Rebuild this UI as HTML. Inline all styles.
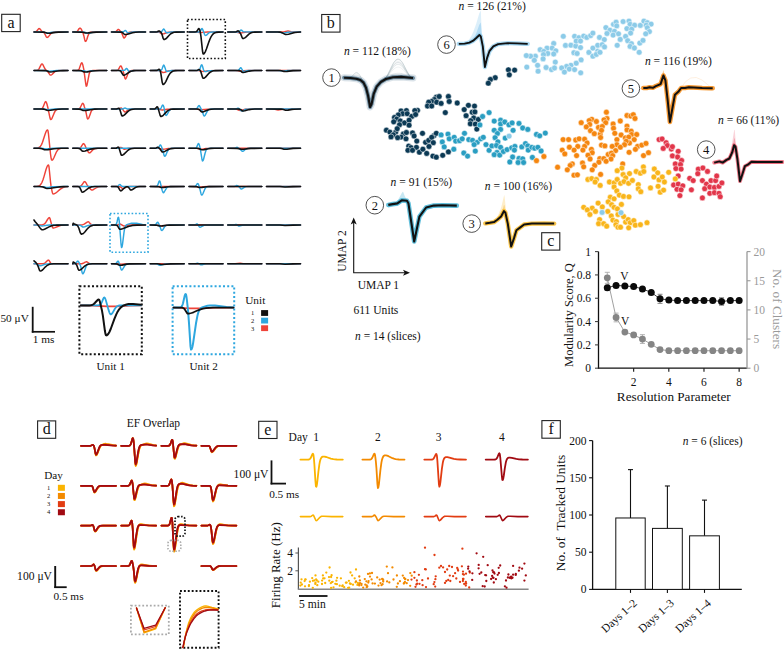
<!DOCTYPE html>
<html><head><meta charset="utf-8"><style>
html,body{margin:0;padding:0;background:#fff;}
svg{display:block;font-family:"Liberation Serif", serif;}
</style></head><body>
<svg width="784" height="652" viewBox="0 0 784 652">
<rect width="784" height="652" fill="#fff"/>
<rect x="1.7" y="14.3" width="18.5" height="17.3" fill="none" stroke="#222" stroke-width="1.1"/>
<text x="10.95" y="27.6" font-size="16" text-anchor="middle" fill="#111"  style="">a</text>
<path d="M34 32L35 31.9L36 31.6L37 30.8L38.5 28.9L39 28.5L39.5 28.6L40 29L41.5 30.9L42 31.4L43.5 32.3L44 32.7L45 34.3L46 36.4L46.5 37.2L47 37.5L47.5 37.4L48.5 36.6L50.5 34.1L51.5 33.1L52 32.7L53 32.3L54 32.1L55.5 32L68 32" fill="none" stroke="#ef4339" stroke-width="1.45" stroke-linejoin="round" stroke-linecap="round" opacity="1" />
<path d="M34 32L42.5 32.1L44 32.3L46 32.9L47 33L48.5 32.9L52 32.2L54 32.1L68 32" fill="none" stroke="#2ea7df" stroke-width="1.45" stroke-linejoin="round" stroke-linecap="round" opacity="1" />
<path d="M34 32L43.5 32.1L45 32.4L47 33.1L48 33.2L50.5 33.1L55.5 32.4L58.5 32.1L68 32" fill="none" stroke="#111111" stroke-width="1.6" stroke-linejoin="round" stroke-linecap="round" opacity="1" />
<path d="M72.8 32L75.8 31.9L76.8 31.6L77.2 31.3L77.8 30.7L79.2 28.5L79.8 28.1L80.2 28.1L80.8 28.5L81.2 29.2L82.8 32.3L83.8 35.7L84.8 40L85.2 41.3L85.8 41.4L86.2 40.7L86.8 39.5L87.8 36.3L88.8 33.9L89.2 33.1L89.8 32.6L90.2 32.3L91.2 32.1L92.2 32L106.8 32" fill="none" stroke="#ef4339" stroke-width="1.45" stroke-linejoin="round" stroke-linecap="round" opacity="1" />
<path d="M72.8 32L83.2 32.1L84.8 32.3L87.2 33.1L88.2 33.2L89.8 33L92.8 32.3L94.8 32.1L106.8 32" fill="none" stroke="#2ea7df" stroke-width="1.45" stroke-linejoin="round" stroke-linecap="round" opacity="1" />
<path d="M72.8 32L81.2 32.1L82.8 32.3L85.2 32.9L86.2 33L88.2 32.9L96.2 32.1L106.8 32" fill="none" stroke="#111111" stroke-width="1.6" stroke-linejoin="round" stroke-linecap="round" opacity="1" />
<path d="M111.5 32L114.5 32L115.5 31.8L116.5 31.1L118 29.5L118.5 29.4L119 29.7L119.5 30.2L121.5 32.8L122 33.8L123.5 37.6L124 38L124.5 37.8L125 37.3L126.5 34.7L127.5 33.3L128 32.8L129 32.3L130 32.1L131 32L145.5 32" fill="none" stroke="#ef4339" stroke-width="1.45" stroke-linejoin="round" stroke-linecap="round" opacity="1" />
<path d="M111.5 32L122.5 32L123.5 31.7L125 30.5L125.5 30.5L126 30.9L127 32.3L127.5 32.7L128 32.9L129 32.9L131.5 32.2L133 32L145.5 32" fill="none" stroke="#2ea7df" stroke-width="1.45" stroke-linejoin="round" stroke-linecap="round" opacity="1" />
<path d="M111.5 32L121 32.1L122 32.3L122.5 32.6L124 34L124.5 34.4L125 34.5L127.5 34.2L132.5 32.8L135.5 32.3L139 32L145.5 32" fill="none" stroke="#111111" stroke-width="1.6" stroke-linejoin="round" stroke-linecap="round" opacity="1" />
<path d="M150.2 32L157.2 32L158.8 32.1L159.8 32.5L161.2 33.6L161.8 33.9L162.2 34L163.8 33.8L167.2 32.5L169.2 32.1L172.2 32L184.2 32" fill="none" stroke="#ef4339" stroke-width="1.45" stroke-linejoin="round" stroke-linecap="round" opacity="1" />
<path d="M150.2 32L160.8 31.9L161.2 31.8L161.8 31.4L163.2 29.3L163.8 29L164.2 29.3L165.8 32L166.2 32.5L166.8 32.7L167.8 32.7L170.2 32.1L171.8 32L184.2 32" fill="none" stroke="#2ea7df" stroke-width="1.45" stroke-linejoin="round" stroke-linecap="round" opacity="1" />
<path d="M150.2 32L156.2 32L157.2 31.8L158.8 31L159.2 31L159.8 31.3L160.8 32.1L161.2 32.7L161.8 33.7L162.2 35L163.2 38.4L163.8 39.4L164.2 39.5L164.8 39.4L165.8 38.8L166.8 37.9L169.2 35.2L170.2 34.2L171.2 33.5L172.8 32.7L174.2 32.3L176.2 32.1L184.2 32" fill="none" stroke="#111111" stroke-width="1.6" stroke-linejoin="round" stroke-linecap="round" opacity="1" />
<path d="M189 32L195.5 32L200 32.6L207.5 32L223 32" fill="none" stroke="#ef4339" stroke-width="1.45" stroke-linejoin="round" stroke-linecap="round" opacity="1" />
<path d="M189 32L198.5 32L199.5 31.8L200 31.5L200.5 30.9L201.5 28.9L202 28.5L202.5 29.1L204.5 34.3L205 35.2L205.5 35.5L206 35.4L206.5 35.1L209 32.8L209.5 32.5L210.5 32.2L212.5 32L223 32" fill="none" stroke="#2ea7df" stroke-width="1.45" stroke-linejoin="round" stroke-linecap="round" opacity="1" />
<path d="M189 32L195 32L196 31.8L196.5 31.6L197 31.1L198.5 28.8L199 28.6L199.5 29.3L200 30.9L200.5 33.4L201 36.8L202.5 51L203 53.7L203.5 54L204 53.7L204.5 53.1L205.5 51.3L206.5 48.8L209 41.6L210 39L211 36.9L212.5 34.6L214 33.2L215 32.7L216 32.4L218.5 32.1L223 32" fill="none" stroke="#111111" stroke-width="1.6" stroke-linejoin="round" stroke-linecap="round" opacity="1" />
<path d="M227.8 32L235.2 32.1L236.8 32.3L239.2 32.9L240.2 33L241.8 32.8L245.2 32.2L247.2 32.1L261.8 32" fill="none" stroke="#ef4339" stroke-width="1.45" stroke-linejoin="round" stroke-linecap="round" opacity="1" />
<path d="M227.8 32L238.2 32L238.8 31.8L239.2 31.6L240.8 30.1L241.2 30L241.8 30.4L243.2 31.7L244.2 31.9L261.8 32" fill="none" stroke="#2ea7df" stroke-width="1.45" stroke-linejoin="round" stroke-linecap="round" opacity="1" />
<path d="M227.8 32L235.2 32L236.2 31.7L237.8 30.9L238.2 30.9L238.8 31.2L239.2 31.7L240.2 33.1L240.8 34.1L242.2 37.7L242.8 38.4L243.2 38.5L243.8 38.4L244.8 37.9L245.8 37.1L249.2 33.9L250.2 33.3L251.8 32.6L253.2 32.2L254.8 32.1L261.8 32" fill="none" stroke="#111111" stroke-width="1.6" stroke-linejoin="round" stroke-linecap="round" opacity="1" />
<path d="M266.5 32L283 32L284.5 31.8L287 31.1L288 31L289 31.1L291 31.7L292.5 31.9L300.5 32" fill="none" stroke="#ef4339" stroke-width="1.45" stroke-linejoin="round" stroke-linecap="round" opacity="1" />
<path d="M266.5 32L278 32L279.5 32.2L282 32.9L283 33L284.5 32.9L288 32.2L290 32.1L300.5 32" fill="none" stroke="#2ea7df" stroke-width="1.45" stroke-linejoin="round" stroke-linecap="round" opacity="1" />
<path d="M266.5 32L277.5 32L280 32.1L281.5 32.5L282.5 32.9L284.5 34.1L285.5 34.5L286 34.5L288.5 34.2L293 32.9L295 32.5L297.5 32.2L300.5 32" fill="none" stroke="#111111" stroke-width="1.6" stroke-linejoin="round" stroke-linecap="round" opacity="1" />
<path d="M34 70.5L36.5 70.4L37.5 70.2L38 69.9L38.5 69.5L39 68.9L41 64.9L41.5 64.2L42 64L42.5 64.2L43 64.9L44.5 68L45.5 69.6L47.5 71.4L49.5 74.2L50 74.8L50.5 75.1L51 75.1L52 74.5L54.5 71.9L55.5 71.2L56.5 70.8L57.5 70.6L59 70.5L68 70.5" fill="none" stroke="#ef4339" stroke-width="1.45" stroke-linejoin="round" stroke-linecap="round" opacity="1" />
<path d="M34 70.5L45 70.5L46.5 70.7L49 71.1L50 71.2L57 70.5L68 70.5" fill="none" stroke="#2ea7df" stroke-width="1.45" stroke-linejoin="round" stroke-linecap="round" opacity="1" />
<path d="M34 70.5L45 70.6L46.5 70.8L49 71.8L50 72L52.5 71.8L57.5 71L60 70.7L63 70.6L68 70.5" fill="none" stroke="#111111" stroke-width="1.6" stroke-linejoin="round" stroke-linecap="round" opacity="1" />
<path d="M72.8 70.5L76.8 70.5L77.8 70.3L78.2 70L78.8 69.5L79.2 68.7L81.2 63.3L81.8 62.8L82.2 63.3L82.8 64.8L83.8 69.4L84.2 72.4L85.8 84.1L86.2 86.2L86.8 85.9L87.2 84.2L88.8 75.9L89.2 73.7L89.8 72.3L90.2 71.4L90.8 70.9L91.8 70.6L92.8 70.5L106.8 70.5" fill="none" stroke="#ef4339" stroke-width="1.45" stroke-linejoin="round" stroke-linecap="round" opacity="1" />
<path d="M72.8 70.5L82.2 70.6L83.8 70.8L86.2 71.4L87.2 71.5L88.8 71.3L92.2 70.7L94.2 70.6L106.8 70.5" fill="none" stroke="#2ea7df" stroke-width="1.45" stroke-linejoin="round" stroke-linecap="round" opacity="1" />
<path d="M72.8 70.5L80.2 70.6L81.8 70.9L84.2 71.9L85.2 72L87.2 71.9L92.2 71L95.2 70.7L99.2 70.5L106.8 70.5" fill="none" stroke="#111111" stroke-width="1.6" stroke-linejoin="round" stroke-linecap="round" opacity="1" />
<path d="M111.5 70.5L116.5 70.5L117.5 70.3L118 70L118.5 69.4L120 66.5L120.5 66L121 66L121.5 66.7L122.5 69.2L123.5 72.4L124.5 76.8L125 78.4L125.5 78.9L126 78.4L126.5 77.5L128 73.5L128.5 72.4L129 71.6L129.5 71.1L130 70.8L131 70.6L132 70.5L145.5 70.5" fill="none" stroke="#ef4339" stroke-width="1.45" stroke-linejoin="round" stroke-linecap="round" opacity="1" />
<path d="M111.5 70.5L124 70.4L124.5 70.3L125 70L126 68.8L126.5 68.4L127 68.6L128.5 71L129 71.3L129.5 71.4L132.5 70.7L134 70.5L145.5 70.5" fill="none" stroke="#2ea7df" stroke-width="1.45" stroke-linejoin="round" stroke-linecap="round" opacity="1" />
<path d="M111.5 70.5L118.5 70.5L120 70.7L120.5 71L121 71.5L123 74.9L123.5 75.2L124.5 75.1L125.5 74.6L130 71.8L131 71.3L132.5 70.9L134 70.6L136 70.5L145.5 70.5" fill="none" stroke="#111111" stroke-width="1.6" stroke-linejoin="round" stroke-linecap="round" opacity="1" />
<path d="M150.2 70.5L159.2 70.6L160.2 70.9L160.8 71.1L162.2 72.3L162.8 72.5L163.2 72.5L164.8 72.2L168.2 70.9L170.2 70.6L173.2 70.5L184.2 70.5" fill="none" stroke="#ef4339" stroke-width="1.45" stroke-linejoin="round" stroke-linecap="round" opacity="1" />
<path d="M150.2 70.5L159.8 70.5L160.8 70.4L161.2 70.1L161.8 69.5L162.2 68.5L163.2 65.7L163.8 65.1L164.2 65.6L165.8 70.1L166.2 70.9L166.8 71.3L167.2 71.5L167.8 71.4L170.2 70.8L172.2 70.5L184.2 70.5" fill="none" stroke="#2ea7df" stroke-width="1.45" stroke-linejoin="round" stroke-linecap="round" opacity="1" />
<path d="M150.2 70.5L156.8 70.4L157.8 70.1L158.8 69.3L159.2 69.2L159.8 69.8L160.2 71L160.8 73.1L162.2 82.3L162.8 84.2L163.2 84.5L163.8 84.3L164.8 83.2L165.8 81.6L168.2 76.4L169.2 74.6L170.2 73.2L171.8 71.8L173.2 71L175.2 70.6L177.8 70.5L184.2 70.5" fill="none" stroke="#111111" stroke-width="1.6" stroke-linejoin="round" stroke-linecap="round" opacity="1" />
<path d="M189 70.5L198.5 70.6L200 70.8L202 71.4L203 71.5L204.5 71.4L208 70.7L210 70.6L223 70.5" fill="none" stroke="#ef4339" stroke-width="1.45" stroke-linejoin="round" stroke-linecap="round" opacity="1" />
<path d="M189 70.5L197.5 70.5L198.5 70.4L199 70.2L199.5 69.7L200 68.7L201 65.7L201.5 64.8L202 65L202.5 66.3L203.5 69.7L204 70.8L204.5 71.4L205 71.6L206 71.6L208.5 70.8L210 70.6L223 70.5" fill="none" stroke="#2ea7df" stroke-width="1.45" stroke-linejoin="round" stroke-linecap="round" opacity="1" />
<path d="M189 70.5L196.5 70.5L197.5 70.2L198.5 69.6L199 69.5L199.5 69.8L200 70.3L200.5 71.1L201 72.2L202.5 77.2L203 78.2L203.5 78.3L204.5 77.9L205.5 77.1L208.5 73.7L210 72.3L211 71.7L212 71.2L213.5 70.8L215.5 70.6L223 70.5" fill="none" stroke="#111111" stroke-width="1.6" stroke-linejoin="round" stroke-linecap="round" opacity="1" />
<path d="M227.8 70.5L235.2 70.5L240.2 71L247.2 70.5L261.8 70.5" fill="none" stroke="#ef4339" stroke-width="1.45" stroke-linejoin="round" stroke-linecap="round" opacity="1" />
<path d="M227.8 70.5L237.8 70.5L238.2 70.3L238.8 70.1L239.2 69.5L240.2 68.1L240.8 67.7L241.2 68L242.8 70.7L243.2 71.2L243.8 71.4L244.8 71.3L247.2 70.7L248.8 70.5L261.8 70.5" fill="none" stroke="#2ea7df" stroke-width="1.45" stroke-linejoin="round" stroke-linecap="round" opacity="1" />
<path d="M227.8 70.5L237.8 70.5L239.2 70.6L240.2 70.9L240.8 71.1L242.2 72.3L242.8 72.5L243.2 72.5L244.8 72.3L249.2 71.1L251.8 70.7L254.8 70.5L261.8 70.5" fill="none" stroke="#111111" stroke-width="1.6" stroke-linejoin="round" stroke-linecap="round" opacity="1" />
<path d="M266.5 70.5L300.5 70.5" fill="none" stroke="#ef4339" stroke-width="1.45" stroke-linejoin="round" stroke-linecap="round" opacity="1" />
<path d="M266.5 70.5L278 70.5L283 71.1L288 70.5L300.5 70.5" fill="none" stroke="#2ea7df" stroke-width="1.45" stroke-linejoin="round" stroke-linecap="round" opacity="1" />
<path d="M266.5 70.5L280 70.5L281.5 70.7L284 71.4L285 71.5L287 71.4L293 70.6L300.5 70.5" fill="none" stroke="#111111" stroke-width="1.6" stroke-linejoin="round" stroke-linecap="round" opacity="1" />
<path d="M34 109L40.5 109L41.5 108.8L42 108.5L42.5 108L43 107.2L45 102.2L45.5 101.6L46 101.7L46.5 102.7L47 104.3L48 108.3L50 118.1L50.5 119.5L51 119.5L51.5 119.1L52 118.3L54 113.4L55 111.4L55.5 110.7L56.5 109.7L57.5 109.3L59 109L68 109" fill="none" stroke="#ef4339" stroke-width="1.45" stroke-linejoin="round" stroke-linecap="round" opacity="1" />
<path d="M34 109L43.5 109L48 109.6L55 109L68 109" fill="none" stroke="#2ea7df" stroke-width="1.45" stroke-linejoin="round" stroke-linecap="round" opacity="1" />
<path d="M34 109L41.5 109L43.5 109.1L45 109.5L47 110.3L48 110.5L50.5 110.3L55.5 109.5L58.5 109.2L62 109L68 109" fill="none" stroke="#111111" stroke-width="1.6" stroke-linejoin="round" stroke-linecap="round" opacity="1" />
<path d="M72.8 109L77.8 109L78.8 108.9L79.2 108.7L79.8 108.3L80.2 107.7L81.8 104.5L82.2 103.7L82.8 103.3L83.2 103.7L83.8 104.7L84.2 106.2L85.8 111.4L87.2 118.1L87.8 119L88.2 118.7L88.8 117.9L90.8 112.4L91.2 111.3L91.8 110.4L92.2 109.8L92.8 109.5L93.8 109.1L94.8 109L106.8 109" fill="none" stroke="#ef4339" stroke-width="1.45" stroke-linejoin="round" stroke-linecap="round" opacity="1" />
<path d="M72.8 109L106.8 109" fill="none" stroke="#2ea7df" stroke-width="1.45" stroke-linejoin="round" stroke-linecap="round" opacity="1" />
<path d="M72.8 109L79.2 109.1L80.8 109.4L83.2 110.4L84.2 110.5L86.2 110.4L91.8 109.5L94.8 109.1L98.8 109L106.8 109" fill="none" stroke="#111111" stroke-width="1.6" stroke-linejoin="round" stroke-linecap="round" opacity="1" />
<path d="M111.5 109L118.5 109L119 108.9L120.5 108.1L121 108L121.5 108.2L122 108.6L123 109.8L124 111.2L124.5 111.8L125 112L125.5 111.9L126 111.6L128.5 109.6L130 109.1L132 109L145.5 109" fill="none" stroke="#ef4339" stroke-width="1.45" stroke-linejoin="round" stroke-linecap="round" opacity="1" />
<path d="M111.5 109L122.5 109L123.5 108.7L124.5 108.1L125 108L125.5 108.1L127 108.9L128 109L145.5 109" fill="none" stroke="#2ea7df" stroke-width="1.45" stroke-linejoin="round" stroke-linecap="round" opacity="1" />
<path d="M111.5 109L116.5 109L117 108.9L118.5 108.2L119 108.3L119.5 108.9L120 110.1L121.5 115L122 115.9L122.5 116L123.5 115.6L124.5 114.9L127.5 111.9L129 110.7L130 110L131.5 109.5L133 109.2L135 109L145.5 109" fill="none" stroke="#111111" stroke-width="1.6" stroke-linejoin="round" stroke-linecap="round" opacity="1" />
<path d="M150.2 109L157.2 109.1L158.8 109.3L161.2 109.9L162.2 110L163.8 109.8L167.2 109.2L169.2 109.1L184.2 109" fill="none" stroke="#ef4339" stroke-width="1.45" stroke-linejoin="round" stroke-linecap="round" opacity="1" />
<path d="M150.2 109L158.8 109L159.8 108.9L160.2 108.8L160.8 108.5L161.2 107.8L162.2 105.6L162.8 105L163.2 105.3L163.8 106.7L165.2 113.8L165.8 115.2L166.2 115.4L166.8 115L167.2 114.3L169.2 110.7L170.2 109.7L171.2 109.2L173.2 109L184.2 109" fill="none" stroke="#2ea7df" stroke-width="1.45" stroke-linejoin="round" stroke-linecap="round" opacity="1" />
<path d="M150.2 109L153.8 109L154.8 108.9L155.2 108.7L155.8 108.2L156.8 107L157.2 106.8L157.8 107.4L158.2 108.6L160.2 115.6L160.8 116.4L161.2 116.5L162.2 116.1L163.2 115.3L166.2 112.1L167.2 111.1L168.2 110.4L169.8 109.6L171.2 109.3L173.2 109.1L184.2 109" fill="none" stroke="#111111" stroke-width="1.6" stroke-linejoin="round" stroke-linecap="round" opacity="1" />
<path d="M189 109L196.5 109.1L201 109.8L208 109.1L223 109" fill="none" stroke="#ef4339" stroke-width="1.45" stroke-linejoin="round" stroke-linecap="round" opacity="1" />
<path d="M189 109L196 108.9L196.5 108.7L197 108.3L198.5 105.8L199 105.5L199.5 105.9L202 110.6L203.5 115.1L204 115.9L204.5 115.9L205 115.5L205.5 114.7L207.5 110.8L208 110.2L209 109.4L210 109.1L211 109L223 109" fill="none" stroke="#2ea7df" stroke-width="1.45" stroke-linejoin="round" stroke-linecap="round" opacity="1" />
<path d="M189 109L197 109L198.5 109.2L199.5 109.7L201 111.4L201.5 111.8L202 112L203 111.9L204 111.6L208.5 109.8L211 109.2L214.5 109L223 109" fill="none" stroke="#111111" stroke-width="1.6" stroke-linejoin="round" stroke-linecap="round" opacity="1" />
<path d="M227.8 109L235.2 109.1L236.8 109.4L239.2 110.4L240.2 110.5L241.8 110.3L245.2 109.3L247.2 109.1L261.8 109" fill="none" stroke="#ef4339" stroke-width="1.45" stroke-linejoin="round" stroke-linecap="round" opacity="1" />
<path d="M227.8 109L235.2 109L236.2 108.8L237.8 108.1L238.2 108.1L238.8 108.4L240.2 109.9L241.2 110.8L241.8 111L242.2 111L243.2 110.6L245.2 109.5L246.2 109.2L247.2 109.1L261.8 109" fill="none" stroke="#2ea7df" stroke-width="1.45" stroke-linejoin="round" stroke-linecap="round" opacity="1" />
<path d="M227.8 109L237.8 109L239.2 109.1L240.2 109.4L240.8 109.6L242.2 110.8L242.8 111L243.2 111L244.8 110.8L249.2 109.6L251.8 109.2L254.8 109L261.8 109" fill="none" stroke="#111111" stroke-width="1.6" stroke-linejoin="round" stroke-linecap="round" opacity="1" />
<path d="M266.5 109L273.5 109.1L275 109.3L277 109.9L278 110L279.5 109.9L283 109.2L285 109.1L300.5 109" fill="none" stroke="#ef4339" stroke-width="1.45" stroke-linejoin="round" stroke-linecap="round" opacity="1" />
<path d="M266.5 109L300.5 109" fill="none" stroke="#2ea7df" stroke-width="1.45" stroke-linejoin="round" stroke-linecap="round" opacity="1" />
<path d="M266.5 109L281 109.1L282.5 109.3L285 110.1L286 110.2L288 110.1L292 109.4L294 109.2L300.5 109" fill="none" stroke="#111111" stroke-width="1.6" stroke-linejoin="round" stroke-linecap="round" opacity="1" />
<path d="M34 148.3L36.5 148.2L38 148L39 147.5L39.5 147.2L40.5 146.2L41.5 144.6L42.5 142.3L45 134.5L46 131.7L46.5 130.7L47 130.1L47.5 129.9L48 130.8L48.5 134.2L50.5 154L51 157.6L51.5 159.8L52 160.2L52.5 160L53 159.4L54 157.5L56.5 151.8L57.5 150.3L58.5 149.3L59.5 148.7L61 148.4L68 148.3" fill="none" stroke="#ef4339" stroke-width="1.45" stroke-linejoin="round" stroke-linecap="round" opacity="1" />
<path d="M34 148.3L41.5 148.3L46 148.9L53 148.3L68 148.3" fill="none" stroke="#2ea7df" stroke-width="1.45" stroke-linejoin="round" stroke-linecap="round" opacity="1" />
<path d="M34 148.3L39 148.3L40.5 148.4L42 148.8L44 149.6L45 149.8L48 149.6L54 148.8L57 148.5L61 148.3L68 148.3" fill="none" stroke="#111111" stroke-width="1.6" stroke-linejoin="round" stroke-linecap="round" opacity="1" />
<path d="M72.8 148.3L78.2 148.3L79.8 148L80.2 147.8L80.8 147.3L81.2 146.7L82.8 144.2L83.2 143.7L83.8 143.6L84.2 144.1L84.8 145L85.8 147.2L88.2 152L88.8 152.7L89.2 152.9L89.8 152.8L90.8 152.1L93.2 149.5L94.2 148.9L95.2 148.5L97.8 148.3L106.8 148.3" fill="none" stroke="#ef4339" stroke-width="1.45" stroke-linejoin="round" stroke-linecap="round" opacity="1" />
<path d="M72.8 148.3L106.8 148.3" fill="none" stroke="#2ea7df" stroke-width="1.45" stroke-linejoin="round" stroke-linecap="round" opacity="1" />
<path d="M72.8 148.3L77.8 148.3L79.2 148.5L80.2 149L81.8 150.6L82.2 151.1L82.8 151.3L83.8 151.2L85.2 151L90.8 149.1L93.8 148.6L97.8 148.3L106.8 148.3" fill="none" stroke="#111111" stroke-width="1.6" stroke-linejoin="round" stroke-linecap="round" opacity="1" />
<path d="M111.5 148.3L117.5 148.2L118.5 148.1L120 147.5L121 147.4L122 147.9L123.5 149L124.5 149.2L127.5 148.5L129 148.3L145.5 148.3" fill="none" stroke="#ef4339" stroke-width="1.45" stroke-linejoin="round" stroke-linecap="round" opacity="1" />
<path d="M111.5 148.3L145.5 148.3" fill="none" stroke="#2ea7df" stroke-width="1.45" stroke-linejoin="round" stroke-linecap="round" opacity="1" />
<path d="M111.5 148.3L116 148.2L116.5 148.1L118 147.1L118.5 147.2L119 148L119.5 149.4L121 154.5L121.5 155.3L122.5 155.1L123.5 154.6L128 150.2L129.5 149.3L131 148.7L132.5 148.5L134.5 148.3L145.5 148.3" fill="none" stroke="#111111" stroke-width="1.6" stroke-linejoin="round" stroke-linecap="round" opacity="1" />
<path d="M150.2 148.3L158.2 148.4L159.8 148.6L162.2 149.2L163.2 149.3L164.8 149.1L168.2 148.5L170.2 148.4L184.2 148.3" fill="none" stroke="#ef4339" stroke-width="1.45" stroke-linejoin="round" stroke-linecap="round" opacity="1" />
<path d="M150.2 148.3L156.8 148.3L157.8 148.1L158.2 147.8L158.8 147.2L159.8 145.5L160.2 145L160.8 145.2L161.2 146L162.2 148.5L164.2 155.7L164.8 156.3L165.2 156L165.8 155.3L167.2 151.8L168.2 150L168.8 149.3L169.8 148.6L170.8 148.4L171.8 148.3L184.2 148.3" fill="none" stroke="#2ea7df" stroke-width="1.45" stroke-linejoin="round" stroke-linecap="round" opacity="1" />
<path d="M150.2 148.3L155.2 148.3L156.2 148L157.2 147.4L157.8 147.3L158.2 147.5L158.8 147.8L159.8 148.6L160.2 149.2L161.8 151.6L162.2 152L162.8 152L163.8 151.8L164.8 151.4L168.8 149.3L169.8 149L171.2 148.6L174.8 148.3L184.2 148.3" fill="none" stroke="#111111" stroke-width="1.6" stroke-linejoin="round" stroke-linecap="round" opacity="1" />
<path d="M189 148.3L196.5 148.4L198 148.6L200 149.2L201 149.3L202.5 149.2L206 148.5L208 148.4L223 148.3" fill="none" stroke="#ef4339" stroke-width="1.45" stroke-linejoin="round" stroke-linecap="round" opacity="1" />
<path d="M189 148.3L195 148.3L195.5 148.2L196 147.9L196.5 147.4L197 146.4L198 144L198.5 143.5L199 144.1L199.5 145.6L200 147.6L200.5 150.1L202 159.5L202.5 160.9L203 160.7L203.5 159.5L205 153.5L206 150.4L206.5 149.5L207 148.9L207.5 148.6L208.5 148.4L209.5 148.3L223 148.3" fill="none" stroke="#2ea7df" stroke-width="1.45" stroke-linejoin="round" stroke-linecap="round" opacity="1" />
<path d="M189 148.3L197 148.3L198.5 148.4L199.5 148.7L201 149.5L202 149.8L204 149.6L208.5 148.7L211 148.4L214.5 148.3L223 148.3" fill="none" stroke="#111111" stroke-width="1.6" stroke-linejoin="round" stroke-linecap="round" opacity="1" />
<path d="M227.8 148.3L261.8 148.3" fill="none" stroke="#ef4339" stroke-width="1.45" stroke-linejoin="round" stroke-linecap="round" opacity="1" />
<path d="M227.8 148.3L234.2 148.3L235.2 148.1L236.8 147.3L237.2 147.3L239.8 148.8L240.2 149.2L241.8 150.9L242.2 151.2L242.8 151.3L243.2 151.1L243.8 150.8L245.2 149.5L246.2 148.9L247.8 148.4L249.8 148.3L261.8 148.3" fill="none" stroke="#2ea7df" stroke-width="1.45" stroke-linejoin="round" stroke-linecap="round" opacity="1" />
<path d="M227.8 148.3L237.2 148.4L238.8 148.6L241.2 149.2L242.2 149.3L243.8 149.2L248.2 148.6L250.8 148.4L261.8 148.3" fill="none" stroke="#111111" stroke-width="1.6" stroke-linejoin="round" stroke-linecap="round" opacity="1" />
<path d="M266.5 148.3L300.5 148.3" fill="none" stroke="#ef4339" stroke-width="1.45" stroke-linejoin="round" stroke-linecap="round" opacity="1" />
<path d="M266.5 148.3L300.5 148.3" fill="none" stroke="#2ea7df" stroke-width="1.45" stroke-linejoin="round" stroke-linecap="round" opacity="1" />
<path d="M266.5 148.3L280 148.3L281.5 148.5L284 149.2L285 149.3L287 149.2L293 148.4L300.5 148.3" fill="none" stroke="#111111" stroke-width="1.6" stroke-linejoin="round" stroke-linecap="round" opacity="1" />
<path d="M34 186.5L37 186.4L38.5 186L39.5 185.6L40 185.2L41 184L42 182.3L43 179.8L44 176.6L46 169.5L47 166.7L47.5 165.7L48 165.1L48.5 164.9L49 166.7L50.5 181.8L51 185.7L52 191.1L52.5 193L53 194L54 193.9L55.5 193.2L57 192L60 189.4L61.5 188.3L62.5 187.8L63.5 187.4L65 186.9L68 186.6" fill="none" stroke="#ef4339" stroke-width="1.45" stroke-linejoin="round" stroke-linecap="round" opacity="1" />
<path d="M34 186.5L42.5 186.6L44 186.8L46 187.4L47 187.5L48.5 187.4L52 186.7L54 186.6L68 186.5" fill="none" stroke="#2ea7df" stroke-width="1.45" stroke-linejoin="round" stroke-linecap="round" opacity="1" />
<path d="M34 186.5L39.5 186.5L41.5 186.7L43 187.1L46 188.3L47 188.5L50.5 188.3L57 187.2L60 186.9L63.5 186.6L68 186.5" fill="none" stroke="#111111" stroke-width="1.6" stroke-linejoin="round" stroke-linecap="round" opacity="1" />
<path d="M72.8 186.5L78.8 186.5L80.2 186.2L81.2 185.6L81.8 185.1L83.8 182.1L84.2 181.7L84.8 181.6L85.2 181.9L85.8 182.5L87.2 185.1L88.8 187.1L90.8 189.4L91.2 189.8L91.8 190L92.2 190L93.2 189.7L96.8 187.5L97.8 187.1L98.8 186.8L101.2 186.5L106.8 186.5" fill="none" stroke="#ef4339" stroke-width="1.45" stroke-linejoin="round" stroke-linecap="round" opacity="1" />
<path d="M72.8 186.5L106.8 186.5" fill="none" stroke="#2ea7df" stroke-width="1.45" stroke-linejoin="round" stroke-linecap="round" opacity="1" />
<path d="M72.8 186.5L77.8 186.5L78.8 186.7L79.2 186.9L79.8 187.5L80.2 188.4L81.8 191.9L82.2 192.2L83.2 192L84.2 191.5L88.2 188.3L89.8 187.5L91.2 186.9L92.8 186.7L94.8 186.5L106.8 186.5" fill="none" stroke="#111111" stroke-width="1.6" stroke-linejoin="round" stroke-linecap="round" opacity="1" />
<path d="M111.5 186.5L118 186.5L119.5 186.6L120.5 187L122 188.1L122.5 188.4L123 188.5L124 188.3L126.5 186.9L128 186.6L130.5 186.5L145.5 186.5" fill="none" stroke="#ef4339" stroke-width="1.45" stroke-linejoin="round" stroke-linecap="round" opacity="1" />
<path d="M111.5 186.5L116.5 186.5L117.5 186.4L118 186.1L119.5 184.6L120 184.5L120.5 184.9L121.5 186L122 186.3L123 186.5L145.5 186.5" fill="none" stroke="#2ea7df" stroke-width="1.45" stroke-linejoin="round" stroke-linecap="round" opacity="1" />
<path d="M111.5 186.5L116.5 186.5L117.5 186.7L118 187L118.5 187.6L120 190.3L120.5 190.8L121 190.9L122 190.3L124 188.3L125 187.5L126.5 186.8L127.5 186.7L128 186.9L128.5 187.3L129 187.9L130 189.4L130.5 189.9L131 190L131.5 189.9L132.5 189.5L135 187.8L136 187.3L137.5 186.8L140 186.5L145.5 186.5" fill="none" stroke="#111111" stroke-width="1.6" stroke-linejoin="round" stroke-linecap="round" opacity="1" />
<path d="M150.2 186.5L184.2 186.5" fill="none" stroke="#ef4339" stroke-width="1.45" stroke-linejoin="round" stroke-linecap="round" opacity="1" />
<path d="M150.2 186.5L155.8 186.5L156.8 186.2L157.2 185.8L157.8 184.9L158.8 181.9L159.2 180.9L159.8 180.9L160.2 182.1L162.2 190.5L162.8 192L163.2 192.7L163.8 192.5L164.2 192L166.2 188.6L166.8 187.9L167.2 187.4L168.2 186.8L169.2 186.6L170.2 186.5L184.2 186.5" fill="none" stroke="#2ea7df" stroke-width="1.45" stroke-linejoin="round" stroke-linecap="round" opacity="1" />
<path d="M150.2 186.5L157.2 186.6L158.8 186.8L161.2 187.4L162.2 187.5L163.8 187.4L168.2 186.8L170.8 186.6L184.2 186.5" fill="none" stroke="#111111" stroke-width="1.6" stroke-linejoin="round" stroke-linecap="round" opacity="1" />
<path d="M189 186.5L195.5 186.5L200 187L207.5 186.5L223 186.5" fill="none" stroke="#ef4339" stroke-width="1.45" stroke-linejoin="round" stroke-linecap="round" opacity="1" />
<path d="M189 186.5L194 186.5L195 186.4L195.5 186.1L196 185.6L197 184.1L197.5 183.6L198 183.7L198.5 184.4L199.5 187.3L201 193.7L201.5 195L202 195L202.5 194.4L203 193.5L205 188.7L206 187.4L207 186.8L208 186.6L209 186.5L223 186.5" fill="none" stroke="#2ea7df" stroke-width="1.45" stroke-linejoin="round" stroke-linecap="round" opacity="1" />
<path d="M189 186.5L195.5 186.6L197 186.8L199 187.4L200 187.5L202 187.4L206.5 186.8L209 186.6L223 186.5" fill="none" stroke="#111111" stroke-width="1.6" stroke-linejoin="round" stroke-linecap="round" opacity="1" />
<path d="M227.8 186.5L261.8 186.5" fill="none" stroke="#ef4339" stroke-width="1.45" stroke-linejoin="round" stroke-linecap="round" opacity="1" />
<path d="M227.8 186.5L234.2 186.5L235.2 186.3L236.8 185.5L237.2 185.6L237.8 185.8L238.8 186.6L240.8 188.8L241.2 189L242.2 188.7L244.8 187.1L246.2 186.6L248.2 186.5L261.8 186.5" fill="none" stroke="#2ea7df" stroke-width="1.45" stroke-linejoin="round" stroke-linecap="round" opacity="1" />
<path d="M227.8 186.5L261.8 186.5" fill="none" stroke="#111111" stroke-width="1.6" stroke-linejoin="round" stroke-linecap="round" opacity="1" />
<path d="M266.5 186.5L300.5 186.5" fill="none" stroke="#ef4339" stroke-width="1.45" stroke-linejoin="round" stroke-linecap="round" opacity="1" />
<path d="M266.5 186.5L300.5 186.5" fill="none" stroke="#2ea7df" stroke-width="1.45" stroke-linejoin="round" stroke-linecap="round" opacity="1" />
<path d="M266.5 186.5L280 186.5L285 187L293 186.6L300.5 186.5" fill="none" stroke="#111111" stroke-width="1.6" stroke-linejoin="round" stroke-linecap="round" opacity="1" />
<path d="M34 225L41 225L42.5 224.8L43.5 224.5L44.5 223.9L45.5 222.8L47.5 219.5L48.5 218.1L49 217.7L49.5 217.6L50 218.5L52 226.1L52.5 227.4L53 227.9L54 227.9L55 227.6L59 226L61 225.4L63.5 225.1L68 225" fill="none" stroke="#ef4339" stroke-width="1.45" stroke-linejoin="round" stroke-linecap="round" opacity="1" />
<path d="M34 225L38 225.1L41 225.9L42 226L43.5 225.9L47 225.2L49.5 225L68 225" fill="none" stroke="#2ea7df" stroke-width="1.45" stroke-linejoin="round" stroke-linecap="round" opacity="1" />
<path d="M34 220L35 221.5L38 225.1L40.5 228.6L41.5 229.5L42 229.7L43 229.7L44.5 229.3L50 226.4L51.5 225.8L53 225.4L55 225.2L57 225.1L68 225" fill="none" stroke="#111111" stroke-width="1.6" stroke-linejoin="round" stroke-linecap="round" opacity="1" />
<path d="M72.8 225L80.2 225L82.8 224.7L84.2 224.1L87.2 222.1L88.2 221.8L88.8 221.9L89.2 222.4L90.8 224.2L91.2 224.5L92.2 224.9L93.8 225L106.8 225" fill="none" stroke="#ef4339" stroke-width="1.45" stroke-linejoin="round" stroke-linecap="round" opacity="1" />
<path d="M72.8 225L79.2 225.1L80.2 225.4L80.8 225.6L82.2 226.8L82.8 227L83.2 227L84.8 226.7L88.2 225.4L90.2 225.1L93.2 225L106.8 225" fill="none" stroke="#2ea7df" stroke-width="1.45" stroke-linejoin="round" stroke-linecap="round" opacity="1" />
<path d="M72.8 225L73.2 223.2L74.2 223.9L76.2 224.8L77.2 225.4L77.8 226L78.2 226.8L78.8 228L80.2 232.4L80.8 233.6L81.2 234.1L81.8 234.1L82.8 233.8L83.8 233L84.8 232L87.2 229L88.8 227.4L90.2 226.3L91.8 225.7L93.2 225.3L95.8 225.1L106.8 225" fill="none" stroke="#111111" stroke-width="1.6" stroke-linejoin="round" stroke-linecap="round" opacity="1" />
<path d="M111.5 225L117.5 225L118.5 224.7L119.5 224.1L120 224L120.5 224.1L123.5 225.9L124 226L125 225.9L127.5 225.2L129 225L145.5 225" fill="none" stroke="#ef4339" stroke-width="1.45" stroke-linejoin="round" stroke-linecap="round" opacity="1" />
<path d="M111.5 225L115 225L115.5 224.9L116 224.6L116.5 223.7L117 222L118 217.6L118.5 217.2L119 219.4L119.5 223.7L121 243.8L121.5 247.5L122 247L122.5 244.3L124 232.3L124.5 229.2L125 227.2L125.5 225.9L126 225.2L126.5 224.8L127.5 224.4L131.5 223.3L133.5 223.1L136.5 223.3L142.5 224.4L145.5 224.7" fill="none" stroke="#2ea7df" stroke-width="1.45" stroke-linejoin="round" stroke-linecap="round" opacity="1" />
<path d="M111.5 225L115.5 225L116.5 225.2L117 225.4L117.5 225.9L118 226.6L119 228.5L119.5 229.1L120 229.2L121 229.1L122.5 228.8L129 226.3L130.5 225.9L132.5 225.4L137 225.1L145.5 225" fill="none" stroke="#111111" stroke-width="1.6" stroke-linejoin="round" stroke-linecap="round" opacity="1" />
<path d="M150.2 225L157.2 225.1L158.8 225.3L161.2 225.9L162.2 226L163.8 225.8L167.2 225.2L169.2 225.1L184.2 225" fill="none" stroke="#ef4339" stroke-width="1.45" stroke-linejoin="round" stroke-linecap="round" opacity="1" />
<path d="M150.2 225L154.2 225L155.2 224.8L155.8 224.5L157.2 222.4L157.8 222.3L158.2 222.8L158.8 223.8L161.2 230.1L161.8 230.5L162.2 230.3L162.8 229.8L164.2 227.4L165.2 226.1L165.8 225.7L166.8 225.2L167.8 225.1L169.2 225L184.2 225" fill="none" stroke="#2ea7df" stroke-width="1.45" stroke-linejoin="round" stroke-linecap="round" opacity="1" />
<path d="M150.2 225L155.8 225.1L156.8 225.3L159.2 225.9L160.2 226L162.2 225.9L166.8 225.2L169.2 225.1L184.2 225" fill="none" stroke="#111111" stroke-width="1.6" stroke-linejoin="round" stroke-linecap="round" opacity="1" />
<path d="M189 225L223 225" fill="none" stroke="#ef4339" stroke-width="1.45" stroke-linejoin="round" stroke-linecap="round" opacity="1" />
<path d="M189 225L194.5 224.9L195.5 224.6L196.5 224L197 223.9L197.5 224.2L199 226.4L199.5 227L200 227.2L201 226.9L203.5 225.5L205 225.1L207.5 225L223 225" fill="none" stroke="#2ea7df" stroke-width="1.45" stroke-linejoin="round" stroke-linecap="round" opacity="1" />
<path d="M189 225L223 225" fill="none" stroke="#111111" stroke-width="1.6" stroke-linejoin="round" stroke-linecap="round" opacity="1" />
<path d="M227.8 225L261.8 225" fill="none" stroke="#ef4339" stroke-width="1.45" stroke-linejoin="round" stroke-linecap="round" opacity="1" />
<path d="M227.8 225L233.8 225L235.8 224.4L236.2 224.5L236.8 224.7L238.2 225.8L238.8 226L239.2 226L240.2 225.8L242.2 225.3L244.2 225L261.8 225" fill="none" stroke="#2ea7df" stroke-width="1.45" stroke-linejoin="round" stroke-linecap="round" opacity="1" />
<path d="M227.8 225L261.8 225" fill="none" stroke="#111111" stroke-width="1.6" stroke-linejoin="round" stroke-linecap="round" opacity="1" />
<path d="M266.5 225L300.5 225" fill="none" stroke="#ef4339" stroke-width="1.45" stroke-linejoin="round" stroke-linecap="round" opacity="1" />
<path d="M266.5 225L300.5 225" fill="none" stroke="#2ea7df" stroke-width="1.45" stroke-linejoin="round" stroke-linecap="round" opacity="1" />
<path d="M266.5 225L280 225L285 225.5L293 225.1L300.5 225" fill="none" stroke="#111111" stroke-width="1.6" stroke-linejoin="round" stroke-linecap="round" opacity="1" />
<path d="M34 263.8L41.5 263.8L43.5 263.6L44.5 263.3L45 263L47.5 260.5L48 260.2L48.5 260.1L49 260.4L50.5 262.9L51 263.4L51.5 263.6L52 263.7L68 263.8" fill="none" stroke="#ef4339" stroke-width="1.45" stroke-linejoin="round" stroke-linecap="round" opacity="1" />
<path d="M34 263.8L36 263.9L37 264.1L38 264.6L39.5 265.7L40 265.8L41.5 265.6L45 264.3L47.5 263.9L50.5 263.8L68 263.8" fill="none" stroke="#2ea7df" stroke-width="1.45" stroke-linejoin="round" stroke-linecap="round" opacity="1" />
<path d="M34 260.8L36 262.7L37 263.9L38 266.1L39.5 270.2L40 270.9L40.5 271L41.5 270.7L42.5 270L45.5 266.8L47 265.5L48 264.9L49.5 264.3L51 264L53.5 263.8L68 263.8" fill="none" stroke="#111111" stroke-width="1.6" stroke-linejoin="round" stroke-linecap="round" opacity="1" />
<path d="M72.8 263.8L79.8 263.8L81.8 263.7L83.2 263.3L85.2 262.2L86.2 261.8L86.8 261.8L87.2 262L89.2 263.4L90.8 263.8L106.8 263.8" fill="none" stroke="#ef4339" stroke-width="1.45" stroke-linejoin="round" stroke-linecap="round" opacity="1" />
<path d="M72.8 263.8L75.2 263.7L75.8 263.5L76.2 263L77.2 261.4L77.8 261L78.2 261.3L78.8 262.1L80.2 265.1L80.8 266.6L82.2 272.9L82.8 273.8L83.2 273.6L83.8 272.7L85.8 267.2L86.2 266.1L86.8 265.2L87.2 264.6L88.2 264L89.2 263.9L90.2 263.8L106.8 263.8" fill="none" stroke="#2ea7df" stroke-width="1.45" stroke-linejoin="round" stroke-linecap="round" opacity="1" />
<path d="M72.8 263.8L73.2 262L75.8 263.7L76.2 264.4L76.8 265.3L78.2 269.3L78.8 270.1L79.2 270.2L80.2 269.9L81.2 269.3L84.2 266.5L85.8 265.4L86.8 264.8L88.2 264.2L89.8 264L92.2 263.8L106.8 263.8" fill="none" stroke="#111111" stroke-width="1.6" stroke-linejoin="round" stroke-linecap="round" opacity="1" />
<path d="M111.5 263.8L118.5 263.8L121 264.3L124.5 263.9L126.5 263.8L145.5 263.8" fill="none" stroke="#ef4339" stroke-width="1.45" stroke-linejoin="round" stroke-linecap="round" opacity="1" />
<path d="M111.5 263.8L114.5 263.8L115.5 263.7L116 263.4L116.5 262.9L117.5 261.3L118 261.1L118.5 261.5L119 262.7L121 269.2L121.5 270L122 269.9L122.5 269.4L125 265.3L126 264.4L127 264L129 263.8L145.5 263.8" fill="none" stroke="#2ea7df" stroke-width="1.45" stroke-linejoin="round" stroke-linecap="round" opacity="1" />
<path d="M111.5 263.8L116.5 263.9L117.5 264.2L119 265L120 265.3L122 265.1L127 264.1L129.5 263.9L145.5 263.8" fill="none" stroke="#111111" stroke-width="1.6" stroke-linejoin="round" stroke-linecap="round" opacity="1" />
<path d="M150.2 263.8L184.2 263.8" fill="none" stroke="#ef4339" stroke-width="1.45" stroke-linejoin="round" stroke-linecap="round" opacity="1" />
<path d="M150.2 263.8L156.2 263.9L157.8 264.3L159.2 265.1L159.8 265.3L160.2 265.3L161.2 265.1L164.2 264.2L166.2 263.9L184.2 263.8" fill="none" stroke="#2ea7df" stroke-width="1.45" stroke-linejoin="round" stroke-linecap="round" opacity="1" />
<path d="M150.2 263.8L157.2 263.8L158.8 264L161.2 264.5L162.2 264.5L170.8 263.9L184.2 263.8" fill="none" stroke="#111111" stroke-width="1.6" stroke-linejoin="round" stroke-linecap="round" opacity="1" />
<path d="M189 263.8L223 263.8" fill="none" stroke="#ef4339" stroke-width="1.45" stroke-linejoin="round" stroke-linecap="round" opacity="1" />
<path d="M189 263.8L195.5 263.8L197.5 263.3L198 263.3L198.5 263.5L200 264.5L201 264.8L202 264.7L204.5 264L206 263.8L223 263.8" fill="none" stroke="#2ea7df" stroke-width="1.45" stroke-linejoin="round" stroke-linecap="round" opacity="1" />
<path d="M189 263.8L223 263.8" fill="none" stroke="#111111" stroke-width="1.6" stroke-linejoin="round" stroke-linecap="round" opacity="1" />
<path d="M227.8 263.8L235.2 263.8L240.2 263.3L243.2 263.7L245.2 263.8L261.8 263.8" fill="none" stroke="#ef4339" stroke-width="1.45" stroke-linejoin="round" stroke-linecap="round" opacity="1" />
<path d="M227.8 263.8L261.8 263.8" fill="none" stroke="#2ea7df" stroke-width="1.45" stroke-linejoin="round" stroke-linecap="round" opacity="1" />
<path d="M227.8 263.8L261.8 263.8" fill="none" stroke="#111111" stroke-width="1.6" stroke-linejoin="round" stroke-linecap="round" opacity="1" />
<path d="M266.5 263.8L300.5 263.8" fill="none" stroke="#ef4339" stroke-width="1.45" stroke-linejoin="round" stroke-linecap="round" opacity="1" />
<path d="M266.5 263.8L300.5 263.8" fill="none" stroke="#2ea7df" stroke-width="1.45" stroke-linejoin="round" stroke-linecap="round" opacity="1" />
<path d="M266.5 263.8L280 263.8L285 264.2L293 263.9L300.5 263.8" fill="none" stroke="#111111" stroke-width="1.6" stroke-linejoin="round" stroke-linecap="round" opacity="1" />
<rect x="187.5" y="19.5" width="37.8" height="39" rx="0" fill="none" stroke="#111" stroke-width="1.6" stroke-dasharray="1.6 2"/>
<rect x="110" y="213.5" width="38" height="38.7" rx="0" fill="none" stroke="#2ea7df" stroke-width="1.6" stroke-dasharray="1.6 2"/>
<rect x="79.4" y="286.2" width="62.4" height="68" rx="0" fill="none" stroke="#111" stroke-width="2" stroke-dasharray="2 2.2"/>
<rect x="172.6" y="286.2" width="61.6" height="68" rx="0" fill="none" stroke="#2ea7df" stroke-width="2" stroke-dasharray="2 2.2"/>
<path d="M80.8 305.4L93.3 305.6L106.9 306.3L111.9 306.4L116.9 306.3L130.5 305.6L141 305.4" fill="none" stroke="#ef4339" stroke-width="1.8" stroke-linejoin="round" stroke-linecap="round" opacity="1" />
<path d="M80.8 305.4L97.4 305.4L99.4 305.2L100.4 304.7L100.9 304.1L101.9 302.2L103.4 298.4L103.9 297.6L104.4 297.5L104.9 297.9L105.4 299L105.9 300.5L108.4 309.4L109.4 312.5L109.9 313.6L110.4 314.3L110.9 314.4L111.4 314.2L112.4 313.1L114.9 308.8L115.9 307.4L116.9 306.4L118.4 305.7L119.4 305.5L121.4 305.4L141 305.4" fill="none" stroke="#2ea7df" stroke-width="1.8" stroke-linejoin="round" stroke-linecap="round" opacity="1" />
<path d="M80.8 305.4L89.3 305.4L90.8 305.2L91.8 305L92.8 304.6L93.8 304L94.8 303L97.4 300.2L97.9 299.8L98.4 299.6L98.9 299.6L99.4 300.2L99.9 301.7L101.9 310.2L102.9 315.9L104.9 330.8L105.4 333.6L105.9 335.1L106.4 335.4L106.9 335.2L107.9 334.4L108.4 333.7L109.4 332L110.9 328.5L114.4 318.9L116.4 314.1L117.4 312.1L118.4 310.4L119.4 309L120.9 307.4L122.4 306.2L124.4 305.2L126.5 304.5L128.5 304.1L130.5 303.9L133 304L141 304.8" fill="none" stroke="#111111" stroke-width="2" stroke-linejoin="round" stroke-linecap="round" opacity="1" />
<path d="M173.5 307.7L190.5 308.3L195 308.4L200 308.3L215.5 307.7L233.5 307.6" fill="none" stroke="#ef4339" stroke-width="1.8" stroke-linejoin="round" stroke-linecap="round" opacity="1" />
<path d="M173.5 307.6L180 307.5L181 307.1L181.5 306.7L182 305.9L182.5 304.8L183 303.2L184.5 296.6L185 294.9L185.5 294L186 294.5L186.5 297L187 301L188 310.4L189 323.1L190.5 346.4L191 349.5L191.5 349.3L192 348.2L192.5 346.4L193 343.8L196 323.3L197.5 315.4L198 313.5L199 310.7L199.5 309.8L200.5 308.5L201.5 307.7L203.5 306.9L207.5 305.8L210 305.4L215 305.6L226.5 307L233.5 307.4" fill="none" stroke="#2ea7df" stroke-width="2" stroke-linejoin="round" stroke-linecap="round" opacity="1" />
<path d="M173.5 307.6L181 307.6L182 307.7L183 307.9L184 308.5L184.5 309L187 313L187.5 313.5L188 313.6L189.5 313.5L191.5 313L193.5 312.3L198 310.3L200.5 309.3L203 308.6L206 308.1L209 307.8L213 307.6L233.5 307.6" fill="none" stroke="#111111" stroke-width="1.8" stroke-linejoin="round" stroke-linecap="round" opacity="1" />
<text x="110.6" y="369.5" font-size="11.2" text-anchor="middle" fill="#111"  style="">Unit 1</text>
<text x="203.6" y="369.5" font-size="11.2" text-anchor="middle" fill="#111"  style="">Unit 2</text>
<text x="245.2" y="303.8" font-size="11.3" text-anchor="start" fill="#111"  style="">Unit</text>
<rect x="261.1" y="310.1" width="7" height="5.8" fill="#111111"/>
<text x="252.7" y="315.3" font-size="6.5" text-anchor="middle" fill="#111"  style="">1</text>
<rect x="261.1" y="317.7" width="7" height="5.8" fill="#2ea7df"/>
<text x="252.7" y="322.9" font-size="6.5" text-anchor="middle" fill="#111"  style="">2</text>
<rect x="261.1" y="325.3" width="7" height="5.8" fill="#ef4339"/>
<text x="252.7" y="330.5" font-size="6.5" text-anchor="middle" fill="#111"  style="">3</text>
<line x1="32.7" y1="306.8" x2="32.7" y2="332.7" stroke="#111" stroke-width="1.8" />
<line x1="31.8" y1="331.8" x2="55" y2="331.8" stroke="#111" stroke-width="1.7" />
<text x="28.8" y="321.9" font-size="11.3" text-anchor="end" fill="#111"  style="">50 μV</text>
<text x="43.5" y="343.2" font-size="11.3" text-anchor="middle" fill="#111"  style="">1 ms</text>
<rect x="321.7" y="14.5" width="18.3" height="17.6" fill="none" stroke="#222" stroke-width="1.1"/>
<text x="330.85" y="28.1" font-size="16" text-anchor="middle" fill="#111"  style="">b</text>
<circle cx="563.3" cy="36.3" r="2.9" fill="#8ccbe8" stroke="#fff" stroke-width="0.5"/>
<circle cx="574.6" cy="36.3" r="2.9" fill="#8ccbe8" stroke="#fff" stroke-width="0.5"/>
<circle cx="578.9" cy="37.7" r="2.9" fill="#8ccbe8" stroke="#fff" stroke-width="0.5"/>
<circle cx="583.7" cy="36.1" r="2.9" fill="#8ccbe8" stroke="#fff" stroke-width="0.5"/>
<circle cx="586.8" cy="37.4" r="2.9" fill="#8ccbe8" stroke="#fff" stroke-width="0.5"/>
<circle cx="590.7" cy="35.6" r="2.9" fill="#8ccbe8" stroke="#fff" stroke-width="0.5"/>
<circle cx="592.9" cy="33.1" r="2.9" fill="#8ccbe8" stroke="#fff" stroke-width="0.5"/>
<circle cx="553.7" cy="43.5" r="2.9" fill="#8ccbe8" stroke="#fff" stroke-width="0.5"/>
<circle cx="547" cy="48.1" r="2.9" fill="#8ccbe8" stroke="#fff" stroke-width="0.5"/>
<circle cx="552.1" cy="48.1" r="2.9" fill="#8ccbe8" stroke="#fff" stroke-width="0.5"/>
<circle cx="540.2" cy="49.7" r="2.9" fill="#8ccbe8" stroke="#fff" stroke-width="0.5"/>
<circle cx="543.8" cy="51.4" r="2.9" fill="#8ccbe8" stroke="#fff" stroke-width="0.5"/>
<circle cx="547.8" cy="53.5" r="2.9" fill="#8ccbe8" stroke="#fff" stroke-width="0.5"/>
<circle cx="555.8" cy="50.8" r="2.9" fill="#8ccbe8" stroke="#fff" stroke-width="0.5"/>
<circle cx="543.5" cy="54.6" r="2.9" fill="#8ccbe8" stroke="#fff" stroke-width="0.5"/>
<circle cx="553.7" cy="54" r="2.9" fill="#8ccbe8" stroke="#fff" stroke-width="0.5"/>
<circle cx="535.4" cy="56.2" r="2.9" fill="#8ccbe8" stroke="#fff" stroke-width="0.5"/>
<circle cx="530.6" cy="56.2" r="2.9" fill="#8ccbe8" stroke="#fff" stroke-width="0.5"/>
<circle cx="526.3" cy="55.6" r="2.9" fill="#8ccbe8" stroke="#fff" stroke-width="0.5"/>
<circle cx="534.3" cy="60.3" r="2.9" fill="#8ccbe8" stroke="#fff" stroke-width="0.5"/>
<circle cx="543.1" cy="58.9" r="2.9" fill="#8ccbe8" stroke="#fff" stroke-width="0.5"/>
<circle cx="555.3" cy="62.1" r="2.9" fill="#8ccbe8" stroke="#fff" stroke-width="0.5"/>
<circle cx="537.6" cy="65.3" r="2.9" fill="#8ccbe8" stroke="#fff" stroke-width="0.5"/>
<circle cx="526.8" cy="67.1" r="2.9" fill="#8ccbe8" stroke="#fff" stroke-width="0.5"/>
<circle cx="546.1" cy="67.5" r="2.9" fill="#8ccbe8" stroke="#fff" stroke-width="0.5"/>
<circle cx="551.5" cy="69.6" r="2.9" fill="#8ccbe8" stroke="#fff" stroke-width="0.5"/>
<circle cx="554.5" cy="68" r="2.9" fill="#8ccbe8" stroke="#fff" stroke-width="0.5"/>
<circle cx="538.1" cy="71.2" r="2.9" fill="#8ccbe8" stroke="#fff" stroke-width="0.5"/>
<circle cx="565.5" cy="45.4" r="2.9" fill="#8ccbe8" stroke="#fff" stroke-width="0.5"/>
<circle cx="570.9" cy="45.2" r="2.9" fill="#8ccbe8" stroke="#fff" stroke-width="0.5"/>
<circle cx="575.7" cy="46" r="2.9" fill="#8ccbe8" stroke="#fff" stroke-width="0.5"/>
<circle cx="580.5" cy="47.6" r="2.9" fill="#8ccbe8" stroke="#fff" stroke-width="0.5"/>
<circle cx="576.2" cy="41.1" r="2.9" fill="#8ccbe8" stroke="#fff" stroke-width="0.5"/>
<circle cx="580.5" cy="41.1" r="2.9" fill="#8ccbe8" stroke="#fff" stroke-width="0.5"/>
<circle cx="573.9" cy="52.7" r="2.9" fill="#8ccbe8" stroke="#fff" stroke-width="0.5"/>
<circle cx="577.1" cy="53.5" r="2.9" fill="#8ccbe8" stroke="#fff" stroke-width="0.5"/>
<circle cx="581.1" cy="59.9" r="2.9" fill="#8ccbe8" stroke="#fff" stroke-width="0.5"/>
<circle cx="576.2" cy="63.2" r="2.9" fill="#8ccbe8" stroke="#fff" stroke-width="0.5"/>
<circle cx="570.9" cy="65.3" r="2.9" fill="#8ccbe8" stroke="#fff" stroke-width="0.5"/>
<circle cx="566.6" cy="66.4" r="2.9" fill="#8ccbe8" stroke="#fff" stroke-width="0.5"/>
<circle cx="569.2" cy="69.1" r="2.9" fill="#8ccbe8" stroke="#fff" stroke-width="0.5"/>
<circle cx="561.7" cy="68" r="2.9" fill="#8ccbe8" stroke="#fff" stroke-width="0.5"/>
<circle cx="564.4" cy="72.1" r="2.9" fill="#8ccbe8" stroke="#fff" stroke-width="0.5"/>
<circle cx="574.6" cy="69.6" r="2.9" fill="#8ccbe8" stroke="#fff" stroke-width="0.5"/>
<circle cx="580.7" cy="72.8" r="2.9" fill="#8ccbe8" stroke="#fff" stroke-width="0.5"/>
<circle cx="588.9" cy="52.4" r="2.9" fill="#8ccbe8" stroke="#fff" stroke-width="0.5"/>
<circle cx="592.9" cy="48.1" r="2.9" fill="#8ccbe8" stroke="#fff" stroke-width="0.5"/>
<circle cx="592.9" cy="56.2" r="2.9" fill="#8ccbe8" stroke="#fff" stroke-width="0.5"/>
<circle cx="599.5" cy="37.4" r="2.9" fill="#8ccbe8" stroke="#fff" stroke-width="0.5"/>
<circle cx="604.3" cy="39.6" r="2.9" fill="#8ccbe8" stroke="#fff" stroke-width="0.5"/>
<circle cx="597.7" cy="45.3" r="2.9" fill="#8ccbe8" stroke="#fff" stroke-width="0.5"/>
<circle cx="602.2" cy="44.7" r="2.9" fill="#8ccbe8" stroke="#fff" stroke-width="0.5"/>
<circle cx="604.5" cy="46.9" r="2.9" fill="#8ccbe8" stroke="#fff" stroke-width="0.5"/>
<circle cx="597.7" cy="51.2" r="2.9" fill="#8ccbe8" stroke="#fff" stroke-width="0.5"/>
<circle cx="596.3" cy="54.4" r="2.9" fill="#8ccbe8" stroke="#fff" stroke-width="0.5"/>
<circle cx="600" cy="52.3" r="2.9" fill="#8ccbe8" stroke="#fff" stroke-width="0.5"/>
<circle cx="605.9" cy="27.6" r="2.9" fill="#8ccbe8" stroke="#fff" stroke-width="0.5"/>
<circle cx="609.9" cy="30.2" r="2.9" fill="#8ccbe8" stroke="#fff" stroke-width="0.5"/>
<circle cx="607" cy="33.5" r="2.9" fill="#8ccbe8" stroke="#fff" stroke-width="0.5"/>
<circle cx="613.5" cy="24.3" r="2.9" fill="#8ccbe8" stroke="#fff" stroke-width="0.5"/>
<circle cx="616.1" cy="22.2" r="2.9" fill="#8ccbe8" stroke="#fff" stroke-width="0.5"/>
<circle cx="616.7" cy="25.9" r="2.9" fill="#8ccbe8" stroke="#fff" stroke-width="0.5"/>
<circle cx="614.5" cy="31.3" r="2.9" fill="#8ccbe8" stroke="#fff" stroke-width="0.5"/>
<circle cx="613.1" cy="35.1" r="2.9" fill="#8ccbe8" stroke="#fff" stroke-width="0.5"/>
<circle cx="618.5" cy="33.8" r="2.9" fill="#8ccbe8" stroke="#fff" stroke-width="0.5"/>
<circle cx="620.2" cy="39.4" r="2.9" fill="#8ccbe8" stroke="#fff" stroke-width="0.5"/>
<circle cx="617.2" cy="45.3" r="2.9" fill="#8ccbe8" stroke="#fff" stroke-width="0.5"/>
<circle cx="623.1" cy="21.6" r="2.9" fill="#8ccbe8" stroke="#fff" stroke-width="0.5"/>
<circle cx="629" cy="21.1" r="2.9" fill="#8ccbe8" stroke="#fff" stroke-width="0.5"/>
<circle cx="630.1" cy="24.3" r="2.9" fill="#8ccbe8" stroke="#fff" stroke-width="0.5"/>
<circle cx="634.6" cy="25.2" r="2.9" fill="#8ccbe8" stroke="#fff" stroke-width="0.5"/>
<circle cx="626.9" cy="28.6" r="2.9" fill="#8ccbe8" stroke="#fff" stroke-width="0.5"/>
<circle cx="631.7" cy="29.2" r="2.9" fill="#8ccbe8" stroke="#fff" stroke-width="0.5"/>
<circle cx="630.6" cy="33.1" r="2.9" fill="#8ccbe8" stroke="#fff" stroke-width="0.5"/>
<circle cx="625.6" cy="36.4" r="2.9" fill="#8ccbe8" stroke="#fff" stroke-width="0.5"/>
<circle cx="627.7" cy="40.7" r="2.9" fill="#8ccbe8" stroke="#fff" stroke-width="0.5"/>
<circle cx="631.4" cy="43.7" r="2.9" fill="#8ccbe8" stroke="#fff" stroke-width="0.5"/>
<circle cx="630.1" cy="46.4" r="2.9" fill="#8ccbe8" stroke="#fff" stroke-width="0.5"/>
<circle cx="634.4" cy="48" r="2.9" fill="#8ccbe8" stroke="#fff" stroke-width="0.5"/>
<circle cx="639.2" cy="52.3" r="2.9" fill="#8ccbe8" stroke="#fff" stroke-width="0.5"/>
<circle cx="639.8" cy="43.1" r="2.9" fill="#8ccbe8" stroke="#fff" stroke-width="0.5"/>
<circle cx="643" cy="40.4" r="2.9" fill="#8ccbe8" stroke="#fff" stroke-width="0.5"/>
<circle cx="640.3" cy="25.4" r="2.9" fill="#8ccbe8" stroke="#fff" stroke-width="0.5"/>
<circle cx="643.9" cy="21.1" r="2.9" fill="#8ccbe8" stroke="#fff" stroke-width="0.5"/>
<circle cx="647.3" cy="22.7" r="2.9" fill="#8ccbe8" stroke="#fff" stroke-width="0.5"/>
<circle cx="651.1" cy="24.1" r="2.9" fill="#8ccbe8" stroke="#fff" stroke-width="0.5"/>
<circle cx="646.2" cy="25.2" r="2.9" fill="#8ccbe8" stroke="#fff" stroke-width="0.5"/>
<circle cx="647.3" cy="27.8" r="2.9" fill="#8ccbe8" stroke="#fff" stroke-width="0.5"/>
<circle cx="649.4" cy="31.6" r="2.9" fill="#8ccbe8" stroke="#fff" stroke-width="0.5"/>
<circle cx="645.7" cy="33.8" r="2.9" fill="#8ccbe8" stroke="#fff" stroke-width="0.5"/>
<circle cx="508.4" cy="69.8" r="2.9" fill="#0b3954" stroke="#fff" stroke-width="0.5"/>
<circle cx="514.6" cy="70.1" r="2.9" fill="#0b3954" stroke="#fff" stroke-width="0.5"/>
<circle cx="509.3" cy="74.8" r="2.9" fill="#0b3954" stroke="#fff" stroke-width="0.5"/>
<circle cx="495.2" cy="77.7" r="2.9" fill="#0b3954" stroke="#fff" stroke-width="0.5"/>
<circle cx="490.4" cy="79.5" r="2.9" fill="#0b3954" stroke="#fff" stroke-width="0.5"/>
<circle cx="488.3" cy="83.2" r="2.9" fill="#0b3954" stroke="#fff" stroke-width="0.5"/>
<circle cx="436.3" cy="97.2" r="2.9" fill="#0b3954" stroke="#fff" stroke-width="0.5"/>
<circle cx="434.4" cy="99.5" r="2.9" fill="#0b3954" stroke="#fff" stroke-width="0.5"/>
<circle cx="431.7" cy="101.4" r="2.9" fill="#0b3954" stroke="#fff" stroke-width="0.5"/>
<circle cx="428.7" cy="102.2" r="2.9" fill="#0b3954" stroke="#fff" stroke-width="0.5"/>
<circle cx="427.5" cy="106" r="2.9" fill="#0b3954" stroke="#fff" stroke-width="0.5"/>
<circle cx="431.7" cy="106" r="2.9" fill="#0b3954" stroke="#fff" stroke-width="0.5"/>
<circle cx="436.7" cy="102.2" r="2.9" fill="#0b3954" stroke="#fff" stroke-width="0.5"/>
<circle cx="417.5" cy="110.3" r="2.9" fill="#0b3954" stroke="#fff" stroke-width="0.5"/>
<circle cx="414.8" cy="110.6" r="2.9" fill="#0b3954" stroke="#fff" stroke-width="0.5"/>
<circle cx="406.4" cy="110.6" r="2.9" fill="#0b3954" stroke="#fff" stroke-width="0.5"/>
<circle cx="401" cy="111" r="2.9" fill="#0b3954" stroke="#fff" stroke-width="0.5"/>
<circle cx="402.6" cy="113.7" r="2.9" fill="#0b3954" stroke="#fff" stroke-width="0.5"/>
<circle cx="398.3" cy="114.9" r="2.9" fill="#0b3954" stroke="#fff" stroke-width="0.5"/>
<circle cx="407.2" cy="113.7" r="2.9" fill="#0b3954" stroke="#fff" stroke-width="0.5"/>
<circle cx="411.8" cy="116.4" r="2.9" fill="#0b3954" stroke="#fff" stroke-width="0.5"/>
<circle cx="415.6" cy="114.5" r="2.9" fill="#0b3954" stroke="#fff" stroke-width="0.5"/>
<circle cx="394.5" cy="117.5" r="2.9" fill="#0b3954" stroke="#fff" stroke-width="0.5"/>
<circle cx="396.8" cy="119.1" r="2.9" fill="#0b3954" stroke="#fff" stroke-width="0.5"/>
<circle cx="393.7" cy="121.8" r="2.9" fill="#0b3954" stroke="#fff" stroke-width="0.5"/>
<circle cx="400.3" cy="121" r="2.9" fill="#0b3954" stroke="#fff" stroke-width="0.5"/>
<circle cx="404.5" cy="122.9" r="2.9" fill="#0b3954" stroke="#fff" stroke-width="0.5"/>
<circle cx="409.1" cy="120.2" r="2.9" fill="#0b3954" stroke="#fff" stroke-width="0.5"/>
<circle cx="409.1" cy="125.2" r="2.9" fill="#0b3954" stroke="#fff" stroke-width="0.5"/>
<circle cx="399.5" cy="124.8" r="2.9" fill="#0b3954" stroke="#fff" stroke-width="0.5"/>
<circle cx="386.4" cy="130.2" r="2.9" fill="#0b3954" stroke="#fff" stroke-width="0.5"/>
<circle cx="389.9" cy="132.1" r="2.9" fill="#0b3954" stroke="#fff" stroke-width="0.5"/>
<circle cx="395.7" cy="132.1" r="2.9" fill="#0b3954" stroke="#fff" stroke-width="0.5"/>
<circle cx="397.2" cy="128.7" r="2.9" fill="#0b3954" stroke="#fff" stroke-width="0.5"/>
<circle cx="393.3" cy="134.8" r="2.9" fill="#0b3954" stroke="#fff" stroke-width="0.5"/>
<circle cx="403.3" cy="134" r="2.9" fill="#0b3954" stroke="#fff" stroke-width="0.5"/>
<circle cx="406.4" cy="132.5" r="2.9" fill="#0b3954" stroke="#fff" stroke-width="0.5"/>
<circle cx="412.5" cy="132.9" r="2.9" fill="#0b3954" stroke="#fff" stroke-width="0.5"/>
<circle cx="414.1" cy="136" r="2.9" fill="#0b3954" stroke="#fff" stroke-width="0.5"/>
<circle cx="422.5" cy="133.3" r="2.9" fill="#0b3954" stroke="#fff" stroke-width="0.5"/>
<circle cx="434" cy="135.6" r="2.9" fill="#0b3954" stroke="#fff" stroke-width="0.5"/>
<circle cx="436.3" cy="133.3" r="2.9" fill="#0b3954" stroke="#fff" stroke-width="0.5"/>
<circle cx="401" cy="137.1" r="2.9" fill="#0b3954" stroke="#fff" stroke-width="0.5"/>
<circle cx="391" cy="136.9" r="2.9" fill="#0b3954" stroke="#fff" stroke-width="0.5"/>
<circle cx="397.6" cy="137.7" r="2.9" fill="#0b3954" stroke="#fff" stroke-width="0.5"/>
<circle cx="406" cy="138.8" r="2.9" fill="#0b3954" stroke="#fff" stroke-width="0.5"/>
<circle cx="416.8" cy="141.1" r="2.9" fill="#0b3954" stroke="#fff" stroke-width="0.5"/>
<circle cx="408.7" cy="146.1" r="2.9" fill="#0b3954" stroke="#fff" stroke-width="0.5"/>
<circle cx="411" cy="147.6" r="2.9" fill="#0b3954" stroke="#fff" stroke-width="0.5"/>
<circle cx="416.4" cy="147.3" r="2.9" fill="#0b3954" stroke="#fff" stroke-width="0.5"/>
<circle cx="407.9" cy="150.3" r="2.9" fill="#0b3954" stroke="#fff" stroke-width="0.5"/>
<circle cx="412.5" cy="150.3" r="2.9" fill="#0b3954" stroke="#fff" stroke-width="0.5"/>
<circle cx="419.4" cy="152.2" r="2.9" fill="#0b3954" stroke="#fff" stroke-width="0.5"/>
<circle cx="422.9" cy="149.2" r="2.9" fill="#0b3954" stroke="#fff" stroke-width="0.5"/>
<circle cx="425.6" cy="142.3" r="2.9" fill="#0b3954" stroke="#fff" stroke-width="0.5"/>
<circle cx="428.7" cy="140.3" r="2.9" fill="#0b3954" stroke="#fff" stroke-width="0.5"/>
<circle cx="431.7" cy="137.3" r="2.9" fill="#0b3954" stroke="#fff" stroke-width="0.5"/>
<circle cx="433.3" cy="142.7" r="2.9" fill="#0b3954" stroke="#fff" stroke-width="0.5"/>
<circle cx="429" cy="146.5" r="2.9" fill="#0b3954" stroke="#fff" stroke-width="0.5"/>
<circle cx="426.7" cy="153.4" r="2.9" fill="#0b3954" stroke="#fff" stroke-width="0.5"/>
<circle cx="432.9" cy="156.1" r="2.9" fill="#0b3954" stroke="#fff" stroke-width="0.5"/>
<circle cx="436.3" cy="157.2" r="2.9" fill="#0b3954" stroke="#fff" stroke-width="0.5"/>
<circle cx="439.2" cy="96.5" r="2.9" fill="#0b3954" stroke="#fff" stroke-width="0.5"/>
<circle cx="441.1" cy="103.4" r="2.9" fill="#0b3954" stroke="#fff" stroke-width="0.5"/>
<circle cx="448.4" cy="96.5" r="2.9" fill="#0b3954" stroke="#fff" stroke-width="0.5"/>
<circle cx="449.2" cy="101.5" r="2.9" fill="#0b3954" stroke="#fff" stroke-width="0.5"/>
<circle cx="457.2" cy="103" r="2.9" fill="#0b3954" stroke="#fff" stroke-width="0.5"/>
<circle cx="445.3" cy="112.6" r="2.9" fill="#0b3954" stroke="#fff" stroke-width="0.5"/>
<circle cx="468.4" cy="105.3" r="2.9" fill="#0b3954" stroke="#fff" stroke-width="0.5"/>
<circle cx="474.5" cy="106.1" r="2.9" fill="#0b3954" stroke="#fff" stroke-width="0.5"/>
<circle cx="464.2" cy="109.6" r="2.9" fill="#0b3954" stroke="#fff" stroke-width="0.5"/>
<circle cx="472.2" cy="112.2" r="2.9" fill="#0b3954" stroke="#fff" stroke-width="0.5"/>
<circle cx="474.9" cy="111.9" r="2.9" fill="#0b3954" stroke="#fff" stroke-width="0.5"/>
<circle cx="466.1" cy="115.7" r="2.9" fill="#0b3954" stroke="#fff" stroke-width="0.5"/>
<circle cx="473.7" cy="118" r="2.9" fill="#0b3954" stroke="#fff" stroke-width="0.5"/>
<circle cx="470.7" cy="120.7" r="2.9" fill="#0b3954" stroke="#fff" stroke-width="0.5"/>
<circle cx="478.3" cy="119.5" r="2.9" fill="#0b3954" stroke="#fff" stroke-width="0.5"/>
<circle cx="470.3" cy="123.8" r="2.9" fill="#0b3954" stroke="#fff" stroke-width="0.5"/>
<circle cx="475.3" cy="124.1" r="2.9" fill="#0b3954" stroke="#fff" stroke-width="0.5"/>
<circle cx="476.8" cy="129.1" r="2.9" fill="#0b3954" stroke="#fff" stroke-width="0.5"/>
<circle cx="482.6" cy="116.5" r="2.9" fill="#2a9ec2" stroke="#fff" stroke-width="0.5"/>
<circle cx="489.1" cy="112.6" r="2.9" fill="#2a9ec2" stroke="#fff" stroke-width="0.5"/>
<circle cx="479.9" cy="124.9" r="2.9" fill="#2a9ec2" stroke="#fff" stroke-width="0.5"/>
<circle cx="464.5" cy="133.3" r="2.9" fill="#2a9ec2" stroke="#fff" stroke-width="0.5"/>
<circle cx="448" cy="134.1" r="2.9" fill="#2a9ec2" stroke="#fff" stroke-width="0.5"/>
<circle cx="441.1" cy="134.9" r="2.9" fill="#2a9ec2" stroke="#fff" stroke-width="0.5"/>
<circle cx="448.4" cy="151.9" r="2.9" fill="#0b3954" stroke="#fff" stroke-width="0.5"/>
<circle cx="442.7" cy="155.3" r="2.9" fill="#0b3954" stroke="#fff" stroke-width="0.5"/>
<circle cx="449.2" cy="138.8" r="2.9" fill="#2a9ec2" stroke="#fff" stroke-width="0.5"/>
<circle cx="454.2" cy="137.3" r="2.9" fill="#2a9ec2" stroke="#fff" stroke-width="0.5"/>
<circle cx="455.7" cy="141.1" r="2.9" fill="#2a9ec2" stroke="#fff" stroke-width="0.5"/>
<circle cx="459.5" cy="140.7" r="2.9" fill="#2a9ec2" stroke="#fff" stroke-width="0.5"/>
<circle cx="462.2" cy="138.8" r="2.9" fill="#2a9ec2" stroke="#fff" stroke-width="0.5"/>
<circle cx="442.3" cy="141.9" r="2.9" fill="#2a9ec2" stroke="#fff" stroke-width="0.5"/>
<circle cx="444.2" cy="146.9" r="2.9" fill="#2a9ec2" stroke="#fff" stroke-width="0.5"/>
<circle cx="453.8" cy="149.2" r="2.9" fill="#2a9ec2" stroke="#fff" stroke-width="0.5"/>
<circle cx="468.8" cy="139.6" r="2.9" fill="#2a9ec2" stroke="#fff" stroke-width="0.5"/>
<circle cx="472.6" cy="140.3" r="2.9" fill="#2a9ec2" stroke="#fff" stroke-width="0.5"/>
<circle cx="477.2" cy="142.3" r="2.9" fill="#2a9ec2" stroke="#fff" stroke-width="0.5"/>
<circle cx="474.1" cy="144.6" r="2.9" fill="#2a9ec2" stroke="#fff" stroke-width="0.5"/>
<circle cx="480.7" cy="138.8" r="2.9" fill="#2a9ec2" stroke="#fff" stroke-width="0.5"/>
<circle cx="483.3" cy="137.3" r="2.9" fill="#2a9ec2" stroke="#fff" stroke-width="0.5"/>
<circle cx="486" cy="144.6" r="2.9" fill="#2a9ec2" stroke="#fff" stroke-width="0.5"/>
<circle cx="489.1" cy="150.3" r="2.9" fill="#2a9ec2" stroke="#fff" stroke-width="0.5"/>
<circle cx="475.3" cy="151.1" r="2.9" fill="#2a9ec2" stroke="#fff" stroke-width="0.5"/>
<circle cx="463.8" cy="153" r="2.9" fill="#2a9ec2" stroke="#fff" stroke-width="0.5"/>
<circle cx="467.6" cy="156.1" r="2.9" fill="#2a9ec2" stroke="#fff" stroke-width="0.5"/>
<circle cx="494.2" cy="121.1" r="2.9" fill="#2a9ec2" stroke="#fff" stroke-width="0.5"/>
<circle cx="500.6" cy="120.2" r="2.9" fill="#2a9ec2" stroke="#fff" stroke-width="0.5"/>
<circle cx="500.6" cy="123.9" r="2.9" fill="#2a9ec2" stroke="#fff" stroke-width="0.5"/>
<circle cx="504.8" cy="122" r="2.9" fill="#2a9ec2" stroke="#fff" stroke-width="0.5"/>
<circle cx="508.9" cy="124.8" r="2.9" fill="#2a9ec2" stroke="#fff" stroke-width="0.5"/>
<circle cx="512.1" cy="122.9" r="2.9" fill="#2a9ec2" stroke="#fff" stroke-width="0.5"/>
<circle cx="519" cy="123.4" r="2.9" fill="#2a9ec2" stroke="#fff" stroke-width="0.5"/>
<circle cx="522.7" cy="128" r="2.9" fill="#2a9ec2" stroke="#fff" stroke-width="0.5"/>
<circle cx="527.8" cy="129.4" r="2.9" fill="#2a9ec2" stroke="#fff" stroke-width="0.5"/>
<circle cx="513.1" cy="130.3" r="2.9" fill="#2a9ec2" stroke="#fff" stroke-width="0.5"/>
<circle cx="494.2" cy="130.3" r="2.9" fill="#2a9ec2" stroke="#fff" stroke-width="0.5"/>
<circle cx="500.6" cy="129.4" r="2.9" fill="#2a9ec2" stroke="#fff" stroke-width="0.5"/>
<circle cx="497.4" cy="133.5" r="2.9" fill="#2a9ec2" stroke="#fff" stroke-width="0.5"/>
<circle cx="495.1" cy="137.7" r="2.9" fill="#2a9ec2" stroke="#fff" stroke-width="0.5"/>
<circle cx="505.2" cy="138.1" r="2.9" fill="#2a9ec2" stroke="#fff" stroke-width="0.5"/>
<circle cx="536.5" cy="134.4" r="2.9" fill="#2a9ec2" stroke="#fff" stroke-width="0.5"/>
<circle cx="539.7" cy="135.8" r="2.9" fill="#2a9ec2" stroke="#fff" stroke-width="0.5"/>
<circle cx="545.3" cy="133.1" r="2.9" fill="#2a9ec2" stroke="#fff" stroke-width="0.5"/>
<circle cx="491.9" cy="145.9" r="2.9" fill="#2a9ec2" stroke="#fff" stroke-width="0.5"/>
<circle cx="497.9" cy="141.8" r="2.9" fill="#2a9ec2" stroke="#fff" stroke-width="0.5"/>
<circle cx="496.5" cy="145.5" r="2.9" fill="#2a9ec2" stroke="#fff" stroke-width="0.5"/>
<circle cx="500.6" cy="147.3" r="2.9" fill="#2a9ec2" stroke="#fff" stroke-width="0.5"/>
<circle cx="497" cy="152.4" r="2.9" fill="#2a9ec2" stroke="#fff" stroke-width="0.5"/>
<circle cx="494.2" cy="154.7" r="2.9" fill="#2a9ec2" stroke="#fff" stroke-width="0.5"/>
<circle cx="499.7" cy="155.1" r="2.9" fill="#2a9ec2" stroke="#fff" stroke-width="0.5"/>
<circle cx="503.4" cy="151.5" r="2.9" fill="#2a9ec2" stroke="#fff" stroke-width="0.5"/>
<circle cx="507.1" cy="149.6" r="2.9" fill="#2a9ec2" stroke="#fff" stroke-width="0.5"/>
<circle cx="511.7" cy="147.8" r="2.9" fill="#2a9ec2" stroke="#fff" stroke-width="0.5"/>
<circle cx="514.9" cy="146.4" r="2.9" fill="#2a9ec2" stroke="#fff" stroke-width="0.5"/>
<circle cx="514.4" cy="150.1" r="2.9" fill="#2a9ec2" stroke="#fff" stroke-width="0.5"/>
<circle cx="521.8" cy="146.9" r="2.9" fill="#2a9ec2" stroke="#fff" stroke-width="0.5"/>
<circle cx="525.5" cy="143.6" r="2.9" fill="#2a9ec2" stroke="#fff" stroke-width="0.5"/>
<circle cx="527.8" cy="145.9" r="2.9" fill="#2a9ec2" stroke="#fff" stroke-width="0.5"/>
<circle cx="528.2" cy="150.1" r="2.9" fill="#2a9ec2" stroke="#fff" stroke-width="0.5"/>
<circle cx="531.9" cy="147.3" r="2.9" fill="#2a9ec2" stroke="#fff" stroke-width="0.5"/>
<circle cx="534.7" cy="148.2" r="2.9" fill="#2a9ec2" stroke="#fff" stroke-width="0.5"/>
<circle cx="537.9" cy="147.3" r="2.9" fill="#2a9ec2" stroke="#fff" stroke-width="0.5"/>
<circle cx="541.1" cy="151" r="2.9" fill="#2a9ec2" stroke="#fff" stroke-width="0.5"/>
<circle cx="512.6" cy="157" r="2.9" fill="#2a9ec2" stroke="#fff" stroke-width="0.5"/>
<circle cx="519" cy="158.4" r="2.9" fill="#2a9ec2" stroke="#fff" stroke-width="0.5"/>
<circle cx="522.7" cy="158.8" r="2.9" fill="#2a9ec2" stroke="#fff" stroke-width="0.5"/>
<circle cx="532.4" cy="157.4" r="2.9" fill="#2a9ec2" stroke="#fff" stroke-width="0.5"/>
<circle cx="509.8" cy="162" r="2.9" fill="#2a9ec2" stroke="#fff" stroke-width="0.5"/>
<circle cx="518.1" cy="162.5" r="2.9" fill="#2a9ec2" stroke="#fff" stroke-width="0.5"/>
<circle cx="523.6" cy="162.5" r="2.9" fill="#2a9ec2" stroke="#fff" stroke-width="0.5"/>
<circle cx="509.1" cy="136.1" r="2.9" fill="#8ccbe8" stroke="#fff" stroke-width="0.5"/>
<circle cx="543.9" cy="156.5" r="2.9" fill="#f5860f" stroke="#fff" stroke-width="0.5"/>
<circle cx="536.5" cy="160.7" r="2.9" fill="#f5860f" stroke="#fff" stroke-width="0.5"/>
<circle cx="606.4" cy="112.2" r="2.9" fill="#f5860f" stroke="#fff" stroke-width="0.5"/>
<circle cx="607" cy="118.5" r="2.9" fill="#f5860f" stroke="#fff" stroke-width="0.5"/>
<circle cx="604" cy="119.8" r="2.9" fill="#f5860f" stroke="#fff" stroke-width="0.5"/>
<circle cx="605.7" cy="122.7" r="2.9" fill="#f5860f" stroke="#fff" stroke-width="0.5"/>
<circle cx="591.8" cy="119.3" r="2.9" fill="#f5860f" stroke="#fff" stroke-width="0.5"/>
<circle cx="596.4" cy="121.5" r="2.9" fill="#f5860f" stroke="#fff" stroke-width="0.5"/>
<circle cx="589.2" cy="120.6" r="2.9" fill="#f5860f" stroke="#fff" stroke-width="0.5"/>
<circle cx="581.2" cy="122.7" r="2.9" fill="#f5860f" stroke="#fff" stroke-width="0.5"/>
<circle cx="589.7" cy="124.4" r="2.9" fill="#f5860f" stroke="#fff" stroke-width="0.5"/>
<circle cx="586.3" cy="126.9" r="2.9" fill="#f5860f" stroke="#fff" stroke-width="0.5"/>
<circle cx="598.5" cy="127.4" r="2.9" fill="#f5860f" stroke="#fff" stroke-width="0.5"/>
<circle cx="602.3" cy="126.5" r="2.9" fill="#f5860f" stroke="#fff" stroke-width="0.5"/>
<circle cx="590.5" cy="130.7" r="2.9" fill="#f5860f" stroke="#fff" stroke-width="0.5"/>
<circle cx="594.3" cy="133.7" r="2.9" fill="#f5860f" stroke="#fff" stroke-width="0.5"/>
<circle cx="600.2" cy="134.1" r="2.9" fill="#f5860f" stroke="#fff" stroke-width="0.5"/>
<circle cx="601.5" cy="130.3" r="2.9" fill="#f5860f" stroke="#fff" stroke-width="0.5"/>
<circle cx="600.6" cy="137.5" r="2.9" fill="#f5860f" stroke="#fff" stroke-width="0.5"/>
<circle cx="563.1" cy="139.6" r="2.9" fill="#f5860f" stroke="#fff" stroke-width="0.5"/>
<circle cx="568.6" cy="139.6" r="2.9" fill="#f5860f" stroke="#fff" stroke-width="0.5"/>
<circle cx="575.7" cy="140" r="2.9" fill="#f5860f" stroke="#fff" stroke-width="0.5"/>
<circle cx="579.1" cy="138.8" r="2.9" fill="#f5860f" stroke="#fff" stroke-width="0.5"/>
<circle cx="584.6" cy="139.2" r="2.9" fill="#f5860f" stroke="#fff" stroke-width="0.5"/>
<circle cx="587.1" cy="143" r="2.9" fill="#f5860f" stroke="#fff" stroke-width="0.5"/>
<circle cx="569.4" cy="147.2" r="2.9" fill="#f5860f" stroke="#fff" stroke-width="0.5"/>
<circle cx="577.8" cy="146.4" r="2.9" fill="#f5860f" stroke="#fff" stroke-width="0.5"/>
<circle cx="584.6" cy="146.4" r="2.9" fill="#f5860f" stroke="#fff" stroke-width="0.5"/>
<circle cx="574.1" cy="150.1" r="2.9" fill="#f5860f" stroke="#fff" stroke-width="0.5"/>
<circle cx="582.9" cy="150.1" r="2.9" fill="#f5860f" stroke="#fff" stroke-width="0.5"/>
<circle cx="562.2" cy="150.1" r="2.9" fill="#f5860f" stroke="#fff" stroke-width="0.5"/>
<circle cx="564.8" cy="153.9" r="2.9" fill="#f5860f" stroke="#fff" stroke-width="0.5"/>
<circle cx="576.6" cy="155.6" r="2.9" fill="#f5860f" stroke="#fff" stroke-width="0.5"/>
<circle cx="591.4" cy="149.3" r="2.9" fill="#f5860f" stroke="#fff" stroke-width="0.5"/>
<circle cx="592.2" cy="152.7" r="2.9" fill="#f5860f" stroke="#fff" stroke-width="0.5"/>
<circle cx="588" cy="155.2" r="2.9" fill="#f5860f" stroke="#fff" stroke-width="0.5"/>
<circle cx="590.1" cy="159" r="2.9" fill="#f5860f" stroke="#fff" stroke-width="0.5"/>
<circle cx="601.5" cy="145.1" r="2.9" fill="#f5860f" stroke="#fff" stroke-width="0.5"/>
<circle cx="604.9" cy="145.9" r="2.9" fill="#f5860f" stroke="#fff" stroke-width="0.5"/>
<circle cx="599.8" cy="158.6" r="2.9" fill="#f5860f" stroke="#fff" stroke-width="0.5"/>
<circle cx="608.2" cy="154.4" r="2.9" fill="#f5860f" stroke="#fff" stroke-width="0.5"/>
<circle cx="627" cy="115.5" r="2.9" fill="#f5860f" stroke="#fff" stroke-width="0.5"/>
<circle cx="630.8" cy="116" r="2.9" fill="#f5860f" stroke="#fff" stroke-width="0.5"/>
<circle cx="633.3" cy="114.7" r="2.9" fill="#f5860f" stroke="#fff" stroke-width="0.5"/>
<circle cx="635" cy="118.5" r="2.9" fill="#f5860f" stroke="#fff" stroke-width="0.5"/>
<circle cx="620.3" cy="121" r="2.9" fill="#f5860f" stroke="#fff" stroke-width="0.5"/>
<circle cx="613.1" cy="124" r="2.9" fill="#f5860f" stroke="#fff" stroke-width="0.5"/>
<circle cx="613.5" cy="128.2" r="2.9" fill="#f5860f" stroke="#fff" stroke-width="0.5"/>
<circle cx="614.8" cy="133.3" r="2.9" fill="#f5860f" stroke="#fff" stroke-width="0.5"/>
<circle cx="627" cy="126.1" r="2.9" fill="#f5860f" stroke="#fff" stroke-width="0.5"/>
<circle cx="627" cy="129.9" r="2.9" fill="#f5860f" stroke="#fff" stroke-width="0.5"/>
<circle cx="631.2" cy="131.2" r="2.9" fill="#f5860f" stroke="#fff" stroke-width="0.5"/>
<circle cx="631.6" cy="134.5" r="2.9" fill="#f5860f" stroke="#fff" stroke-width="0.5"/>
<circle cx="636.7" cy="134.5" r="2.9" fill="#f5860f" stroke="#fff" stroke-width="0.5"/>
<circle cx="621.1" cy="135" r="2.9" fill="#f5860f" stroke="#fff" stroke-width="0.5"/>
<circle cx="625.3" cy="137.9" r="2.9" fill="#f5860f" stroke="#fff" stroke-width="0.5"/>
<circle cx="628.7" cy="137.1" r="2.9" fill="#f5860f" stroke="#fff" stroke-width="0.5"/>
<circle cx="634.2" cy="139.6" r="2.9" fill="#f5860f" stroke="#fff" stroke-width="0.5"/>
<circle cx="616.9" cy="139.6" r="2.9" fill="#f5860f" stroke="#fff" stroke-width="0.5"/>
<circle cx="629.5" cy="143" r="2.9" fill="#f5860f" stroke="#fff" stroke-width="0.5"/>
<circle cx="626.2" cy="141.3" r="2.9" fill="#f5860f" stroke="#fff" stroke-width="0.5"/>
<circle cx="624.5" cy="144.7" r="2.9" fill="#f5860f" stroke="#fff" stroke-width="0.5"/>
<circle cx="616.9" cy="144.7" r="2.9" fill="#f5860f" stroke="#fff" stroke-width="0.5"/>
<circle cx="612.2" cy="146.4" r="2.9" fill="#f5860f" stroke="#fff" stroke-width="0.5"/>
<circle cx="620.3" cy="147.2" r="2.9" fill="#f5860f" stroke="#fff" stroke-width="0.5"/>
<circle cx="615.6" cy="150.6" r="2.9" fill="#f5860f" stroke="#fff" stroke-width="0.5"/>
<circle cx="611.4" cy="153.1" r="2.9" fill="#f5860f" stroke="#fff" stroke-width="0.5"/>
<circle cx="612.7" cy="155.6" r="2.9" fill="#f5860f" stroke="#fff" stroke-width="0.5"/>
<circle cx="637.6" cy="146.4" r="2.9" fill="#f5860f" stroke="#fff" stroke-width="0.5"/>
<circle cx="635.4" cy="149.3" r="2.9" fill="#f5860f" stroke="#fff" stroke-width="0.5"/>
<circle cx="641.8" cy="145.1" r="2.9" fill="#f5860f" stroke="#fff" stroke-width="0.5"/>
<circle cx="646" cy="143.4" r="2.9" fill="#f5860f" stroke="#fff" stroke-width="0.5"/>
<circle cx="629.1" cy="152.3" r="2.9" fill="#f5860f" stroke="#fff" stroke-width="0.5"/>
<circle cx="643.5" cy="155.6" r="2.9" fill="#f5860f" stroke="#fff" stroke-width="0.5"/>
<circle cx="648.5" cy="152.7" r="2.9" fill="#f5860f" stroke="#fff" stroke-width="0.5"/>
<circle cx="611" cy="159" r="2.9" fill="#f5860f" stroke="#fff" stroke-width="0.5"/>
<circle cx="603.8" cy="158.6" r="2.9" fill="#f5860f" stroke="#fff" stroke-width="0.5"/>
<circle cx="659.1" cy="139.6" r="2.9" fill="#e2364a" stroke="#fff" stroke-width="0.5"/>
<circle cx="598.9" cy="162.2" r="2.9" fill="#f5860f" stroke="#fff" stroke-width="0.5"/>
<circle cx="606.1" cy="161.3" r="2.9" fill="#f5860f" stroke="#fff" stroke-width="0.5"/>
<circle cx="582.5" cy="163" r="2.9" fill="#f5860f" stroke="#fff" stroke-width="0.5"/>
<circle cx="583.7" cy="166.8" r="2.9" fill="#f5860f" stroke="#fff" stroke-width="0.5"/>
<circle cx="594.7" cy="165.5" r="2.9" fill="#f5860f" stroke="#fff" stroke-width="0.5"/>
<circle cx="592.2" cy="169.8" r="2.9" fill="#f5860f" stroke="#fff" stroke-width="0.5"/>
<circle cx="600.6" cy="174.4" r="2.9" fill="#f5860f" stroke="#fff" stroke-width="0.5"/>
<circle cx="557.6" cy="167.2" r="2.9" fill="#f5860f" stroke="#fff" stroke-width="0.5"/>
<circle cx="572.3" cy="163.9" r="2.9" fill="#f5860f" stroke="#fff" stroke-width="0.5"/>
<circle cx="570.2" cy="165.5" r="2.9" fill="#f5860f" stroke="#fff" stroke-width="0.5"/>
<circle cx="567.3" cy="169.8" r="2.9" fill="#f5860f" stroke="#fff" stroke-width="0.5"/>
<circle cx="574" cy="175.2" r="2.9" fill="#f5860f" stroke="#fff" stroke-width="0.5"/>
<circle cx="577.4" cy="174.8" r="2.9" fill="#f5860f" stroke="#fff" stroke-width="0.5"/>
<circle cx="587.9" cy="179.5" r="2.9" fill="#f9b51b" stroke="#fff" stroke-width="0.5"/>
<circle cx="591.7" cy="178.6" r="2.9" fill="#f9b51b" stroke="#fff" stroke-width="0.5"/>
<circle cx="596.4" cy="179.5" r="2.9" fill="#f9b51b" stroke="#fff" stroke-width="0.5"/>
<circle cx="595.1" cy="182" r="2.9" fill="#f9b51b" stroke="#fff" stroke-width="0.5"/>
<circle cx="600.2" cy="185.4" r="2.9" fill="#f9b51b" stroke="#fff" stroke-width="0.5"/>
<circle cx="609.4" cy="182" r="2.9" fill="#f9b51b" stroke="#fff" stroke-width="0.5"/>
<circle cx="614.1" cy="182.8" r="2.9" fill="#f9b51b" stroke="#fff" stroke-width="0.5"/>
<circle cx="614.1" cy="187" r="2.9" fill="#f9b51b" stroke="#fff" stroke-width="0.5"/>
<circle cx="610.3" cy="197.2" r="2.9" fill="#f9b51b" stroke="#fff" stroke-width="0.5"/>
<circle cx="608.2" cy="201.8" r="2.9" fill="#f9b51b" stroke="#fff" stroke-width="0.5"/>
<circle cx="598.1" cy="203.1" r="2.9" fill="#f9b51b" stroke="#fff" stroke-width="0.5"/>
<circle cx="583.7" cy="207.3" r="2.9" fill="#f9b51b" stroke="#fff" stroke-width="0.5"/>
<circle cx="592.2" cy="208.1" r="2.9" fill="#f9b51b" stroke="#fff" stroke-width="0.5"/>
<circle cx="602.3" cy="206.9" r="2.9" fill="#f9b51b" stroke="#fff" stroke-width="0.5"/>
<circle cx="611.6" cy="204.7" r="2.9" fill="#f9b51b" stroke="#fff" stroke-width="0.5"/>
<circle cx="614.1" cy="198.8" r="2.9" fill="#f9b51b" stroke="#fff" stroke-width="0.5"/>
<circle cx="614.1" cy="207.3" r="2.9" fill="#f9b51b" stroke="#fff" stroke-width="0.5"/>
<circle cx="622.7" cy="163.9" r="2.9" fill="#f5860f" stroke="#fff" stroke-width="0.5"/>
<circle cx="621.9" cy="168.1" r="2.9" fill="#f9b51b" stroke="#fff" stroke-width="0.5"/>
<circle cx="617.2" cy="170.7" r="2.9" fill="#f9b51b" stroke="#fff" stroke-width="0.5"/>
<circle cx="623.1" cy="174.5" r="2.9" fill="#f9b51b" stroke="#fff" stroke-width="0.5"/>
<circle cx="629.5" cy="173.6" r="2.9" fill="#f9b51b" stroke="#fff" stroke-width="0.5"/>
<circle cx="625.7" cy="177.8" r="2.9" fill="#f9b51b" stroke="#fff" stroke-width="0.5"/>
<circle cx="617.2" cy="179.5" r="2.9" fill="#f9b51b" stroke="#fff" stroke-width="0.5"/>
<circle cx="620.6" cy="183.3" r="2.9" fill="#f9b51b" stroke="#fff" stroke-width="0.5"/>
<circle cx="624" cy="181.6" r="2.9" fill="#f9b51b" stroke="#fff" stroke-width="0.5"/>
<circle cx="628.6" cy="183.3" r="2.9" fill="#f9b51b" stroke="#fff" stroke-width="0.5"/>
<circle cx="632.4" cy="180.4" r="2.9" fill="#f9b51b" stroke="#fff" stroke-width="0.5"/>
<circle cx="636.2" cy="171.5" r="2.9" fill="#f9b51b" stroke="#fff" stroke-width="0.5"/>
<circle cx="640.4" cy="173.2" r="2.9" fill="#f9b51b" stroke="#fff" stroke-width="0.5"/>
<circle cx="643.4" cy="166.9" r="2.9" fill="#f9b51b" stroke="#fff" stroke-width="0.5"/>
<circle cx="643.8" cy="171.5" r="2.9" fill="#f9b51b" stroke="#fff" stroke-width="0.5"/>
<circle cx="638.3" cy="184.6" r="2.9" fill="#f9b51b" stroke="#fff" stroke-width="0.5"/>
<circle cx="638.3" cy="188.8" r="2.9" fill="#f9b51b" stroke="#fff" stroke-width="0.5"/>
<circle cx="640.8" cy="191.7" r="2.9" fill="#f9b51b" stroke="#fff" stroke-width="0.5"/>
<circle cx="616.8" cy="190.9" r="2.9" fill="#f9b51b" stroke="#fff" stroke-width="0.5"/>
<circle cx="619.3" cy="195.1" r="2.9" fill="#f9b51b" stroke="#fff" stroke-width="0.5"/>
<circle cx="623.5" cy="196.4" r="2.9" fill="#f9b51b" stroke="#fff" stroke-width="0.5"/>
<circle cx="629" cy="196.8" r="2.9" fill="#f9b51b" stroke="#fff" stroke-width="0.5"/>
<circle cx="621.4" cy="204.4" r="2.9" fill="#f9b51b" stroke="#fff" stroke-width="0.5"/>
<circle cx="650.5" cy="187.9" r="2.9" fill="#f9b51b" stroke="#fff" stroke-width="0.5"/>
<circle cx="654.3" cy="169" r="2.9" fill="#f9b51b" stroke="#fff" stroke-width="0.5"/>
<circle cx="657.7" cy="172.8" r="2.9" fill="#f9b51b" stroke="#fff" stroke-width="0.5"/>
<circle cx="653.9" cy="177" r="2.9" fill="#f9b51b" stroke="#fff" stroke-width="0.5"/>
<circle cx="659" cy="179.9" r="2.9" fill="#f9b51b" stroke="#fff" stroke-width="0.5"/>
<circle cx="662.3" cy="177" r="2.9" fill="#f9b51b" stroke="#fff" stroke-width="0.5"/>
<circle cx="664.4" cy="182" r="2.9" fill="#f9b51b" stroke="#fff" stroke-width="0.5"/>
<circle cx="658.1" cy="186.3" r="2.9" fill="#f9b51b" stroke="#fff" stroke-width="0.5"/>
<circle cx="660.2" cy="192.2" r="2.9" fill="#f9b51b" stroke="#fff" stroke-width="0.5"/>
<circle cx="663.6" cy="190.1" r="2.9" fill="#f9b51b" stroke="#fff" stroke-width="0.5"/>
<circle cx="668.7" cy="172.3" r="2.9" fill="#f9b51b" stroke="#fff" stroke-width="0.5"/>
<circle cx="617.4" cy="208.9" r="2.9" fill="#f9b51b" stroke="#fff" stroke-width="0.5"/>
<circle cx="607.8" cy="211.4" r="2.9" fill="#f9b51b" stroke="#fff" stroke-width="0.5"/>
<circle cx="587.3" cy="209.9" r="2.9" fill="#f9b51b" stroke="#fff" stroke-width="0.5"/>
<circle cx="595.5" cy="211.4" r="2.9" fill="#f9b51b" stroke="#fff" stroke-width="0.5"/>
<circle cx="589.9" cy="214.5" r="2.9" fill="#f9b51b" stroke="#fff" stroke-width="0.5"/>
<circle cx="611.3" cy="216" r="2.9" fill="#f9b51b" stroke="#fff" stroke-width="0.5"/>
<circle cx="618" cy="214.5" r="2.9" fill="#f9b51b" stroke="#fff" stroke-width="0.5"/>
<circle cx="623.6" cy="216.5" r="2.9" fill="#f9b51b" stroke="#fff" stroke-width="0.5"/>
<circle cx="599.6" cy="219.6" r="2.9" fill="#f9b51b" stroke="#fff" stroke-width="0.5"/>
<circle cx="598.6" cy="223.7" r="2.9" fill="#f9b51b" stroke="#fff" stroke-width="0.5"/>
<circle cx="603.7" cy="223.7" r="2.9" fill="#f9b51b" stroke="#fff" stroke-width="0.5"/>
<circle cx="606.7" cy="226.2" r="2.9" fill="#f9b51b" stroke="#fff" stroke-width="0.5"/>
<circle cx="612.9" cy="220.1" r="2.9" fill="#f9b51b" stroke="#fff" stroke-width="0.5"/>
<circle cx="616.4" cy="221.6" r="2.9" fill="#f9b51b" stroke="#fff" stroke-width="0.5"/>
<circle cx="615.9" cy="224.7" r="2.9" fill="#f9b51b" stroke="#fff" stroke-width="0.5"/>
<circle cx="618" cy="227.2" r="2.9" fill="#f9b51b" stroke="#fff" stroke-width="0.5"/>
<circle cx="620.5" cy="227.2" r="2.9" fill="#f9b51b" stroke="#fff" stroke-width="0.5"/>
<circle cx="625.6" cy="222.1" r="2.9" fill="#f9b51b" stroke="#fff" stroke-width="0.5"/>
<circle cx="628.2" cy="219.6" r="2.9" fill="#f9b51b" stroke="#fff" stroke-width="0.5"/>
<circle cx="630.2" cy="222.7" r="2.9" fill="#f9b51b" stroke="#fff" stroke-width="0.5"/>
<circle cx="633.8" cy="220.6" r="2.9" fill="#f9b51b" stroke="#fff" stroke-width="0.5"/>
<circle cx="635.3" cy="225.2" r="2.9" fill="#f9b51b" stroke="#fff" stroke-width="0.5"/>
<circle cx="628.7" cy="227.8" r="2.9" fill="#f9b51b" stroke="#fff" stroke-width="0.5"/>
<circle cx="640.4" cy="224.7" r="2.9" fill="#f9b51b" stroke="#fff" stroke-width="0.5"/>
<circle cx="647" cy="222.7" r="2.9" fill="#f9b51b" stroke="#fff" stroke-width="0.5"/>
<circle cx="602.1" cy="212.4" r="2.9" fill="#8ccbe8" stroke="#fff" stroke-width="0.5"/>
<circle cx="621" cy="212.7" r="2.9" fill="#8ccbe8" stroke="#fff" stroke-width="0.5"/>
<circle cx="662.1" cy="139" r="2.9" fill="#e2364a" stroke="#fff" stroke-width="0.5"/>
<circle cx="666.1" cy="142.7" r="2.9" fill="#e2364a" stroke="#fff" stroke-width="0.5"/>
<circle cx="667.3" cy="145.5" r="2.9" fill="#e2364a" stroke="#fff" stroke-width="0.5"/>
<circle cx="663.2" cy="148.4" r="2.9" fill="#e2364a" stroke="#fff" stroke-width="0.5"/>
<circle cx="671.3" cy="149" r="2.9" fill="#e2364a" stroke="#fff" stroke-width="0.5"/>
<circle cx="672.4" cy="146.7" r="2.9" fill="#e2364a" stroke="#fff" stroke-width="0.5"/>
<circle cx="678.2" cy="151.3" r="2.9" fill="#e2364a" stroke="#fff" stroke-width="0.5"/>
<circle cx="672.4" cy="155.9" r="2.9" fill="#e2364a" stroke="#fff" stroke-width="0.5"/>
<circle cx="677.6" cy="157" r="2.9" fill="#e2364a" stroke="#fff" stroke-width="0.5"/>
<circle cx="681.6" cy="160.5" r="2.9" fill="#e2364a" stroke="#fff" stroke-width="0.5"/>
<circle cx="675.3" cy="163.9" r="2.9" fill="#e2364a" stroke="#fff" stroke-width="0.5"/>
<circle cx="680.5" cy="164.5" r="2.9" fill="#e2364a" stroke="#fff" stroke-width="0.5"/>
<circle cx="675.9" cy="168.6" r="2.9" fill="#e2364a" stroke="#fff" stroke-width="0.5"/>
<circle cx="681.1" cy="169.1" r="2.9" fill="#e2364a" stroke="#fff" stroke-width="0.5"/>
<circle cx="678.2" cy="176" r="2.9" fill="#e2364a" stroke="#fff" stroke-width="0.5"/>
<circle cx="673.6" cy="185" r="2.9" fill="#e2364a" stroke="#fff" stroke-width="0.5"/>
<circle cx="678.2" cy="184.1" r="2.9" fill="#e2364a" stroke="#fff" stroke-width="0.5"/>
<circle cx="682.8" cy="185.8" r="2.9" fill="#e2364a" stroke="#fff" stroke-width="0.5"/>
<circle cx="677" cy="189.3" r="2.9" fill="#e2364a" stroke="#fff" stroke-width="0.5"/>
<circle cx="681.1" cy="189.8" r="2.9" fill="#e2364a" stroke="#fff" stroke-width="0.5"/>
<circle cx="679.9" cy="195.6" r="2.9" fill="#e2364a" stroke="#fff" stroke-width="0.5"/>
<circle cx="689.7" cy="178.3" r="2.9" fill="#e2364a" stroke="#fff" stroke-width="0.5"/>
<circle cx="693.2" cy="180.6" r="2.9" fill="#e2364a" stroke="#fff" stroke-width="0.5"/>
<circle cx="691.4" cy="189.8" r="2.9" fill="#e2364a" stroke="#fff" stroke-width="0.5"/>
<circle cx="698.3" cy="169.1" r="2.9" fill="#e2364a" stroke="#fff" stroke-width="0.5"/>
<circle cx="702.9" cy="168" r="2.9" fill="#e2364a" stroke="#fff" stroke-width="0.5"/>
<circle cx="707.5" cy="171.4" r="2.9" fill="#e2364a" stroke="#fff" stroke-width="0.5"/>
<circle cx="697.8" cy="173.7" r="2.9" fill="#e2364a" stroke="#fff" stroke-width="0.5"/>
<circle cx="702.4" cy="180.6" r="2.9" fill="#e2364a" stroke="#fff" stroke-width="0.5"/>
<circle cx="706.4" cy="184.1" r="2.9" fill="#e2364a" stroke="#fff" stroke-width="0.5"/>
<circle cx="711" cy="180.6" r="2.9" fill="#e2364a" stroke="#fff" stroke-width="0.5"/>
<circle cx="715.6" cy="180.6" r="2.9" fill="#e2364a" stroke="#fff" stroke-width="0.5"/>
<circle cx="716.7" cy="176" r="2.9" fill="#e2364a" stroke="#fff" stroke-width="0.5"/>
<circle cx="704.7" cy="188.7" r="2.9" fill="#e2364a" stroke="#fff" stroke-width="0.5"/>
<circle cx="709.8" cy="187" r="2.9" fill="#e2364a" stroke="#fff" stroke-width="0.5"/>
<circle cx="714.4" cy="187.5" r="2.9" fill="#e2364a" stroke="#fff" stroke-width="0.5"/>
<circle cx="719" cy="186.4" r="2.9" fill="#e2364a" stroke="#fff" stroke-width="0.5"/>
<circle cx="721.9" cy="182.9" r="2.9" fill="#e2364a" stroke="#fff" stroke-width="0.5"/>
<circle cx="709.8" cy="193.3" r="2.9" fill="#e2364a" stroke="#fff" stroke-width="0.5"/>
<circle cx="714.4" cy="192.7" r="2.9" fill="#e2364a" stroke="#fff" stroke-width="0.5"/>
<circle cx="719" cy="193.3" r="2.9" fill="#e2364a" stroke="#fff" stroke-width="0.5"/>
<circle cx="720.2" cy="196.7" r="2.9" fill="#e2364a" stroke="#fff" stroke-width="0.5"/>
<circle cx="702.4" cy="197.9" r="2.9" fill="#e2364a" stroke="#fff" stroke-width="0.5"/>
<circle cx="675.3" cy="178.9" r="2.9" fill="#f9b51b" stroke="#fff" stroke-width="0.5"/>
<path d="M344.1 77.7L350.1 78L356.1 78.7L360.1 79.9L361.1 80.6L363.1 82.3L364.1 83.8L366.1 88.1L368.1 95.8L370.1 107L371.1 105L372.1 101.6L373.1 96.7L374.1 92.8L376.1 88L377.1 86.2L380.1 82.8L381.1 81.8L383.1 80.6L384.1 79.9L385.1 78.9L388.1 75.2L393.1 67.6L395.1 65.7L396.1 65L397.1 64.6L398.1 64.4L399.1 64.6L400.1 65L401.1 65.6L403.1 67.7L407.1 73.2L409.1 75.7L410.1 76.6L411.1 77.3L412.1 77.8" fill="none" stroke="#8a9aa6" stroke-width="0.45" stroke-linejoin="round" stroke-linecap="round" opacity="0.3" />
<path d="M344.1 77.7L350.1 78L356.1 78.7L360.1 79.9L361.1 80.6L363.1 82.3L364.1 83.8L366.1 88.1L368.1 95.8L370.1 107L371.1 105L372.1 101.6L373.1 96.7L374.1 92.8L376.1 88L377.1 86.2L380.1 82.8L381.1 81.8L383.1 80.6L384.1 79.9L385.1 78.8L387.1 76.2L388.1 74.7L393.1 66.1L394.1 64.9L395.1 63.8L396.1 63L397.1 62.6L398.1 62.4L399.1 62.6L400.1 63L401.1 63.8L403.1 66.3L407.1 72.5L409.1 75.3L410.1 76.4L411.1 77.3L412.1 77.8" fill="none" stroke="#8a9aa6" stroke-width="0.45" stroke-linejoin="round" stroke-linecap="round" opacity="0.3" />
<path d="M344.1 77.7L350.1 78L356.1 78.7L360.1 79.9L361.1 80.6L363.1 82.3L364.1 83.8L366.1 88.1L368.1 95.8L370.1 107L371.1 105L372.1 101.6L373.1 96.7L374.1 92.8L376.1 88L377.1 86.2L380.1 82.8L381.1 81.8L383.1 80.6L384.1 79.9L385.1 78.7L387.1 76L388.1 74.4L393.1 65.4L394.1 64.1L395.1 63L396.1 62.2L397.1 61.7L398.1 61.5L399.1 61.7L400.1 62.2L401.1 63L402.1 64.2L403.1 65.6L407.1 72.2L409.1 75.2L410.1 76.3L411.1 77.2L412.1 77.8" fill="none" stroke="#8a9aa6" stroke-width="0.45" stroke-linejoin="round" stroke-linecap="round" opacity="0.3" />
<path d="M344.1 77.7L350.1 78L356.1 78.7L360.1 79.9L361.1 80.6L363.1 82.3L364.1 83.8L366.1 88.1L368.1 95.8L370.1 107L371.1 105L372.1 101.6L373.1 96.7L374.1 92.8L376.1 88L377.1 86.2L380.1 82.8L381.1 81.8L383.1 80.6L384.1 79.8L385.1 78.6L387.1 75.6L388.1 73.8L393.1 63.5L394.1 62L395.1 60.7L396.1 59.8L397.1 59.2L398.1 59L399.1 59.2L400.1 59.8L401.1 60.7L402.1 62.1L403.1 63.7L407.1 71.4L409.1 74.8L410.1 76.1L411.1 77.1L412.1 77.8" fill="none" stroke="#8a9aa6" stroke-width="0.45" stroke-linejoin="round" stroke-linecap="round" opacity="0.3" />
<path d="M344.1 77.7L350.1 78L356.1 78.7L360.1 79.9L361.1 80.6L363.1 82.3L364.1 83.8L366.1 88.1L368.1 95.8L370.1 107L371.1 105L372.1 101.6L373.1 96.7L374.1 92.8L376.1 88L377.1 86.2L380.1 82.8L381.1 81.8L383.1 80.6L384.1 79.9L385.1 78.8L387.1 76.2L388.1 74.7L393.1 66.1L394.1 64.9L395.1 63.9L396.1 63.1L397.1 62.6L398.1 62.4L399.1 62.6L400.1 63.1L401.1 63.8L403.1 66.3L407.1 72.6L409.1 75.3L410.1 76.4L411.1 77.3L412.1 77.8" fill="none" stroke="#8a9aa6" stroke-width="0.45" stroke-linejoin="round" stroke-linecap="round" opacity="0.3" />
<path d="M344.1 77.7L350.1 78L356.1 78.7L360.1 79.9L361.1 80.6L363.1 82.3L364.1 83.8L366.1 88.1L368.1 95.8L370.1 107L371.1 105L372.1 101.6L373.1 96.7L374.1 92.8L376.1 88L377.1 86.2L380.1 82.8L381.1 81.8L383.1 80.6L384.1 79.8L385.1 78.6L387.1 75.6L388.1 73.9L393.1 63.8L394.1 62.3L395.1 61L396.1 60.1L397.1 59.5L398.1 59.3L399.1 59.5L400.1 60.1L401.1 61L402.1 62.4L403.1 64L407.1 71.5L409.1 74.8L410.1 76.1L411.1 77.1L412.1 77.8" fill="none" stroke="#8a9aa6" stroke-width="0.45" stroke-linejoin="round" stroke-linecap="round" opacity="0.3" />
<path d="M344.1 77.7L350.1 78L356.1 78.7L360.1 79.9L361.1 80.6L363.1 82.3L364.1 83.8L366.1 88.1L368.1 95.8L370.1 107L371.1 105L372.1 101.6L373.1 96.7L374.1 92.8L376.1 88L377.1 86.2L380.1 82.8L381.1 81.8L386.1 78.7L393.1 75.3L396.1 74.7L398.1 74.5L401.1 74.7L403.1 75.2L409.1 77.2L412.1 77.9" fill="none" stroke="#8a9aa6" stroke-width="0.45" stroke-linejoin="round" stroke-linecap="round" opacity="0.3" />
<path d="M344.1 77.7L350.1 78L356.1 78.7L360.1 79.9L361.1 80.6L363.1 82.3L364.1 83.8L366.1 88.1L368.1 95.8L370.1 107L371.1 105L372.1 101.6L373.1 96.7L374.1 92.8L376.1 88L377.1 86.2L380.1 82.8L381.1 81.8L383.1 80.6L384.1 79.9L385.1 79L388.1 75.9L393.1 69.7L395.1 68.1L396.1 67.6L397.1 67.2L398.1 67.1L399.1 67.2L400.1 67.5L401.1 68L403.1 69.7L407.1 74.1L409.1 76.1L410.1 76.8L411.1 77.4L412.1 77.8" fill="none" stroke="#8a9aa6" stroke-width="0.45" stroke-linejoin="round" stroke-linecap="round" opacity="0.3" />
<path d="M344.1 77.7L350.1 78L356.1 78.7L360.1 79.9L361.1 80.6L363.1 82.3L364.1 83.8L366.1 88.1L368.1 95.8L370.1 107L371.1 105L372.1 101.6L373.1 96.7L374.1 92.8L376.1 88L377.1 86.2L380.1 82.8L381.1 81.8L383.1 80.6L384.1 79.8L385.1 78.6L387.1 75.6L388.1 73.8L393.1 63.5L394.1 62L395.1 60.7L396.1 59.8L397.1 59.2L398.1 59L399.1 59.2L400.1 59.8L401.1 60.7L402.1 62.1L403.1 63.7L407.1 71.4L409.1 74.8L410.1 76.1L411.1 77.1L412.1 77.8" fill="none" stroke="#8a9aa6" stroke-width="0.45" stroke-linejoin="round" stroke-linecap="round" opacity="0.3" />
<path d="M344.1 77.7L350.1 78L356.1 78.7L360.1 79.9L361.1 80.6L363.1 82.3L364.1 83.8L366.1 88.1L368.1 95.8L370.1 107L371.1 105L372.1 101.6L373.1 96.7L374.1 92.8L376.1 88L377.1 86.2L380.1 82.8L381.1 81.8L383.1 80.6L384.1 79.9L385.1 78.9L388.1 75.1L393.1 67.3L395.1 65.3L396.1 64.6L397.1 64.1L398.1 64L399.1 64.1L400.1 64.5L401.1 65.2L403.1 67.4L407.1 73.1L409.1 75.6L410.1 76.6L411.1 77.3L412.1 77.8" fill="none" stroke="#8a9aa6" stroke-width="0.45" stroke-linejoin="round" stroke-linecap="round" opacity="0.3" />
<path d="M344.1 77.7L350.1 78L356.1 78.7L360.1 79.9L361.1 80.6L363.1 82.3L364.1 83.8L366.1 88.1L368.1 95.8L370.1 107L371.1 105L372.1 101.6L373.1 96.7L374.1 92.8L376.1 88L377.1 86.2L380.1 82.8L381.1 81.8L383.1 80.6L384.1 79.8L385.1 78.6L387.1 75.7L388.1 74L393.1 64.1L394.1 62.6L395.1 61.4L396.1 60.5L397.1 59.9L398.1 59.7L399.1 59.9L400.1 60.4L401.1 61.3L402.1 62.7L403.1 64.2L407.1 71.6L409.1 74.9L410.1 76.2L411.1 77.1L412.1 77.8" fill="none" stroke="#8a9aa6" stroke-width="0.45" stroke-linejoin="round" stroke-linecap="round" opacity="0.3" />
<path d="M344.1 77.7L350.1 78L356.1 78.7L360.1 79.9L361.1 80.6L363.1 82.3L364.1 83.8L366.1 88.1L368.1 95.8L370.1 107L371.1 105L372.1 101.6L373.1 96.7L374.1 92.8L376.1 88L377.1 86.2L380.1 82.8L381.1 81.8L384.1 80L386.1 78.6L388.1 77.4L393.1 74.2L395.1 73.6L397.1 73.2L399.1 73.1L401.1 73.4L403.1 74.2L409.1 77L411.1 77.7L412.1 77.9" fill="none" stroke="#8a9aa6" stroke-width="0.45" stroke-linejoin="round" stroke-linecap="round" opacity="0.3" />
<path d="M344.1 77.7L349.1 77.9L350.1 77.7L351.1 77.2L354.1 74.3L355.1 73.5L356.1 73L357.1 73.1L358.1 73.7L359.1 74.7L360.1 76L363.1 81.5L366.1 88.1L368.1 95.8L370.1 107L371.1 105L372.1 101.6L373.1 96.7L374.1 92.8L376.1 88L377.1 86.2L380.1 82.8L381.1 81.8L386.1 78.9L393.1 77.2L401.1 76.9L412.1 77.9" fill="none" stroke="#8a9aa6" stroke-width="0.45" stroke-linejoin="round" stroke-linecap="round" opacity="0.3" />
<path d="M344.1 77.7L349.1 77.9L350.1 77.8L351.1 77.4L355.1 74.7L356.1 74.3L357.1 74.5L358.1 75L359.1 75.8L360.1 76.9L363.1 81.7L366.1 88.1L368.1 95.8L370.1 107L371.1 105L372.1 101.6L373.1 96.7L374.1 92.8L376.1 88L377.1 86.2L380.1 82.8L381.1 81.8L386.1 78.9L393.1 77.2L401.1 76.9L412.1 77.9" fill="none" stroke="#8a9aa6" stroke-width="0.45" stroke-linejoin="round" stroke-linecap="round" opacity="0.3" />
<path d="M344.1 77.7L349.1 77.9L350.1 77.7L351.1 77.1L352.1 76.2L354.1 74L355.1 73.1L356.1 72.6L357.1 72.7L358.1 73.3L359.1 74.3L360.1 75.7L363.1 81.4L366.1 88.1L368.1 95.8L370.1 107L371.1 105L372.1 101.6L373.1 96.7L374.1 92.8L376.1 88L377.1 86.2L380.1 82.8L381.1 81.8L386.1 78.9L393.1 77.2L401.1 76.9L412.1 77.9" fill="none" stroke="#8a9aa6" stroke-width="0.45" stroke-linejoin="round" stroke-linecap="round" opacity="0.3" />
<path d="M344.1 77.7L349.1 77.9L350.1 77.7L351.1 77.1L352.1 76.1L354.1 73.9L355.1 73L356.1 72.4L357.1 72.5L358.1 73.1L359.1 74.2L360.1 75.6L363.1 81.4L366.1 88.1L368.1 95.8L370.1 107L371.1 105L372.1 101.6L373.1 96.7L374.1 92.8L376.1 88L377.1 86.2L380.1 82.8L381.1 81.8L386.1 78.9L393.1 77.2L401.1 76.9L412.1 77.9" fill="none" stroke="#8a9aa6" stroke-width="0.45" stroke-linejoin="round" stroke-linecap="round" opacity="0.3" />
<path d="M344.1 77.7L350.2 78L356.3 78.7L360.4 80L363.5 82.6L366 87.7L368.1 95.8L370.1 107L371.6 104L373.7 93.8L376.7 86.6L380.8 82L385.9 79L393.1 77.2L401.2 76.9L413 78" fill="none" stroke="#4d7590" stroke-width="7.0" stroke-opacity="0.2" stroke-linejoin="round" stroke-linecap="round"/>
<path d="M344.1 77.7L350.2 78L356.3 78.7L360.4 80L363.5 82.6L366 87.7L368.1 95.8L370.1 107L371.6 104L373.7 93.8L376.7 86.6L380.8 82L385.9 79L393.1 77.2L401.2 76.9L413 78" fill="none" stroke="#1c4a66" stroke-width="4.0" stroke-opacity="0.6" stroke-linejoin="round" stroke-linecap="round"/>
<path d="M344.1 77.7L350.2 78L356.3 78.7L360.4 80L363.5 82.6L366 87.7L368.1 95.8L370.1 107L371.6 104L373.7 93.8L376.7 86.6L380.8 82L385.9 79L393.1 77.2L401.2 76.9L413 78" fill="none" stroke="#111" stroke-width="2.1" stroke-linejoin="round" stroke-linecap="butt"/>
<circle cx="331.5" cy="77.6" r="8.8" fill="#fff" stroke="#333" stroke-width="0.85"/>
<text x="331.5" y="81.9" font-size="12.5" text-anchor="middle" fill="#111"  style="">1</text>
<text x="377.4" y="55" font-size="11.6" text-anchor="middle" fill="#111"  style=""><tspan font-style="italic">n</tspan> = 112 (18%)</text>
<path d="M458.8 43.9L463.3 43.6L464.8 43.2L466.8 41.9L469.3 39.2L471.3 35.9L473.3 31.8L476.3 23.4L479.3 13.2L480.8 10.4L481.3 22.3L482.3 39.7L484.8 66L485.3 65.3L487.3 57.3L489.3 51.5L493.3 46.4L498.3 44.1L507.3 43.1L517.3 43.4L527.3 43.9L527.3 45.9L517.3 45.4L507.3 45.1L498.3 46.1L493.3 48.4L489.3 53.5L487.3 59.3L485.3 67.3L484.8 68L482.8 48.4L480.8 38.4L479.8 37.4L479.3 37.1L473.3 42.6L469.3 44.6L464.8 45.6L458.8 45.9Z" fill="#c4e4f6" opacity="0.6" stroke="none"/>
<path d="M458.8 43.9L464.8 43.6L469.3 42.6L470.3 42.1L471.8 40.9L473.3 39.2L474.8 36.4L476.8 31.8L479.3 24.7L480.8 22.4L481.8 36.4L484.8 66L485.3 65.3L487.3 57.3L489.3 51.5L493.3 46.4L498.3 44.1L507.3 43.1L517.3 43.4L527.3 43.9L527.3 45.4L517.3 44.9L507.3 44.6L498.3 45.6L493.3 47.9L489.3 53L487.3 58.8L485.3 66.8L484.8 67.5L482.8 47.9L480.8 37.9L479.8 36.9L479.3 36.6L473.3 42.1L469.3 44.1L464.8 45.1L458.8 45.4Z" fill="#8fcbee" opacity="0.55" stroke="none"/>
<path d="M458.8 43.9L464.6 43.6L469.4 42.6L473.2 40.7L476.5 37.8L479.4 35L480.8 36.4L482.8 46.4L484.9 67L487.1 57.9L489.4 51.2L493.3 46.4L498.1 44.1L507.6 43.1L517.2 43.4L527.7 43.9" fill="none" stroke="#7cc3ea" stroke-width="4.4" stroke-opacity="0.6" stroke-linejoin="round" stroke-linecap="round"/>
<path d="M458.8 43.9L464.6 43.6L469.4 42.6L473.2 40.7L476.5 37.8L479.4 35L480.8 36.4L482.8 46.4L484.9 67L487.1 57.9L489.4 51.2L493.3 46.4L498.1 44.1L507.6 43.1L517.2 43.4L527.7 43.9" fill="none" stroke="#111" stroke-width="1.9" stroke-linejoin="round" stroke-linecap="butt"/>
<circle cx="446.5" cy="44.6" r="8.8" fill="#fff" stroke="#333" stroke-width="0.85"/>
<text x="446.5" y="48.9" font-size="12.5" text-anchor="middle" fill="#111"  style="">6</text>
<text x="492.2" y="10" font-size="11.6" text-anchor="middle" fill="#111"  style=""><tspan font-style="italic">n</tspan> = 126 (21%)</text>
<path d="M388.3 204.9L391.3 204.3L392.8 203.9L394.3 203.2L396.3 201.8L397.3 200.9L397.8 200.2L399.8 196.8L401.8 193L402.8 191.7L403.3 192.3L404.8 196.2L405.8 198.1L406.8 199.6L408.3 202.9L413.8 238.9L414.3 241L419.3 217.1L419.8 216.1L425.8 207.9L426.3 207.5L433.8 205.6L442.3 205.3L456.8 205.6L456.8 208.1L442.3 207.8L433.8 208.1L426.3 210L425.8 210.4L419.8 218.6L419.3 219.6L414.3 243.5L413.8 241.4L408.8 208.3L408.3 205.5L407.3 203.8L406.8 203.3L401.8 202.8L397.3 205.9L388.3 207.4Z" fill="#8fd0e6" opacity="0.5" stroke="none"/>
<path d="M388.3 204.9L392.7 204.1L397.4 203.4L401.7 200.3L407 200.8L408.4 203.2L414.2 241.5L419.4 216.6L426.1 207.5L433.8 205.6L442.4 205.3L456.8 205.6" fill="none" stroke="#2ea9cf" stroke-width="4.6" stroke-opacity="0.75" stroke-linejoin="round" stroke-linecap="round"/>
<path d="M388.3 204.9L392.7 204.1L397.4 203.4L401.7 200.3L407 200.8L408.4 203.2L414.2 241.5L419.4 216.6L426.1 207.5L433.8 205.6L442.4 205.3L456.8 205.6" fill="none" stroke="#111" stroke-width="2.1" stroke-linejoin="round" stroke-linecap="butt"/>
<circle cx="374.8" cy="205.2" r="8.8" fill="#fff" stroke="#333" stroke-width="0.85"/>
<text x="374.8" y="209.5" font-size="12.5" text-anchor="middle" fill="#111"  style="">2</text>
<text x="421.4" y="186" font-size="11.6" text-anchor="middle" fill="#111"  style=""><tspan font-style="italic">n</tspan> = 91 (15%)</text>
<path d="M485.3 223.4L493.3 222.1L494.3 221.5L495.8 219.6L497.8 216L500.8 208.5L501.8 204.9L503.8 196.4L504.3 195L504.8 198.2L506.8 218.1L507.8 223.6L510.8 243.8L511.3 246.2L514.3 237.2L516.3 230.6L516.8 230L523.8 224.7L524.3 224.5L531.8 223.6L544.3 223.4L553.8 223.6L553.8 225.6L544.3 225.4L531.8 225.6L524.3 226.5L523.8 226.7L516.8 232L516.3 232.6L514.3 239.2L511.3 248.2L510.8 245.8L507.8 225.6L505.3 214.5L504.3 213.4L503.8 213.5L501.3 218L500.8 218.7L497.3 221.8L494.3 223.9L493.8 224.1L485.3 225.4Z" fill="#fde3a6" opacity="0.6" stroke="none"/>
<path d="M485.3 223.4L493.8 222.1L497.3 219.7L498.8 217.9L500.8 214.6L501.8 212L503.8 205.6L504.3 204.8L504.8 206.5L506.3 216.2L507.8 223.6L510.8 243.8L511.3 246.2L514.3 237.2L516.3 230.6L516.8 230L523.8 224.7L524.3 224.5L531.8 223.6L544.3 223.4L553.8 223.6L553.8 225.1L544.3 224.9L531.8 225.1L524.3 226L523.8 226.2L516.8 231.5L516.3 232.1L514.3 238.7L511.3 247.7L510.8 245.3L507.8 225.1L505.3 214L504.3 212.9L503.8 213L501.3 217.5L500.8 218.2L497.3 221.3L494.3 223.4L493.8 223.6L485.3 224.9Z" fill="#f9c24a" opacity="0.5" stroke="none"/>
<path d="M485.3 223.4L489.7 222.8L494 222.1L497.3 219.8L501.1 216.4L504 211.1L505.4 212.6L507.8 223.6L511.2 246.5L514.1 237.9L516.4 230.3L520.3 227.4L524.1 224.5L531.8 223.6L544.2 223.4L554.2 223.6" fill="none" stroke="#f8b620" stroke-width="4.4" stroke-opacity="0.8" stroke-linejoin="round" stroke-linecap="round"/>
<path d="M485.3 223.4L489.7 222.8L494 222.1L497.3 219.8L501.1 216.4L504 211.1L505.4 212.6L507.8 223.6L511.2 246.5L514.1 237.9L516.4 230.3L520.3 227.4L524.1 224.5L531.8 223.6L544.2 223.4L554.2 223.6" fill="none" stroke="#111" stroke-width="2.0" stroke-linejoin="round" stroke-linecap="butt"/>
<circle cx="471.7" cy="223.6" r="8.8" fill="#fff" stroke="#333" stroke-width="0.85"/>
<text x="471.7" y="227.9" font-size="12.5" text-anchor="middle" fill="#111"  style="">3</text>
<text x="518.4" y="190" font-size="11.6" text-anchor="middle" fill="#111"  style=""><tspan font-style="italic">n</tspan> = 100 (16%)</text>
<path d="M643.3 88L646.8 88L649.8 87.3L652.8 87.8L656.8 85.5L658.3 84.3L660.3 82.1L660.8 80.9L663.3 70.1L663.8 71.8L665.3 79.6L667.8 101.4L669.8 121L670.3 119.8L674.8 95.2L675.3 94.4L678.3 91.8L680.8 88.4L681.3 88L684.8 88L688.8 87.2L702.3 88L712.3 88.3L712.3 90.3L702.3 90L688.8 89.2L684.8 90L681.3 90L680.8 90.4L678.3 93.8L675.3 96.4L674.8 97.2L670.3 121.8L669.8 123L667.8 103.4L665.3 82.1L663.8 78.5L663.3 77.8L660.8 85.5L660.3 86.2L655.8 88.1L652.8 89.8L649.8 89.3L646.8 90L643.3 90Z" fill="#f7a040" opacity="0.6" stroke="none"/>
<path d="M681 88Q690 72 702 80Q708 85 712 88" fill="none" stroke="#fde6cc" stroke-width="0.6"/>
<path d="M643.3 88L646.7 88L649.6 87.3L652.9 87.8L655.8 86.1L658.2 85.1L660.6 84.1L663.4 75.5L665.4 80.3L667.8 101.4L669.9 122L672.1 110L674.9 94.7L678.3 91.8L681.1 88L685 88L688.8 87.2L693.6 87.5L702.2 88L712.7 88.3" fill="none" stroke="#f58a14" stroke-width="4.6" stroke-opacity="0.85" stroke-linejoin="round" stroke-linecap="round"/>
<path d="M643.3 88L646.7 88L649.6 87.3L652.9 87.8L655.8 86.1L658.2 85.1L660.6 84.1L663.4 75.5L665.4 80.3L667.8 101.4L669.9 122L672.1 110L674.9 94.7L678.3 91.8L681.1 88L685 88L688.8 87.2L693.6 87.5L702.2 88L712.7 88.3" fill="none" stroke="#111" stroke-width="2.0" stroke-linejoin="round" stroke-linecap="butt"/>
<circle cx="630.9" cy="88.5" r="8.8" fill="#fff" stroke="#333" stroke-width="0.85"/>
<text x="630.9" y="92.8" font-size="12.5" text-anchor="middle" fill="#111"  style="">5</text>
<text x="678.4" y="65" font-size="11.6" text-anchor="middle" fill="#111"  style=""><tspan font-style="italic">n</tspan> = 116 (19%)</text>
<path d="M714.2 162.6L719.2 161.4L722.7 162.6L724.7 161.2L725.7 160.3L727.2 158.4L728.2 156.9L729.2 155L729.7 153.4L731.7 144.9L732.2 142.6L734.2 129.7L734.7 130L736.7 152.9L739.7 178.6L740.2 180.6L744.7 166.7L745.2 166L747.7 164.7L751.2 162L751.7 161.8L757.2 162L782.7 162L782.7 164L757.2 164L751.7 163.8L751.2 164L747.7 166.7L745.2 168L744.7 168.7L740.2 182.6L739.7 180.6L737.2 159.7L735.7 150L735.2 148.4L734.2 147.4L732.2 154.4L729.7 159.8L729.2 160.6L726.7 161.8L722.7 164.6L719.2 163.4L714.2 164.6Z" fill="#f7b8c2" opacity="0.6" stroke="none"/>
<path d="M714.2 162.6L719.2 161.4L722.7 162.6L726.2 160.1L728.2 159L729.2 158.2L730.2 155.7L732.2 148.9L734.2 138.3L734.7 138.5L735.2 141.8L739.7 178.6L740.2 180.6L744.7 166.7L745.2 166L747.7 164.7L751.2 162L751.7 161.8L757.2 162L782.7 162L782.7 163.5L757.2 163.5L751.7 163.3L751.2 163.5L747.7 166.2L745.2 167.5L744.7 168.2L740.2 182.1L739.7 180.1L737.2 159.2L735.7 149.5L735.2 147.9L734.2 146.9L732.2 153.9L729.7 159.3L729.2 160.1L726.7 161.3L722.7 164.1L719.2 162.9L714.2 164.1Z" fill="#ef7386" opacity="0.5" stroke="none"/>
<path d="M714.2 162.6L719.4 161.4L722.7 162.6L726.5 159.9L729.4 158.5L732.2 152.4L734.1 145.3L735.5 146.7L737.4 159L740 181.2L742.1 175L744.9 166.1L747.8 164.7L751.5 161.8L757.2 162L766.7 162L782.7 162" fill="none" stroke="#e8485e" stroke-width="3.8" stroke-opacity="0.7" stroke-linejoin="round" stroke-linecap="round"/>
<path d="M714.2 162.6L719.4 161.4L722.7 162.6L726.5 159.9L729.4 158.5L732.2 152.4L734.1 145.3L735.5 146.7L737.4 159L740 181.2L742.1 175L744.9 166.1L747.8 164.7L751.5 161.8L757.2 162L766.7 162L782.7 162" fill="none" stroke="#111" stroke-width="2.0" stroke-linejoin="round" stroke-linecap="butt"/>
<circle cx="706.2" cy="149.6" r="8.8" fill="#fff" stroke="#333" stroke-width="0.85"/>
<text x="706.2" y="153.9" font-size="12.5" text-anchor="middle" fill="#111"  style="">4</text>
<text x="748.6" y="124" font-size="11.6" text-anchor="middle" fill="#111"  style=""><tspan font-style="italic">n</tspan> = 66 (11%)</text>
<path d="M353.7,272.8 L353.7,221" stroke="#111" stroke-width="1.1" fill="none"/>
<path d="M350.7,224.5 L353.7,217.5 L356.7,224.5 L353.7,222.8 Z" fill="#111"/>
<path d="M353.2,272.8 L406,272.8" stroke="#111" stroke-width="1.1" fill="none"/>
<path d="M403,269.8 L410,272.8 L403,275.8 L404.7,272.8 Z" fill="#111"/>
<text x="378.4" y="289.3" font-size="11.5" text-anchor="middle" fill="#111"  style="">UMAP 1</text>
<text x="0" y="0" font-size="11.5" text-anchor="middle" fill="#111" transform="translate(345.6,251) rotate(-90)">UMAP 2</text>
<text x="353.4" y="314.4" font-size="11.6" text-anchor="start" fill="#111"  style="">611 Units</text>
<text x="355" y="340.3" font-size="11.5" text-anchor="start" fill="#111"  style=""><tspan font-style="italic">n</tspan> = 14 (slices)</text>
<rect x="541.7" y="232.7" width="18.1" height="17.4" fill="none" stroke="#222" stroke-width="1.1"/>
<text x="550.75" y="246.1" font-size="16" text-anchor="middle" fill="#111"  style="">c</text>
<line x1="598.5" y1="251.6" x2="598.5" y2="368.7" stroke="#111" stroke-width="1.3" />
<line x1="597.9" y1="368.2" x2="747" y2="368.2" stroke="#111" stroke-width="1.3" />
<line x1="747" y1="251.6" x2="747" y2="368.7" stroke="#999" stroke-width="1.3" />
<line x1="595" y1="368.2" x2="598.5" y2="368.2" stroke="#444" stroke-width="1.1" />
<text x="591" y="372.2" font-size="11.5" text-anchor="end" fill="#111"  style="">0</text>
<line x1="595" y1="344.88" x2="598.5" y2="344.88" stroke="#444" stroke-width="1.1" />
<text x="591" y="348.88" font-size="11.5" text-anchor="end" fill="#111"  style="">0.2</text>
<line x1="595" y1="321.56" x2="598.5" y2="321.56" stroke="#444" stroke-width="1.1" />
<text x="591" y="325.56" font-size="11.5" text-anchor="end" fill="#111"  style="">0.4</text>
<line x1="595" y1="298.24" x2="598.5" y2="298.24" stroke="#444" stroke-width="1.1" />
<text x="591" y="302.24" font-size="11.5" text-anchor="end" fill="#111"  style="">0.6</text>
<line x1="595" y1="274.92" x2="598.5" y2="274.92" stroke="#444" stroke-width="1.1" />
<text x="591" y="278.92" font-size="11.5" text-anchor="end" fill="#111"  style="">0.8</text>
<line x1="595" y1="251.6" x2="598.5" y2="251.6" stroke="#444" stroke-width="1.1" />
<text x="591" y="255.6" font-size="11.5" text-anchor="end" fill="#111"  style="">1</text>
<line x1="747" y1="368.2" x2="750.5" y2="368.2" stroke="#999" stroke-width="1.1" />
<text x="753.5" y="372.2" font-size="11.5" text-anchor="start" fill="#999"  style="">0</text>
<line x1="747" y1="339.05" x2="750.5" y2="339.05" stroke="#999" stroke-width="1.1" />
<text x="753.5" y="343.05" font-size="11.5" text-anchor="start" fill="#999"  style="">5</text>
<line x1="747" y1="309.9" x2="750.5" y2="309.9" stroke="#999" stroke-width="1.1" />
<text x="753.5" y="313.9" font-size="11.5" text-anchor="start" fill="#999"  style="">10</text>
<line x1="747" y1="280.75" x2="750.5" y2="280.75" stroke="#999" stroke-width="1.1" />
<text x="753.5" y="284.75" font-size="11.5" text-anchor="start" fill="#999"  style="">15</text>
<line x1="747" y1="251.6" x2="750.5" y2="251.6" stroke="#999" stroke-width="1.1" />
<text x="753.5" y="255.6" font-size="11.5" text-anchor="start" fill="#999"  style="">20</text>
<line x1="633.66" y1="368.2" x2="633.66" y2="371.7" stroke="#111" stroke-width="1.1" />
<text x="633.66" y="385.7" font-size="11.5" text-anchor="middle" fill="#111"  style="">2</text>
<line x1="668.82" y1="368.2" x2="668.82" y2="371.7" stroke="#111" stroke-width="1.1" />
<text x="668.82" y="385.7" font-size="11.5" text-anchor="middle" fill="#111"  style="">4</text>
<line x1="703.98" y1="368.2" x2="703.98" y2="371.7" stroke="#111" stroke-width="1.1" />
<text x="703.98" y="385.7" font-size="11.5" text-anchor="middle" fill="#111"  style="">6</text>
<line x1="739.14" y1="368.2" x2="739.14" y2="371.7" stroke="#111" stroke-width="1.1" />
<text x="739.14" y="385.7" font-size="11.5" text-anchor="middle" fill="#111"  style="">8</text>
<text x="673.8" y="400.8" font-size="13.2" text-anchor="middle" fill="#111"  style="">Resolution Parameter</text>
<text x="0" y="0" font-size="12.6" text-anchor="middle" fill="#111" transform="translate(572.5,315) rotate(-90)">Modularity Score, Q</text>
<text x="0" y="0" font-size="13.2" text-anchor="middle" fill="#999" transform="translate(772.7,309) rotate(90)">No. of Clusters</text>
<path d="M607.29,277.83 L616.08,317.48 L624.87,332.05 L633.66,334.97 L642.45,339.05 L651.24,344.3 L660.03,349.54 L668.82,350.71 L677.61,350.71 L686.4,350.71 L695.19,350.71 L703.98,350.71 L712.77,350.71 L721.56,350.71 L730.35,350.71 L739.14,350.71" fill="none" stroke="#888" stroke-width="0.8"/>
<line x1="607.29" y1="272.3" x2="607.29" y2="283.37" stroke="#aaa" stroke-width="0.9" />
<line x1="604.79" y1="272.3" x2="609.79" y2="272.3" stroke="#aaa" stroke-width="0.9" />
<line x1="604.79" y1="283.37" x2="609.79" y2="283.37" stroke="#aaa" stroke-width="0.9" />
<circle cx="607.29" cy="277.83" r="3.4" fill="#858585"/>
<line x1="616.08" y1="313.11" x2="616.08" y2="321.85" stroke="#aaa" stroke-width="0.9" />
<line x1="613.58" y1="313.11" x2="618.58" y2="313.11" stroke="#aaa" stroke-width="0.9" />
<line x1="613.58" y1="321.85" x2="618.58" y2="321.85" stroke="#aaa" stroke-width="0.9" />
<circle cx="616.08" cy="317.48" r="3.4" fill="#858585"/>
<line x1="624.87" y1="330.3" x2="624.87" y2="333.8" stroke="#aaa" stroke-width="0.9" />
<line x1="622.37" y1="330.3" x2="627.37" y2="330.3" stroke="#aaa" stroke-width="0.9" />
<line x1="622.37" y1="333.8" x2="627.37" y2="333.8" stroke="#aaa" stroke-width="0.9" />
<circle cx="624.87" cy="332.05" r="3.4" fill="#858585"/>
<line x1="633.66" y1="333.22" x2="633.66" y2="336.72" stroke="#aaa" stroke-width="0.9" />
<line x1="631.16" y1="333.22" x2="636.16" y2="333.22" stroke="#aaa" stroke-width="0.9" />
<line x1="631.16" y1="336.72" x2="636.16" y2="336.72" stroke="#aaa" stroke-width="0.9" />
<circle cx="633.66" cy="334.97" r="3.4" fill="#858585"/>
<line x1="642.45" y1="334.68" x2="642.45" y2="343.42" stroke="#aaa" stroke-width="0.9" />
<line x1="639.95" y1="334.68" x2="644.95" y2="334.68" stroke="#aaa" stroke-width="0.9" />
<line x1="639.95" y1="343.42" x2="644.95" y2="343.42" stroke="#aaa" stroke-width="0.9" />
<circle cx="642.45" cy="339.05" r="3.4" fill="#858585"/>
<line x1="651.24" y1="342.55" x2="651.24" y2="346.05" stroke="#aaa" stroke-width="0.9" />
<line x1="648.74" y1="342.55" x2="653.74" y2="342.55" stroke="#aaa" stroke-width="0.9" />
<line x1="648.74" y1="346.05" x2="653.74" y2="346.05" stroke="#aaa" stroke-width="0.9" />
<circle cx="651.24" cy="344.3" r="3.4" fill="#858585"/>
<line x1="660.03" y1="348.09" x2="660.03" y2="351" stroke="#aaa" stroke-width="0.9" />
<line x1="657.53" y1="348.09" x2="662.53" y2="348.09" stroke="#aaa" stroke-width="0.9" />
<line x1="657.53" y1="351" x2="662.53" y2="351" stroke="#aaa" stroke-width="0.9" />
<circle cx="660.03" cy="349.54" r="3.4" fill="#858585"/>
<line x1="668.82" y1="349.54" x2="668.82" y2="351.88" stroke="#aaa" stroke-width="0.9" />
<line x1="666.32" y1="349.54" x2="671.32" y2="349.54" stroke="#aaa" stroke-width="0.9" />
<line x1="666.32" y1="351.88" x2="671.32" y2="351.88" stroke="#aaa" stroke-width="0.9" />
<circle cx="668.82" cy="350.71" r="3.4" fill="#858585"/>
<line x1="677.61" y1="349.54" x2="677.61" y2="351.88" stroke="#aaa" stroke-width="0.9" />
<line x1="675.11" y1="349.54" x2="680.11" y2="349.54" stroke="#aaa" stroke-width="0.9" />
<line x1="675.11" y1="351.88" x2="680.11" y2="351.88" stroke="#aaa" stroke-width="0.9" />
<circle cx="677.61" cy="350.71" r="3.4" fill="#858585"/>
<line x1="686.4" y1="349.54" x2="686.4" y2="351.88" stroke="#aaa" stroke-width="0.9" />
<line x1="683.9" y1="349.54" x2="688.9" y2="349.54" stroke="#aaa" stroke-width="0.9" />
<line x1="683.9" y1="351.88" x2="688.9" y2="351.88" stroke="#aaa" stroke-width="0.9" />
<circle cx="686.4" cy="350.71" r="3.4" fill="#858585"/>
<line x1="695.19" y1="349.54" x2="695.19" y2="351.88" stroke="#aaa" stroke-width="0.9" />
<line x1="692.69" y1="349.54" x2="697.69" y2="349.54" stroke="#aaa" stroke-width="0.9" />
<line x1="692.69" y1="351.88" x2="697.69" y2="351.88" stroke="#aaa" stroke-width="0.9" />
<circle cx="695.19" cy="350.71" r="3.4" fill="#858585"/>
<line x1="703.98" y1="349.54" x2="703.98" y2="351.88" stroke="#aaa" stroke-width="0.9" />
<line x1="701.48" y1="349.54" x2="706.48" y2="349.54" stroke="#aaa" stroke-width="0.9" />
<line x1="701.48" y1="351.88" x2="706.48" y2="351.88" stroke="#aaa" stroke-width="0.9" />
<circle cx="703.98" cy="350.71" r="3.4" fill="#858585"/>
<line x1="712.77" y1="349.54" x2="712.77" y2="351.88" stroke="#aaa" stroke-width="0.9" />
<line x1="710.27" y1="349.54" x2="715.27" y2="349.54" stroke="#aaa" stroke-width="0.9" />
<line x1="710.27" y1="351.88" x2="715.27" y2="351.88" stroke="#aaa" stroke-width="0.9" />
<circle cx="712.77" cy="350.71" r="3.4" fill="#858585"/>
<line x1="721.56" y1="349.54" x2="721.56" y2="351.88" stroke="#aaa" stroke-width="0.9" />
<line x1="719.06" y1="349.54" x2="724.06" y2="349.54" stroke="#aaa" stroke-width="0.9" />
<line x1="719.06" y1="351.88" x2="724.06" y2="351.88" stroke="#aaa" stroke-width="0.9" />
<circle cx="721.56" cy="350.71" r="3.4" fill="#858585"/>
<line x1="730.35" y1="349.54" x2="730.35" y2="351.88" stroke="#aaa" stroke-width="0.9" />
<line x1="727.85" y1="349.54" x2="732.85" y2="349.54" stroke="#aaa" stroke-width="0.9" />
<line x1="727.85" y1="351.88" x2="732.85" y2="351.88" stroke="#aaa" stroke-width="0.9" />
<circle cx="730.35" cy="350.71" r="3.4" fill="#858585"/>
<line x1="739.14" y1="349.54" x2="739.14" y2="351.88" stroke="#aaa" stroke-width="0.9" />
<line x1="736.64" y1="349.54" x2="741.64" y2="349.54" stroke="#aaa" stroke-width="0.9" />
<line x1="736.64" y1="351.88" x2="741.64" y2="351.88" stroke="#aaa" stroke-width="0.9" />
<circle cx="739.14" cy="350.71" r="3.4" fill="#858585"/>
<path d="M607.29,287.75 L616.08,285.41 L624.87,286 L633.66,286.58 L642.45,288.91 L651.24,292.41 L660.03,298.82 L668.82,299.99 L677.61,300.57 L686.4,300.57 L695.19,300.57 L703.98,300.57 L712.77,300.57 L721.56,301.5 L730.35,300.57 L739.14,300.57" fill="none" stroke="#111" stroke-width="0.8"/>
<line x1="607.29" y1="285.41" x2="607.29" y2="290.08" stroke="#777" stroke-width="0.9" />
<line x1="604.79" y1="285.41" x2="609.79" y2="285.41" stroke="#777" stroke-width="0.9" />
<line x1="604.79" y1="290.08" x2="609.79" y2="290.08" stroke="#777" stroke-width="0.9" />
<circle cx="607.29" cy="287.75" r="3.5" fill="#0a0a0a"/>
<circle cx="616.08" cy="285.41" r="3.5" fill="#0a0a0a"/>
<circle cx="624.87" cy="286" r="3.5" fill="#0a0a0a"/>
<circle cx="633.66" cy="286.58" r="3.5" fill="#0a0a0a"/>
<line x1="642.45" y1="287.16" x2="642.45" y2="290.66" stroke="#777" stroke-width="0.9" />
<line x1="639.95" y1="287.16" x2="644.95" y2="287.16" stroke="#777" stroke-width="0.9" />
<line x1="639.95" y1="290.66" x2="644.95" y2="290.66" stroke="#777" stroke-width="0.9" />
<circle cx="642.45" cy="288.91" r="3.5" fill="#0a0a0a"/>
<line x1="651.24" y1="291.01" x2="651.24" y2="293.81" stroke="#777" stroke-width="0.9" />
<line x1="648.74" y1="291.01" x2="653.74" y2="291.01" stroke="#777" stroke-width="0.9" />
<line x1="648.74" y1="293.81" x2="653.74" y2="293.81" stroke="#777" stroke-width="0.9" />
<circle cx="651.24" cy="292.41" r="3.5" fill="#0a0a0a"/>
<line x1="660.03" y1="294.28" x2="660.03" y2="303.37" stroke="#777" stroke-width="0.9" />
<line x1="657.53" y1="294.28" x2="662.53" y2="294.28" stroke="#777" stroke-width="0.9" />
<line x1="657.53" y1="303.37" x2="662.53" y2="303.37" stroke="#777" stroke-width="0.9" />
<circle cx="660.03" cy="298.82" r="3.5" fill="#0a0a0a"/>
<circle cx="668.82" cy="299.99" r="3.5" fill="#0a0a0a"/>
<circle cx="677.61" cy="300.57" r="3.5" fill="#0a0a0a"/>
<circle cx="686.4" cy="300.57" r="3.5" fill="#0a0a0a"/>
<circle cx="695.19" cy="300.57" r="3.5" fill="#0a0a0a"/>
<circle cx="703.98" cy="300.57" r="3.5" fill="#0a0a0a"/>
<circle cx="712.77" cy="300.57" r="3.5" fill="#0a0a0a"/>
<line x1="721.56" y1="297.77" x2="721.56" y2="305.24" stroke="#777" stroke-width="0.9" />
<line x1="719.06" y1="297.77" x2="724.06" y2="297.77" stroke="#777" stroke-width="0.9" />
<line x1="719.06" y1="305.24" x2="724.06" y2="305.24" stroke="#777" stroke-width="0.9" />
<circle cx="721.56" cy="301.5" r="3.5" fill="#0a0a0a"/>
<circle cx="730.35" cy="300.57" r="3.5" fill="#0a0a0a"/>
<circle cx="739.14" cy="300.57" r="3.5" fill="#0a0a0a"/>
<text x="624.5" y="279.5" font-size="11.5" text-anchor="middle" fill="#111"  style="">V</text>
<text x="625.2" y="324.6" font-size="11.5" text-anchor="middle" fill="#111"  style="">V</text>
<rect x="37.6" y="420.9" width="18.1" height="17.4" fill="none" stroke="#222" stroke-width="1.1"/>
<text x="46.65" y="434.3" font-size="16" text-anchor="middle" fill="#111"  style="">d</text>
<text x="153.4" y="427.2" font-size="11.5" text-anchor="middle" fill="#111"  style="">EF Overlap</text>
<path d="M81 445.8L90 445.8L91 445.6L92.5 444.9L93 444.9L93.5 445.3L94 446.4L94.5 448.4L95.5 454.2L96 455.5L96.5 455.2L97 454.5L97.5 453.4L99.5 448.1L100 447L101 445.6L102 444.9L104.5 443.9L105.5 443.7L106 443.8L108.5 444.2L113.5 445.2L116 445.6" fill="none" stroke="#fbb400" stroke-width="1.7" stroke-linejoin="round" stroke-linecap="round" opacity="1" />
<path d="M81 445.8L90 445.8L91 445.6L92.5 444.9L93 444.9L93.5 445.3L94 446.3L94.5 448.3L95.5 453.9L96 455.1L96.5 454.9L97 454.2L97.5 453.2L99.5 448L100 447L101 445.6L102 445L104 444.4L105.5 444.2L113 445.3L116 445.6" fill="none" stroke="#f38a00" stroke-width="1.7" stroke-linejoin="round" stroke-linecap="round" opacity="1" />
<path d="M81 445.8L90 445.8L91 445.6L92.5 444.9L93 444.9L93.5 445.3L94 446.3L94.5 448.2L95.5 453.6L96 454.7L96.5 454.4L97 453.6L99.5 447L100 446.1L100.5 445.5L101 445.2L101.5 445L102.5 444.8L105.5 444.7L112 445.4L116 445.7" fill="none" stroke="#e23c12" stroke-width="1.7" stroke-linejoin="round" stroke-linecap="round" opacity="1" />
<path d="M81 445.8L90 445.8L91 445.6L92.5 444.9L93 444.9L93.5 445.3L94 446.2L94.5 448.1L95.5 453.4L96 454.5L96.5 454.2L97 453.4L99.5 446.9L100 446.1L100.5 445.5L101 445.2L101.5 445L102.5 444.8L105 444.9L110.5 445.4L116 445.7" fill="none" stroke="#a10a12" stroke-width="1.7" stroke-linejoin="round" stroke-linecap="round" opacity="1" />
<path d="M121.2 445.8L128.2 445.8L129.2 445.7L129.7 445.6L130.2 445.2L130.7 444.3L131.2 442.9L132.2 439.2L132.7 438.1L133.2 438.7L133.7 442.3L134.2 448.1L135.2 463.7L135.7 466.2L136.2 465.3L136.7 463.4L138.2 454.6L139.2 449.6L139.7 447.9L140.2 446.7L140.7 445.8L141.2 445.3L141.7 445L143.7 444.4L145.7 443.6L146.7 443.4L148.7 443.7L153.7 445L156.2 445.5" fill="none" stroke="#fbb400" stroke-width="1.7" stroke-linejoin="round" stroke-linecap="round" opacity="1" />
<path d="M121.2 445.8L128.2 445.8L129.2 445.7L129.7 445.6L130.2 445.2L130.7 444.3L131.2 442.9L132.2 439.2L132.7 438.1L133.2 438.7L133.7 442.2L134.2 448L135.2 463L135.7 465.4L136.2 464.6L136.7 462.7L138.2 454.3L139.2 449.4L139.7 447.8L140.2 446.6L140.7 445.8L141.2 445.3L142.2 444.8L145.7 444L146.7 443.9L148.7 444.2L153.7 445.2L156.2 445.5" fill="none" stroke="#f38a00" stroke-width="1.7" stroke-linejoin="round" stroke-linecap="round" opacity="1" />
<path d="M121.2 445.8L128.2 445.8L129.2 445.7L129.7 445.6L130.2 445.2L130.7 444.3L131.2 442.9L132.2 439.2L132.7 438.1L133.2 438.7L133.7 442.2L134.2 447.8L135.2 462.4L135.7 464.6L136.2 463.6L136.7 461.2L138.2 451.7L138.7 449.3L139.2 447.5L139.7 446.3L140.2 445.6L140.7 445.2L141.7 444.8L146.2 444.4L147.7 444.5L153.2 445.3L156.2 445.6" fill="none" stroke="#e23c12" stroke-width="1.7" stroke-linejoin="round" stroke-linecap="round" opacity="1" />
<path d="M121.2 445.8L128.2 445.8L129.2 445.7L129.7 445.6L130.2 445.2L130.7 444.3L131.2 442.9L132.2 439.2L132.7 438.1L133.2 438.7L133.7 442.1L134.2 447.7L135.2 461.9L135.7 464.1L136.2 463L136.7 460.7L138.2 451.5L138.7 449.2L139.2 447.4L139.7 446.3L140.2 445.6L140.7 445.2L141.7 444.8L146.2 444.5L152.7 445.4L156.2 445.7" fill="none" stroke="#a10a12" stroke-width="1.7" stroke-linejoin="round" stroke-linecap="round" opacity="1" />
<path d="M161.4 445.8L167.9 445.8L168.9 445.7L169.4 445.5L169.9 444.9L170.4 444L171.9 439.8L172.4 439.8L172.9 442.4L173.9 454L174.4 458.5L174.9 458.9L175.4 458L175.9 456.4L177.4 450.2L178.4 447L178.9 445.9L179.4 445.2L179.9 444.7L180.9 444.2L183.4 443.3L184.4 443.1L184.9 443.1L186.9 443.5L191.9 445L193.9 445.4L196.4 445.7" fill="none" stroke="#fbb400" stroke-width="1.7" stroke-linejoin="round" stroke-linecap="round" opacity="1" />
<path d="M161.4 445.8L167.9 445.8L168.9 445.7L169.4 445.5L169.9 444.9L170.4 444L171.9 439.8L172.4 439.8L172.9 442.3L173.9 453.7L174.4 458L174.9 458.4L175.4 457.5L175.9 455.9L177.4 450L178.4 446.9L178.9 445.9L179.4 445.2L179.9 444.7L180.9 444.3L183.4 443.7L184.4 443.5L185.9 443.8L191.9 445.2L193.9 445.5L196.4 445.7" fill="none" stroke="#f38a00" stroke-width="1.7" stroke-linejoin="round" stroke-linecap="round" opacity="1" />
<path d="M161.4 445.8L167.9 445.8L168.9 445.7L169.4 445.5L169.9 444.9L170.4 444L171.9 439.8L172.4 439.8L172.9 442.3L173.9 453.4L174.4 457.5L174.9 457.8L175.4 456.7L176.9 450.3L177.9 446.8L178.4 445.7L178.9 445L179.4 444.6L180.4 444.3L184.4 444L191.4 445.3L196.4 445.7" fill="none" stroke="#e23c12" stroke-width="1.7" stroke-linejoin="round" stroke-linecap="round" opacity="1" />
<path d="M161.4 445.8L167.9 445.8L168.9 445.7L169.4 445.5L169.9 444.9L170.4 444L171.9 439.8L172.4 439.8L172.9 442.2L173.9 453.1L174.4 457.2L174.9 457.5L175.4 456.4L176.9 450.1L177.9 446.7L178.4 445.7L178.9 445L179.4 444.6L179.9 444.4L180.9 444.3L184.4 444.2L190.9 445.4L193.4 445.6L196.4 445.7" fill="none" stroke="#a10a12" stroke-width="1.7" stroke-linejoin="round" stroke-linecap="round" opacity="1" />
<path d="M201.4 445.8L207.9 445.8L208.9 445.9L209.4 446.3L209.9 447L211.4 451.8L211.9 452.3L212.4 452.1L213.4 451.2L215.4 448.5L216.4 447.3L217.4 446.6L218.4 446.1L219.4 445.9L221.4 445.8L236.4 445.8" fill="none" stroke="#fbb400" stroke-width="1.7" stroke-linejoin="round" stroke-linecap="round" opacity="1" />
<path d="M201.4 445.8L207.9 445.8L208.9 445.9L209.4 446.2L209.9 447L211.4 451.6L211.9 452L212.4 451.9L213.4 451L215.4 448.4L216.4 447.3L217.4 446.5L218.4 446.1L219.4 445.9L221.4 445.8L236.4 445.8" fill="none" stroke="#f38a00" stroke-width="1.7" stroke-linejoin="round" stroke-linecap="round" opacity="1" />
<path d="M201.4 445.8L207.9 445.8L208.9 445.9L209.4 446.2L209.9 446.9L211.4 451.4L211.9 451.8L212.4 451.6L212.9 451.2L214.9 448.4L215.9 447.2L216.9 446.4L217.9 446L218.9 445.9L220.4 445.8L236.4 445.8" fill="none" stroke="#e23c12" stroke-width="1.7" stroke-linejoin="round" stroke-linecap="round" opacity="1" />
<path d="M201.4 445.8L207.9 445.8L208.9 445.9L209.4 446.2L209.9 446.9L211.4 451.2L211.9 451.6L212.4 451.4L212.9 451L214.9 448.3L215.9 447.2L216.9 446.4L217.9 446L220.4 445.8L236.4 445.8" fill="none" stroke="#a10a12" stroke-width="1.7" stroke-linejoin="round" stroke-linecap="round" opacity="1" />
<path d="M81 485.8L91 485.8L91.5 485.9L92 486.1L92.5 486.8L93 488.1L94 492L94.5 492.6L95 492.4L95.5 491.9L97.5 488.5L98.5 487.2L99 486.7L100 486.2L101 485.9L102.5 485.8L116 485.8" fill="none" stroke="#fbb400" stroke-width="1.7" stroke-linejoin="round" stroke-linecap="round" opacity="1" />
<path d="M81 485.8L91 485.8L91.5 485.9L92 486.1L92.5 486.7L93 488.1L94 491.8L94.5 492.3L95 492.1L95.5 491.6L97.5 488.4L98.5 487.1L99 486.7L100 486.1L101 485.9L102.5 485.8L116 485.8" fill="none" stroke="#f38a00" stroke-width="1.7" stroke-linejoin="round" stroke-linecap="round" opacity="1" />
<path d="M81 485.8L91 485.8L91.5 485.9L92 486.1L92.5 486.7L93 488L94 491.6L94.5 492.1L95 491.8L95.5 491.2L97 488.5L98 487L98.5 486.6L99.5 486L101.5 485.8L116 485.8" fill="none" stroke="#e23c12" stroke-width="1.7" stroke-linejoin="round" stroke-linecap="round" opacity="1" />
<path d="M81 485.8L91 485.8L91.5 485.9L92 486.1L92.5 486.7L93 487.9L94 491.4L94.5 491.9L95 491.6L95.5 491.1L97 488.4L98 487L98.5 486.5L99.5 486L101.5 485.8L116 485.8" fill="none" stroke="#a10a12" stroke-width="1.7" stroke-linejoin="round" stroke-linecap="round" opacity="1" />
<path d="M121.2 485.8L127.7 485.8L128.7 485.6L129.2 485.3L129.7 484.7L131.2 481.1L131.7 480.5L132.2 481.4L132.7 484.5L134.2 499.9L134.7 500.2L135.2 499.2L135.7 497.6L137.2 491L138.2 487.7L138.7 486.6L139.2 485.8L139.7 485.3L140.2 485L143.7 483.6L144.7 483.4L146.7 483.7L152.7 485.2L156.2 485.6" fill="none" stroke="#fbb400" stroke-width="1.7" stroke-linejoin="round" stroke-linecap="round" opacity="1" />
<path d="M121.2 485.8L127.7 485.8L128.7 485.6L129.2 485.3L129.7 484.7L131.2 481.1L131.7 480.5L132.2 481.4L132.7 484.4L134.2 499.4L134.7 499.7L135.2 498.7L135.7 497.1L137.2 490.8L138.2 487.6L138.7 486.5L139.2 485.8L139.7 485.3L140.7 484.8L143.7 484L144.7 483.9L146.7 484.2L152.2 485.3L156.2 485.7" fill="none" stroke="#f38a00" stroke-width="1.7" stroke-linejoin="round" stroke-linecap="round" opacity="1" />
<path d="M121.2 485.8L127.7 485.8L128.7 485.6L129.2 485.3L129.7 484.7L131.2 481.1L131.7 480.5L132.2 481.4L132.7 484.4L133.7 494.7L134.2 498.9L134.7 499.1L135.2 497.9L136.7 491.1L137.7 487.4L138.2 486.3L138.7 485.6L139.2 485.2L140.2 484.8L143.7 484.4L144.7 484.4L151.7 485.4L156.2 485.7" fill="none" stroke="#e23c12" stroke-width="1.7" stroke-linejoin="round" stroke-linecap="round" opacity="1" />
<path d="M121.2 485.8L127.7 485.8L128.7 485.6L129.2 485.3L129.7 484.7L131.2 481.1L131.7 480.5L132.2 481.4L132.7 484.3L133.7 494.4L134.2 498.5L134.7 498.7L135.2 497.5L136.7 490.9L137.7 487.3L138.2 486.3L138.7 485.6L139.2 485.1L140.2 484.8L144.2 484.5L151.7 485.5L156.2 485.7" fill="none" stroke="#a10a12" stroke-width="1.7" stroke-linejoin="round" stroke-linecap="round" opacity="1" />
<path d="M161.4 485.8L167.4 485.8L168.4 485.5L168.9 485.1L169.4 484.2L170.9 479.9L171.4 479.4L171.9 481.1L172.4 485.5L173.4 501.2L173.9 506.4L174.4 506L174.9 504.3L176.9 491.9L177.9 487.3L178.4 485.9L178.9 484.9L179.9 483.8L181.4 482.9L182.4 482.7L182.9 482.8L188.4 484.6L190.4 485.1L192.9 485.5L196.4 485.7" fill="none" stroke="#fbb400" stroke-width="1.7" stroke-linejoin="round" stroke-linecap="round" opacity="1" />
<path d="M161.4 485.8L167.4 485.8L168.4 485.5L168.9 485.1L169.4 484.2L170.9 479.9L171.4 479.4L171.9 481L172.4 485.4L173.4 500.6L173.9 505.6L174.4 505.2L174.9 503.5L177.4 489.1L177.9 487.2L178.4 485.8L178.9 484.9L179.4 484.3L179.9 483.9L180.9 483.4L182.4 483.2L183.9 483.5L188.4 484.8L190.4 485.3L192.9 485.6L196.4 485.8" fill="none" stroke="#f38a00" stroke-width="1.7" stroke-linejoin="round" stroke-linecap="round" opacity="1" />
<path d="M161.4 485.8L167.4 485.8L168.4 485.5L168.9 485.1L169.4 484.2L170.9 479.9L171.4 479.4L171.9 481L172.4 485.3L173.4 500L173.9 504.8L174.4 504.3L174.9 502.2L176.4 492L176.9 489.1L177.4 486.9L177.9 485.5L178.4 484.6L178.9 484.1L179.4 483.9L180.4 483.7L182.4 483.7L186.9 484.8L189.4 485.3L192.4 485.6L196.4 485.8" fill="none" stroke="#e23c12" stroke-width="1.7" stroke-linejoin="round" stroke-linecap="round" opacity="1" />
<path d="M161.4 485.8L167.4 485.8L168.4 485.5L168.9 485.1L169.4 484.2L170.9 479.9L171.4 479.4L171.9 481L172.4 485.2L173.4 499.5L173.9 504.2L174.4 503.7L174.9 501.6L176.4 491.7L176.9 488.9L177.4 486.8L177.9 485.4L178.4 484.6L178.9 484.2L179.9 483.8L181.9 483.8L182.9 484L186.9 484.9L189.4 485.4L192.4 485.7L196.4 485.8" fill="none" stroke="#a10a12" stroke-width="1.7" stroke-linejoin="round" stroke-linecap="round" opacity="1" />
<path d="M201.4 485.8L209.4 485.8L209.9 485.9L210.4 486.3L210.9 487.6L211.4 490.5L212.4 499.6L212.9 501.6L213.4 501.2L213.9 500L214.4 498.2L216.4 489.4L216.9 487.7L217.4 486.4L217.9 485.5L218.4 484.9L218.9 484.6L219.4 484.4L220.4 484.3L225.4 485.2L227.9 485.6L231.4 485.8L236.4 485.8" fill="none" stroke="#fbb400" stroke-width="1.7" stroke-linejoin="round" stroke-linecap="round" opacity="1" />
<path d="M201.4 485.8L209.4 485.8L209.9 485.9L210.4 486.3L210.9 487.5L211.4 490.3L212.4 499.1L212.9 501L213.4 500.6L213.9 499.5L214.4 497.9L216.4 489.6L216.9 488L217.4 486.8L217.9 485.9L218.4 485.4L218.9 485L219.4 484.8L220.4 484.7L227.9 485.6L231.4 485.8L236.4 485.8" fill="none" stroke="#f38a00" stroke-width="1.7" stroke-linejoin="round" stroke-linecap="round" opacity="1" />
<path d="M201.4 485.8L209.4 485.8L209.9 485.9L210.4 486.3L210.9 487.5L211.4 490.1L212.4 498.6L212.9 500.5L213.4 500L213.9 498.7L215.9 490.1L216.4 488.4L216.9 487.1L217.4 486.2L217.9 485.6L218.9 485.2L219.9 485.1L227.9 485.7L236.4 485.8" fill="none" stroke="#e23c12" stroke-width="1.7" stroke-linejoin="round" stroke-linecap="round" opacity="1" />
<path d="M201.4 485.8L209.4 485.8L209.9 485.9L210.4 486.3L210.9 487.4L211.4 490L212.4 498.2L212.9 500L213.4 499.6L213.9 498.3L215.9 490.1L216.4 488.4L216.9 487.2L217.4 486.4L217.9 485.8L218.9 485.4L219.9 485.3L227.9 485.7L236.4 485.8" fill="none" stroke="#a10a12" stroke-width="1.7" stroke-linejoin="round" stroke-linecap="round" opacity="1" />
<path d="M81 525.6L90 525.6L91 525.5L92.5 524.9L93 525.3L93.5 526.5L94.5 530.7L95 531.6L95.5 531.6L96 531.2L98 528.2L99 527L100 526.2L101 525.8L103.5 525.6L116 525.6" fill="none" stroke="#fbb400" stroke-width="1.7" stroke-linejoin="round" stroke-linecap="round" opacity="1" />
<path d="M81 525.6L90 525.6L91 525.5L92.5 524.9L93 525.3L93.5 526.5L94.5 530.5L95 531.4L95.5 531.3L96 531L98 528.1L99 526.9L100 526.2L101 525.8L103.5 525.6L116 525.6" fill="none" stroke="#f38a00" stroke-width="1.7" stroke-linejoin="round" stroke-linecap="round" opacity="1" />
<path d="M81 525.6L90 525.6L91 525.5L92.5 524.9L93 525.3L93.5 526.4L94.5 530.3L95 531.2L95.5 531.1L96 530.6L98 527.5L98.5 526.8L99 526.4L100 525.9L102 525.6L116 525.6" fill="none" stroke="#e23c12" stroke-width="1.7" stroke-linejoin="round" stroke-linecap="round" opacity="1" />
<path d="M81 525.6L90 525.6L91 525.5L92.5 524.9L93 525.2L93.5 526.3L94.5 530.1L95 531L95.5 530.9L96 530.5L98 527.4L98.5 526.8L99 526.3L100 525.8L102 525.6L116 525.6" fill="none" stroke="#a10a12" stroke-width="1.7" stroke-linejoin="round" stroke-linecap="round" opacity="1" />
<path d="M121.2 525.6L127.7 525.6L128.7 525.4L129.2 525.1L129.7 524.4L131.2 520.9L131.7 520.6L132.2 522.8L132.7 529.2L133.7 548L134.2 549.7L134.7 548.5L135.2 545.9L136.7 535L137.7 529L138.2 527L138.7 525.6L139.2 524.8L139.7 524.3L140.2 524.1L141.2 524L146.7 525.1L148.7 525.3L151.7 525.5L156.2 525.6" fill="none" stroke="#fbb400" stroke-width="1.7" stroke-linejoin="round" stroke-linecap="round" opacity="1" />
<path d="M121.2 525.6L127.7 525.6L128.7 525.4L129.2 525.1L129.7 524.4L131.2 520.9L131.7 520.6L132.2 522.7L132.7 529L133.7 547.1L134.2 548.9L134.7 547.6L135.2 545.2L136.7 534.9L137.7 529.2L138.2 527.3L138.7 526.1L139.2 525.3L139.7 524.8L140.2 524.6L141.2 524.5L148.7 525.4L156.2 525.6" fill="none" stroke="#f38a00" stroke-width="1.7" stroke-linejoin="round" stroke-linecap="round" opacity="1" />
<path d="M121.2 525.6L127.7 525.6L128.7 525.4L129.2 525.1L129.7 524.4L131.2 520.9L131.7 520.6L132.2 522.6L132.7 528.8L133.7 546.3L134.2 547.9L134.7 546.4L135.2 543.4L136.2 535.6L137.2 529.4L137.7 527.4L138.2 526.2L138.7 525.4L139.2 525.1L139.7 524.9L140.7 524.9L148.7 525.5L156.2 525.6" fill="none" stroke="#e23c12" stroke-width="1.7" stroke-linejoin="round" stroke-linecap="round" opacity="1" />
<path d="M121.2 525.6L127.7 525.6L128.7 525.4L129.2 525.1L129.7 524.4L131.2 520.9L131.7 520.6L132.2 522.6L132.7 528.6L133.7 545.7L134.2 547.3L134.7 545.8L135.2 542.9L136.2 535.4L137.2 529.4L137.7 527.5L138.2 526.3L138.7 525.6L139.2 525.3L139.7 525.1L140.7 525L148.7 525.5L156.2 525.6" fill="none" stroke="#a10a12" stroke-width="1.7" stroke-linejoin="round" stroke-linecap="round" opacity="1" />
<path d="M161.4 525.6L167.4 525.6L168.4 525.4L168.9 525.1L169.4 524.5L169.9 523.2L170.9 519.3L171.4 517.8L171.9 518.1L172.4 522.9L173.4 544.6L173.9 551.7L174.4 551.6L174.9 549.6L175.4 546.4L176.9 534.5L177.9 528.5L178.4 526.6L178.9 525.4L179.4 524.7L179.9 524.3L180.4 524.1L181.4 524L186.4 525L188.9 525.3L191.9 525.5L196.4 525.6" fill="none" stroke="#fbb400" stroke-width="1.7" stroke-linejoin="round" stroke-linecap="round" opacity="1" />
<path d="M161.4 525.6L167.4 525.6L168.4 525.4L168.9 525.1L169.4 524.5L169.9 523.2L170.9 519.3L171.4 517.8L171.9 518.1L172.4 522.7L173.4 543.8L173.9 550.8L174.4 550.7L174.9 548.8L175.4 545.7L176.9 534.4L177.9 528.8L178.4 527L178.9 525.8L179.4 525.1L179.9 524.7L180.4 524.6L181.4 524.5L188.9 525.4L196.4 525.6" fill="none" stroke="#f38a00" stroke-width="1.7" stroke-linejoin="round" stroke-linecap="round" opacity="1" />
<path d="M161.4 525.6L167.4 525.6L168.4 525.4L168.9 525.1L169.4 524.5L169.9 523.2L170.9 519.3L171.4 517.8L171.9 518.1L172.4 522.6L173.4 543.1L173.9 549.8L174.4 549.6L174.9 547.2L176.4 535L177.4 528.8L177.9 527L178.4 525.9L178.9 525.3L179.4 525L179.9 524.9L180.9 524.9L188.9 525.5L196.4 525.6" fill="none" stroke="#e23c12" stroke-width="1.7" stroke-linejoin="round" stroke-linecap="round" opacity="1" />
<path d="M161.4 525.6L167.4 525.6L168.4 525.4L168.9 525.1L169.4 524.5L169.9 523.2L170.9 519.3L171.4 517.8L171.9 518L172.4 522.5L173.4 542.5L173.9 549.1L174.4 548.9L174.9 546.5L176.4 534.8L177.4 528.9L177.9 527.1L178.4 526.1L178.9 525.5L179.4 525.2L179.9 525.1L180.9 525.1L188.9 525.5L196.4 525.6" fill="none" stroke="#a10a12" stroke-width="1.7" stroke-linejoin="round" stroke-linecap="round" opacity="1" />
<path d="M201.4 525.6L207.4 525.6L208.4 525.3L209.4 524.8L209.9 524.7L210.4 525.3L210.9 527.1L211.4 530.7L212.4 541.8L212.9 544.2L213.4 543.7L213.9 542.4L214.4 540.3L216.4 530.1L216.9 528.1L217.4 526.6L217.9 525.6L218.4 524.9L218.9 524.5L219.4 524.2L220.4 524.1L221.9 524.3L225.9 525.1L227.9 525.4L231.4 525.6L236.4 525.6" fill="none" stroke="#fbb400" stroke-width="1.7" stroke-linejoin="round" stroke-linecap="round" opacity="1" />
<path d="M201.4 525.6L207.4 525.6L208.4 525.3L209.4 524.8L209.9 524.7L210.4 525.3L210.9 527L211.4 530.5L212.4 541.2L212.9 543.5L213.4 543.1L213.9 541.8L214.4 539.9L215.9 532.5L216.9 528.4L217.4 527L217.9 526L218.4 525.3L218.9 524.9L219.9 524.6L220.9 524.6L227.9 525.4L231.4 525.6L236.4 525.6" fill="none" stroke="#f38a00" stroke-width="1.7" stroke-linejoin="round" stroke-linecap="round" opacity="1" />
<path d="M201.4 525.6L207.4 525.6L208.4 525.3L209.4 524.8L209.9 524.7L210.4 525.3L210.9 526.9L211.4 530.3L212.4 540.6L212.9 542.8L213.4 542.3L213.9 540.8L215.9 530.7L216.4 528.7L216.9 527.2L217.4 526.2L217.9 525.6L218.4 525.2L218.9 525L219.9 524.9L227.9 525.5L236.4 525.6" fill="none" stroke="#e23c12" stroke-width="1.7" stroke-linejoin="round" stroke-linecap="round" opacity="1" />
<path d="M201.4 525.6L207.4 525.6L208.4 525.3L209.4 524.8L209.9 524.7L210.4 525.2L210.9 526.8L211.4 530.2L212.4 540.2L212.9 542.3L213.4 541.8L213.9 540.3L215.9 530.7L216.4 528.8L216.9 527.3L217.4 526.4L217.9 525.7L218.4 525.4L218.9 525.2L219.9 525.1L227.9 525.5L236.4 525.6" fill="none" stroke="#a10a12" stroke-width="1.7" stroke-linejoin="round" stroke-linecap="round" opacity="1" />
<path d="M81 566L91 566L92 565.7L93.5 564.4L94 564.6L94.5 565.7L95.5 569.8L96 570.8L96.5 570.9L97 570.6L97.5 570.1L99 568.2L100 567.1L100.5 566.7L101.5 566.3L102.5 566.1L104 566L116 566" fill="none" stroke="#fbb400" stroke-width="1.7" stroke-linejoin="round" stroke-linecap="round" opacity="1" />
<path d="M81 566L91 566L92 565.7L93.5 564.4L94 564.6L94.5 565.7L95.5 569.6L96 570.6L96.5 570.7L97 570.4L97.5 569.9L99 568.1L100 567.1L100.5 566.7L101.5 566.3L102.5 566.1L104 566L116 566" fill="none" stroke="#f38a00" stroke-width="1.7" stroke-linejoin="round" stroke-linecap="round" opacity="1" />
<path d="M81 566L91 566L92 565.7L93.5 564.4L94 564.5L94.5 565.6L95.5 569.5L96 570.4L96.5 570.5L97 570.1L99 567.5L99.5 567L100 566.6L101 566.2L103 566L116 566" fill="none" stroke="#e23c12" stroke-width="1.7" stroke-linejoin="round" stroke-linecap="round" opacity="1" />
<path d="M81 566L91 566L92 565.7L93.5 564.4L94 564.5L94.5 565.6L95.5 569.3L96 570.3L96.5 570.3L97 570L99.5 567L100 566.6L101 566.2L103 566L116 566" fill="none" stroke="#a10a12" stroke-width="1.7" stroke-linejoin="round" stroke-linecap="round" opacity="1" />
<path d="M121.2 566L127.7 566L128.7 565.8L129.2 565.5L129.7 564.9L131.2 561.4L131.7 560.8L132.2 561.4L133.2 566.2L133.7 570.2L134.7 581.8L135.2 582.9L135.7 581.9L136.2 580.1L137.7 572.3L138.7 567.9L139.2 566.5L139.7 565.5L140.2 564.9L140.7 564.6L141.2 564.4L142.2 564.4L147.7 565.5L149.7 565.7L152.2 565.9L156.2 566" fill="none" stroke="#fbb400" stroke-width="1.7" stroke-linejoin="round" stroke-linecap="round" opacity="1" />
<path d="M121.2 566L127.7 566L128.7 565.8L129.2 565.5L129.7 564.9L131.2 561.4L131.7 560.8L132.2 561.4L133.2 566.2L133.7 570.1L134.7 581.3L135.2 582.3L135.7 581.4L136.2 579.7L137.7 572.3L138.7 568.2L139.2 566.9L139.7 565.9L140.2 565.4L141.2 564.9L142.2 564.9L149.7 565.8L156.2 566" fill="none" stroke="#f38a00" stroke-width="1.7" stroke-linejoin="round" stroke-linecap="round" opacity="1" />
<path d="M121.2 566L127.7 566L128.7 565.8L129.2 565.5L129.7 564.9L131.2 561.4L131.7 560.8L132.2 561.4L133.2 566.1L133.7 569.9L134.7 580.7L135.2 581.7L135.7 580.5L136.2 578.4L137.7 570.5L138.2 568.5L138.7 567.1L139.2 566.2L139.7 565.7L140.7 565.3L141.7 565.3L149.2 565.9L156.2 566" fill="none" stroke="#e23c12" stroke-width="1.7" stroke-linejoin="round" stroke-linecap="round" opacity="1" />
<path d="M121.2 566L127.7 566L128.7 565.8L129.2 565.5L129.7 564.9L131.2 561.4L131.7 560.8L132.2 561.4L133.2 566.1L133.7 569.8L134.7 580.3L135.2 581.2L135.7 580.1L136.2 578L137.2 572.8L138.2 568.5L138.7 567.2L139.2 566.3L139.7 565.8L140.7 565.5L141.7 565.4L149.2 565.9L156.2 566" fill="none" stroke="#a10a12" stroke-width="1.7" stroke-linejoin="round" stroke-linecap="round" opacity="1" />
<path d="M201.4 566L209.4 566L210.4 566.2L210.9 566.6L211.4 567.5L212.4 569.7L212.9 570.1L213.4 570L214.4 569.5L217.4 567L218.4 566.5L219.4 566.2L222.4 566L236.4 566" fill="none" stroke="#fbb400" stroke-width="1.7" stroke-linejoin="round" stroke-linecap="round" opacity="1" />
<path d="M201.4 566L209.4 566L210.4 566.2L210.9 566.6L211.4 567.4L212.4 569.5L212.9 570L213.4 569.9L214.4 569.4L217.4 567L218.4 566.5L219.4 566.2L222.4 566L236.4 566" fill="none" stroke="#f38a00" stroke-width="1.7" stroke-linejoin="round" stroke-linecap="round" opacity="1" />
<path d="M201.4 566L209.4 566L210.4 566.2L210.9 566.6L211.4 567.3L212.4 569.4L212.9 569.8L213.4 569.7L213.9 569.5L216.9 566.9L217.9 566.4L218.9 566.2L221.4 566L236.4 566" fill="none" stroke="#e23c12" stroke-width="1.7" stroke-linejoin="round" stroke-linecap="round" opacity="1" />
<path d="M201.4 566L209.4 566L210.4 566.2L210.9 566.6L211.4 567.3L212.4 569.3L212.9 569.7L213.4 569.6L213.9 569.4L216.9 566.9L217.9 566.4L218.9 566.2L221.4 566L236.4 566" fill="none" stroke="#a10a12" stroke-width="1.7" stroke-linejoin="round" stroke-linecap="round" opacity="1" />
<rect x="175" y="516.6" width="10" height="19.6" rx="3" fill="none" stroke="#111" stroke-width="1.7" stroke-dasharray="1.5 1.6"/>
<rect x="168" y="540.4" width="12.8" height="10.8" rx="3" fill="none" stroke="#aaa" stroke-width="1.6" stroke-dasharray="1.5 1.6"/>
<text x="44.2" y="478.6" font-size="11.2" text-anchor="start" fill="#111"  style="">Day</text>
<rect x="57.9" y="484.8" width="7" height="6" fill="#fbb400"/>
<text x="48.7" y="490" font-size="6.5" text-anchor="middle" fill="#111"  style="">1</text>
<rect x="57.9" y="492.95" width="7" height="6" fill="#f38a00"/>
<text x="48.7" y="498.15" font-size="6.5" text-anchor="middle" fill="#111"  style="">2</text>
<rect x="57.9" y="501.1" width="7" height="6" fill="#e23c12"/>
<text x="48.7" y="506.3" font-size="6.5" text-anchor="middle" fill="#111"  style="">3</text>
<rect x="57.9" y="509.25" width="7" height="6" fill="#a10a12"/>
<text x="48.7" y="514.45" font-size="6.5" text-anchor="middle" fill="#111"  style="">4</text>
<line x1="55.2" y1="566" x2="55.2" y2="588" stroke="#111" stroke-width="1.9" />
<line x1="54.3" y1="587.2" x2="66.7" y2="587.2" stroke="#111" stroke-width="1.8" />
<text x="52" y="580" font-size="11.6" text-anchor="end" fill="#111"  style="">100 μV</text>
<text x="68.5" y="600.3" font-size="11.3" text-anchor="middle" fill="#111"  style="">0.5 ms</text>
<rect x="130.9" y="605.6" width="37.9" height="28.7" rx="0" fill="none" stroke="#aaa" stroke-width="1.8" stroke-dasharray="1.8 2"/>
<rect x="180" y="591" width="38.6" height="56.8" rx="0" fill="none" stroke="#111" stroke-width="1.9" stroke-dasharray="1.9 2"/>
<path d="M136.5 608L144.1 632.8L155.6 629L165.2 607.7" fill="none" stroke="#fbb400" stroke-width="1.3" stroke-linejoin="round" stroke-linecap="round" opacity="1" />
<path d="M136.5 608L144.1 632.2L155.6 628.2L165.2 607.7" fill="none" stroke="#f38a00" stroke-width="1.3" stroke-linejoin="round" stroke-linecap="round" opacity="1" />
<path d="M136.5 608L144.1 630L155.6 626.5L165.2 607.7" fill="none" stroke="#e23c12" stroke-width="1.3" stroke-linejoin="round" stroke-linecap="round" opacity="1" />
<path d="M136.5 608L144.1 628.4L155.6 625.2L165.2 607.7" fill="none" stroke="#a10a12" stroke-width="1.3" stroke-linejoin="round" stroke-linecap="round" opacity="1" />
<path d="M183.5 647L185 638L186 633L187.4 627.1L188.4 623.6L189.6 620.5L190.9 617.6L192.3 615.1L194.5 612L196.1 610.4L197 609.7L199.1 608.3L201.4 607.1L202.6 606.6L203.8 606.2L205 606L206.2 606L207.4 606.2L212 607.5L218 609" fill="none" stroke="#fbb400" stroke-width="1.3" stroke-linejoin="round" stroke-linecap="round" opacity="1" />
<path d="M183.3 647L184.8 638.6L185.8 634L186.8 630.4L187.8 627.1L189.6 622.5L191.6 618.4L193 616L195.3 612.9L197 611.2L199.1 609.8L201.4 608.6L202.6 608.1L205 607.5L207.4 607.4L209.7 607.6L213.1 608.2L218 609.5" fill="none" stroke="#f38a00" stroke-width="1.3" stroke-linejoin="round" stroke-linecap="round" opacity="1" />
<path d="M183 647.5L184.5 640.1L185.5 636L186.6 632.5L187.8 629.1L189.6 624.6L191.6 620.8L193 618.5L195.3 615.5L197 613.7L199.1 612.3L201.4 611.2L205 610L207.4 609.6L210.9 609.5L214.3 609.6L218 610" fill="none" stroke="#e23c12" stroke-width="1.3" stroke-linejoin="round" stroke-linecap="round" opacity="1" />
<path d="M182.8 647.5L184.3 640.8L185.3 637L186.9 632.1L188.2 629L190.1 624.8L191.5 622.3L193.8 618.9L196.2 616.1L198 614.5L200.2 613.1L202.6 611.9L205 611L207.4 610.4L209.7 610.2L213.1 609.9L218 610" fill="none" stroke="#a10a12" stroke-width="1.3" stroke-linejoin="round" stroke-linecap="round" opacity="1" />
<rect x="258.7" y="421.3" width="18.3" height="17.2" fill="none" stroke="#222" stroke-width="1.1"/>
<text x="267.85" y="434.5" font-size="16" text-anchor="middle" fill="#111"  style="">e</text>
<text x="288.6" y="440.5" font-size="11.5" text-anchor="start" fill="#111"  style="">Day</text>
<text x="316.2" y="440.5" font-size="11.5" text-anchor="middle" fill="#111"  style="">1</text>
<text x="377.9" y="440.5" font-size="11.5" text-anchor="middle" fill="#111"  style="">2</text>
<text x="438.6" y="440.5" font-size="11.5" text-anchor="middle" fill="#111"  style="">3</text>
<text x="501.8" y="440.5" font-size="11.5" text-anchor="middle" fill="#111"  style="">4</text>
<path d="M300.4 459.6L307.9 459.6L308.9 459.5L309.4 459.3L309.9 459L310.4 458.4L310.9 457.6L312.4 454.2L312.9 453.7L313.4 454.6L313.9 458.5L314.4 464.6L315.4 480.6L315.9 486.4L316.4 486.8L316.9 484.7L317.4 481L318.4 471.7L319.4 464.1L319.9 461.5L320.4 459.7L320.9 458.5L321.4 457.7L321.8 457.1L322.8 456.6L324.3 456.6L326.3 457L330.8 458.6L333.3 459.2L336.8 459.5L342.8 459.6" fill="none" stroke="#fbb400" stroke-width="1.8" stroke-linejoin="round" stroke-linecap="round" opacity="1" />
<path d="M300.4 516.6L310.4 516.6L311.4 516.2L312.9 515L313.4 515.2L313.9 516.1L315.9 520.5L316.4 520.6L316.9 520.4L317.4 520L319.9 517.3L320.9 516.6L321.8 516.2L323.8 516.2L331.8 516.6L342.8 516.6" fill="none" stroke="#fbb400" stroke-width="1.6" stroke-linejoin="round" stroke-linecap="round" opacity="1" />
<path d="M362.4 459.6L369.4 459.6L370.4 459.5L370.9 459.3L371.4 459L371.9 458.4L372.4 457.5L373.9 454.1L374.4 453.6L374.9 454.4L375.4 457.6L375.9 462L376.4 467.8L377.4 483.9L377.9 488.1L378.4 487.2L378.9 484.3L380.4 470.2L381.4 462.6L381.9 460.1L382.4 458.4L382.9 457.2L383.4 456.3L384 455.8L384.5 455.4L385 455.3L386 455.4L387 455.6L388.5 456.2L392.5 458.2L394 458.7L395.5 459.1L399 459.5L404.5 459.6" fill="none" stroke="#f38a00" stroke-width="1.8" stroke-linejoin="round" stroke-linecap="round" opacity="1" />
<path d="M362.4 516.6L371.9 516.6L372.9 516.2L373.9 515.3L374.4 515L374.9 515.2L376.4 517.5L377.4 519.9L377.9 520.6L378.4 520.5L378.9 520.2L381.9 517.1L382.9 516.5L384 516.2L386 516.2L393.5 516.6L404.5 516.6" fill="none" stroke="#f38a00" stroke-width="1.6" stroke-linejoin="round" stroke-linecap="round" opacity="1" />
<path d="M424.3 459.6L431.3 459.6L432.3 459.5L432.8 459.3L433.3 458.9L433.8 458.3L435.9 454.2L436.4 454L436.9 455.7L437.4 461L438.9 484.3L439.4 486.7L439.9 485.3L440.4 482.1L441.9 468.7L442.9 462.2L443.4 460.2L443.9 458.9L444.4 458.1L444.9 457.5L445.4 457.3L445.9 457.1L447.4 457.2L449.4 457.6L453.9 458.9L457 459.4L460 459.5L466 459.6" fill="none" stroke="#e23c12" stroke-width="1.8" stroke-linejoin="round" stroke-linecap="round" opacity="1" />
<path d="M424.3 516.6L433.8 516.6L434.9 516.2L435.9 515.3L436.4 515L436.9 515.4L438.9 520.2L439.4 520.6L439.9 520.5L440.4 520.1L442.4 517.9L443.4 517L444.4 516.4L445.4 516.2L447.4 516.2L454.4 516.6L466 516.6" fill="none" stroke="#e23c12" stroke-width="1.6" stroke-linejoin="round" stroke-linecap="round" opacity="1" />
<path d="M485.7 459.6L494.2 459.6L495.2 459.5L495.7 459.3L496.2 459L496.8 458.4L497.3 457.5L498.8 453.9L499.3 453.3L499.8 454L500.3 457.8L501.8 475.5L502.3 479.8L502.8 480.1L503.3 478.4L503.8 475.5L504.8 468.4L505.8 462.6L506.3 460.7L506.8 459.4L507.3 458.6L507.8 458.1L508.3 457.8L508.8 457.7L509.8 457.6L511.8 457.9L516.3 458.9L518.9 459.3L522.4 459.5L527.9 459.6" fill="none" stroke="#a10a12" stroke-width="1.8" stroke-linejoin="round" stroke-linecap="round" opacity="1" />
<path d="M485.7 516.6L496.8 516.6L497.8 516.2L499.3 515.1L499.8 515.2L500.3 516.1L502.3 520.5L502.8 520.6L503.3 520.3L503.8 519.9L506.3 517.2L507.3 516.6L508.3 516.2L510.3 516.2L517.9 516.6L527.9 516.6" fill="none" stroke="#a10a12" stroke-width="1.6" stroke-linejoin="round" stroke-linecap="round" opacity="1" />
<line x1="271.5" y1="460.4" x2="271.5" y2="484.4" stroke="#111" stroke-width="1.8" />
<line x1="270.6" y1="483.6" x2="286" y2="483.6" stroke="#111" stroke-width="1.8" />
<text x="268.5" y="478.3" font-size="11.6" text-anchor="end" fill="#111"  style="">100 μV</text>
<text x="284.2" y="498.3" font-size="11.3" text-anchor="middle" fill="#111"  style="">0.5 ms</text>
<line x1="298.4" y1="547.5" x2="298.4" y2="589.2" stroke="#555" stroke-width="1.2" />
<line x1="297.8" y1="589.2" x2="528.6" y2="589.2" stroke="#888" stroke-width="1.5" />
<line x1="295.4" y1="553" x2="298.4" y2="553" stroke="#555" stroke-width="1" />
<text x="292.9" y="557" font-size="11.5" text-anchor="end" fill="#111"  style="">4</text>
<line x1="295.4" y1="570.8" x2="298.4" y2="570.8" stroke="#555" stroke-width="1" />
<text x="292.9" y="574.8" font-size="11.5" text-anchor="end" fill="#111"  style="">2</text>
<text x="0" y="0" font-size="13" text-anchor="middle" fill="#111" transform="translate(280.3,565.2) rotate(-90)">Firing Rate (Hz)</text>
<line x1="299" y1="596" x2="327.5" y2="596" stroke="#111" stroke-width="1.8" />
<text x="299" y="607.9" font-size="11.6" text-anchor="start" fill="#111"  style="">5 min</text>
<circle cx="337.1" cy="577.8" r="1.15" fill="#fbb400"/>
<circle cx="312.9" cy="580.8" r="1.15" fill="#fbb400"/>
<circle cx="342.7" cy="585.5" r="1.15" fill="#fbb400"/>
<circle cx="305" cy="586.3" r="1.15" fill="#fbb400"/>
<circle cx="324.5" cy="578.3" r="1.15" fill="#fbb400"/>
<circle cx="329.3" cy="580.7" r="1.15" fill="#fbb400"/>
<circle cx="301.5" cy="579.3" r="1.15" fill="#fbb400"/>
<circle cx="331.6" cy="575.2" r="1.15" fill="#fbb400"/>
<circle cx="312.8" cy="587.8" r="1.15" fill="#fbb400"/>
<circle cx="300.4" cy="585.6" r="1.15" fill="#fbb400"/>
<circle cx="346.7" cy="582.6" r="1.15" fill="#fbb400"/>
<circle cx="309" cy="585.2" r="1.15" fill="#fbb400"/>
<circle cx="355.5" cy="582.3" r="1.15" fill="#fbb400"/>
<circle cx="305.6" cy="579.6" r="1.15" fill="#fbb400"/>
<circle cx="349.2" cy="587.7" r="1.15" fill="#fbb400"/>
<circle cx="342.3" cy="586.2" r="1.15" fill="#fbb400"/>
<circle cx="331.1" cy="577" r="1.15" fill="#fbb400"/>
<circle cx="332" cy="582.1" r="1.15" fill="#fbb400"/>
<circle cx="348.1" cy="587.8" r="1.15" fill="#fbb400"/>
<circle cx="333.5" cy="587.3" r="1.15" fill="#fbb400"/>
<circle cx="340.9" cy="578.3" r="1.15" fill="#fbb400"/>
<circle cx="316.8" cy="580.4" r="1.15" fill="#fbb400"/>
<circle cx="304.6" cy="581.1" r="1.15" fill="#fbb400"/>
<circle cx="316.1" cy="579.3" r="1.15" fill="#fbb400"/>
<circle cx="336.9" cy="584.2" r="1.15" fill="#fbb400"/>
<circle cx="312.2" cy="578.1" r="1.15" fill="#fbb400"/>
<circle cx="315.5" cy="575.4" r="1.15" fill="#fbb400"/>
<circle cx="335.3" cy="583.8" r="1.15" fill="#fbb400"/>
<circle cx="309.9" cy="581.7" r="1.15" fill="#fbb400"/>
<circle cx="322" cy="584" r="1.15" fill="#fbb400"/>
<circle cx="357.4" cy="584.9" r="1.15" fill="#fbb400"/>
<circle cx="339.7" cy="585.7" r="1.15" fill="#fbb400"/>
<circle cx="348.9" cy="580.8" r="1.15" fill="#fbb400"/>
<circle cx="301.9" cy="584.5" r="1.15" fill="#fbb400"/>
<circle cx="318.3" cy="581.7" r="1.15" fill="#fbb400"/>
<circle cx="354.7" cy="578.3" r="1.15" fill="#fbb400"/>
<circle cx="350.8" cy="583.9" r="1.15" fill="#fbb400"/>
<circle cx="322.9" cy="575.4" r="1.15" fill="#fbb400"/>
<circle cx="353" cy="584.7" r="1.15" fill="#fbb400"/>
<circle cx="314.3" cy="580.4" r="1.15" fill="#fbb400"/>
<circle cx="332.6" cy="581.8" r="1.15" fill="#fbb400"/>
<circle cx="352.1" cy="575.4" r="1.15" fill="#fbb400"/>
<circle cx="323.2" cy="578.4" r="1.15" fill="#fbb400"/>
<circle cx="329.6" cy="567.5" r="1.15" fill="#fbb400"/>
<circle cx="305.3" cy="579.3" r="1.15" fill="#fbb400"/>
<circle cx="336.4" cy="580.7" r="1.15" fill="#fbb400"/>
<circle cx="345.9" cy="582.7" r="1.15" fill="#fbb400"/>
<circle cx="322.1" cy="580.6" r="1.15" fill="#fbb400"/>
<circle cx="357.8" cy="583" r="1.15" fill="#fbb400"/>
<circle cx="349.9" cy="583.5" r="1.15" fill="#fbb400"/>
<circle cx="300.7" cy="582.6" r="1.15" fill="#fbb400"/>
<circle cx="331.1" cy="587.9" r="1.15" fill="#fbb400"/>
<circle cx="315.5" cy="582.7" r="1.15" fill="#fbb400"/>
<circle cx="325.2" cy="583" r="1.15" fill="#fbb400"/>
<circle cx="326.3" cy="572.6" r="1.15" fill="#fbb400"/>
<circle cx="315.3" cy="583.9" r="1.15" fill="#fbb400"/>
<circle cx="329" cy="577.1" r="1.15" fill="#fbb400"/>
<circle cx="350.5" cy="572.5" r="1.15" fill="#fbb400"/>
<circle cx="317.3" cy="585.2" r="1.15" fill="#fbb400"/>
<circle cx="308.9" cy="586" r="1.15" fill="#fbb400"/>
<circle cx="344.2" cy="587.2" r="1.15" fill="#fbb400"/>
<circle cx="330.8" cy="583.2" r="1.15" fill="#fbb400"/>
<circle cx="356" cy="581.3" r="1.15" fill="#f38a00"/>
<circle cx="408" cy="580.1" r="1.15" fill="#f38a00"/>
<circle cx="405.2" cy="579" r="1.15" fill="#f38a00"/>
<circle cx="359.2" cy="584.2" r="1.15" fill="#f38a00"/>
<circle cx="405.2" cy="579.1" r="1.15" fill="#f38a00"/>
<circle cx="383.2" cy="581.5" r="1.15" fill="#f38a00"/>
<circle cx="359.9" cy="580.4" r="1.15" fill="#f38a00"/>
<circle cx="363.2" cy="587.6" r="1.15" fill="#f38a00"/>
<circle cx="382.6" cy="584.2" r="1.15" fill="#f38a00"/>
<circle cx="404.9" cy="582" r="1.15" fill="#f38a00"/>
<circle cx="379.7" cy="579.6" r="1.15" fill="#f38a00"/>
<circle cx="396.9" cy="575.5" r="1.15" fill="#f38a00"/>
<circle cx="367.3" cy="586.4" r="1.15" fill="#f38a00"/>
<circle cx="392.4" cy="567.4" r="1.15" fill="#f38a00"/>
<circle cx="380.5" cy="583.1" r="1.15" fill="#f38a00"/>
<circle cx="368.6" cy="581.1" r="1.15" fill="#f38a00"/>
<circle cx="374.9" cy="583.6" r="1.15" fill="#f38a00"/>
<circle cx="368.3" cy="582.6" r="1.15" fill="#f38a00"/>
<circle cx="360" cy="583.1" r="1.15" fill="#f38a00"/>
<circle cx="406.7" cy="583.2" r="1.15" fill="#f38a00"/>
<circle cx="404.1" cy="577.9" r="1.15" fill="#f38a00"/>
<circle cx="393.5" cy="579.5" r="1.15" fill="#f38a00"/>
<circle cx="368" cy="573.9" r="1.15" fill="#f38a00"/>
<circle cx="388" cy="573.2" r="1.15" fill="#f38a00"/>
<circle cx="382.5" cy="579.1" r="1.15" fill="#f38a00"/>
<circle cx="366.7" cy="587.2" r="1.15" fill="#f38a00"/>
<circle cx="361.4" cy="585.1" r="1.15" fill="#f38a00"/>
<circle cx="382.2" cy="578.9" r="1.15" fill="#f38a00"/>
<circle cx="396.8" cy="586.8" r="1.15" fill="#f38a00"/>
<circle cx="361.5" cy="583.8" r="1.15" fill="#f38a00"/>
<circle cx="378.5" cy="585.6" r="1.15" fill="#f38a00"/>
<circle cx="369.9" cy="573.4" r="1.15" fill="#f38a00"/>
<circle cx="366.7" cy="585.3" r="1.15" fill="#f38a00"/>
<circle cx="371.6" cy="579.4" r="1.15" fill="#f38a00"/>
<circle cx="370" cy="576.6" r="1.15" fill="#f38a00"/>
<circle cx="404.2" cy="583.1" r="1.15" fill="#f38a00"/>
<circle cx="386.8" cy="566.6" r="1.15" fill="#f38a00"/>
<circle cx="402.8" cy="575.6" r="1.15" fill="#f38a00"/>
<circle cx="410.3" cy="573.1" r="1.15" fill="#f38a00"/>
<circle cx="365.3" cy="584.7" r="1.15" fill="#f38a00"/>
<circle cx="383.2" cy="579.9" r="1.15" fill="#f38a00"/>
<circle cx="359.3" cy="576.5" r="1.15" fill="#f38a00"/>
<circle cx="377.2" cy="577.4" r="1.15" fill="#f38a00"/>
<circle cx="399.9" cy="581.2" r="1.15" fill="#f38a00"/>
<circle cx="381.5" cy="585.2" r="1.15" fill="#f38a00"/>
<circle cx="411.7" cy="575.7" r="1.15" fill="#f38a00"/>
<circle cx="387.1" cy="581.4" r="1.15" fill="#f38a00"/>
<circle cx="372.6" cy="583.4" r="1.15" fill="#f38a00"/>
<circle cx="410.2" cy="585.8" r="1.15" fill="#f38a00"/>
<circle cx="397.9" cy="583.5" r="1.15" fill="#f38a00"/>
<circle cx="359.2" cy="585.4" r="1.15" fill="#f38a00"/>
<circle cx="403.8" cy="583.5" r="1.15" fill="#f38a00"/>
<circle cx="364.8" cy="579.1" r="1.15" fill="#f38a00"/>
<circle cx="366.4" cy="581.3" r="1.15" fill="#f38a00"/>
<circle cx="389.3" cy="582.4" r="1.15" fill="#f38a00"/>
<circle cx="417.2" cy="583.7" r="1.15" fill="#e23c12"/>
<circle cx="463.4" cy="578.9" r="1.15" fill="#e23c12"/>
<circle cx="447.2" cy="569.5" r="1.15" fill="#e23c12"/>
<circle cx="435.2" cy="586.6" r="1.15" fill="#e23c12"/>
<circle cx="466.1" cy="583.4" r="1.15" fill="#e23c12"/>
<circle cx="422.3" cy="580.2" r="1.15" fill="#e23c12"/>
<circle cx="433.7" cy="584.2" r="1.15" fill="#e23c12"/>
<circle cx="450.3" cy="581" r="1.15" fill="#e23c12"/>
<circle cx="455.1" cy="573.2" r="1.15" fill="#e23c12"/>
<circle cx="414.4" cy="572.2" r="1.15" fill="#e23c12"/>
<circle cx="469.8" cy="572.5" r="1.15" fill="#e23c12"/>
<circle cx="414.4" cy="577.8" r="1.15" fill="#e23c12"/>
<circle cx="466" cy="573.7" r="1.15" fill="#e23c12"/>
<circle cx="462.9" cy="574.1" r="1.15" fill="#e23c12"/>
<circle cx="419.5" cy="583.8" r="1.15" fill="#e23c12"/>
<circle cx="460" cy="581.9" r="1.15" fill="#e23c12"/>
<circle cx="469.2" cy="587.5" r="1.15" fill="#e23c12"/>
<circle cx="449.2" cy="566" r="1.15" fill="#e23c12"/>
<circle cx="428" cy="578.5" r="1.15" fill="#e23c12"/>
<circle cx="449.8" cy="575.6" r="1.15" fill="#e23c12"/>
<circle cx="416.9" cy="580.5" r="1.15" fill="#e23c12"/>
<circle cx="416.4" cy="584.5" r="1.15" fill="#e23c12"/>
<circle cx="446.3" cy="581" r="1.15" fill="#e23c12"/>
<circle cx="453.1" cy="576.2" r="1.15" fill="#e23c12"/>
<circle cx="425.8" cy="569.4" r="1.15" fill="#e23c12"/>
<circle cx="439.3" cy="567.7" r="1.15" fill="#e23c12"/>
<circle cx="415.5" cy="586.8" r="1.15" fill="#e23c12"/>
<circle cx="435.4" cy="579.2" r="1.15" fill="#e23c12"/>
<circle cx="456.3" cy="578.5" r="1.15" fill="#e23c12"/>
<circle cx="448.2" cy="580" r="1.15" fill="#e23c12"/>
<circle cx="443.1" cy="567.4" r="1.15" fill="#e23c12"/>
<circle cx="435.7" cy="576.3" r="1.15" fill="#e23c12"/>
<circle cx="463" cy="578.9" r="1.15" fill="#e23c12"/>
<circle cx="464.2" cy="583.9" r="1.15" fill="#e23c12"/>
<circle cx="445" cy="582.9" r="1.15" fill="#e23c12"/>
<circle cx="418.9" cy="574.8" r="1.15" fill="#e23c12"/>
<circle cx="463.9" cy="574.7" r="1.15" fill="#e23c12"/>
<circle cx="457.8" cy="569.3" r="1.15" fill="#e23c12"/>
<circle cx="422.6" cy="585.2" r="1.15" fill="#e23c12"/>
<circle cx="425" cy="569.2" r="1.15" fill="#e23c12"/>
<circle cx="463" cy="571.6" r="1.15" fill="#e23c12"/>
<circle cx="434.4" cy="582.1" r="1.15" fill="#e23c12"/>
<circle cx="465.8" cy="581.9" r="1.15" fill="#e23c12"/>
<circle cx="461.9" cy="566.3" r="1.15" fill="#e23c12"/>
<circle cx="462.9" cy="581" r="1.15" fill="#e23c12"/>
<circle cx="411.5" cy="579.6" r="1.15" fill="#e23c12"/>
<circle cx="465.8" cy="585.5" r="1.15" fill="#e23c12"/>
<circle cx="458.1" cy="570.6" r="1.15" fill="#e23c12"/>
<circle cx="426" cy="587.1" r="1.15" fill="#e23c12"/>
<circle cx="457.2" cy="567.9" r="1.15" fill="#e23c12"/>
<circle cx="519.5" cy="567.7" r="1.15" fill="#a10a12"/>
<circle cx="481.3" cy="572.5" r="1.15" fill="#a10a12"/>
<circle cx="486.3" cy="581" r="1.15" fill="#a10a12"/>
<circle cx="515.7" cy="574.9" r="1.15" fill="#a10a12"/>
<circle cx="479.6" cy="573.8" r="1.15" fill="#a10a12"/>
<circle cx="487.7" cy="565.2" r="1.15" fill="#a10a12"/>
<circle cx="484.7" cy="586.5" r="1.15" fill="#a10a12"/>
<circle cx="506.5" cy="587.7" r="1.15" fill="#a10a12"/>
<circle cx="500.2" cy="565.5" r="1.15" fill="#a10a12"/>
<circle cx="524.4" cy="563.6" r="1.15" fill="#a10a12"/>
<circle cx="478.7" cy="564.9" r="1.15" fill="#a10a12"/>
<circle cx="525.8" cy="575.4" r="1.15" fill="#a10a12"/>
<circle cx="494.1" cy="572.3" r="1.15" fill="#a10a12"/>
<circle cx="511.7" cy="578.2" r="1.15" fill="#a10a12"/>
<circle cx="498.7" cy="567.8" r="1.15" fill="#a10a12"/>
<circle cx="491.1" cy="579" r="1.15" fill="#a10a12"/>
<circle cx="510.5" cy="577.1" r="1.15" fill="#a10a12"/>
<circle cx="468.1" cy="568.7" r="1.15" fill="#a10a12"/>
<circle cx="511.2" cy="578.3" r="1.15" fill="#a10a12"/>
<circle cx="512.5" cy="577.7" r="1.15" fill="#a10a12"/>
<circle cx="472.2" cy="579.9" r="1.15" fill="#a10a12"/>
<circle cx="507.9" cy="577.5" r="1.15" fill="#a10a12"/>
<circle cx="518.9" cy="570.7" r="1.15" fill="#a10a12"/>
<circle cx="511.2" cy="576.6" r="1.15" fill="#a10a12"/>
<circle cx="492.5" cy="570.4" r="1.15" fill="#a10a12"/>
<circle cx="492.1" cy="575.9" r="1.15" fill="#a10a12"/>
<circle cx="493.2" cy="572.2" r="1.15" fill="#a10a12"/>
<circle cx="524.4" cy="580.6" r="1.15" fill="#a10a12"/>
<circle cx="504.9" cy="586.3" r="1.15" fill="#a10a12"/>
<circle cx="486.1" cy="575.3" r="1.15" fill="#a10a12"/>
<circle cx="485.2" cy="575.1" r="1.15" fill="#a10a12"/>
<circle cx="493.8" cy="582.5" r="1.15" fill="#a10a12"/>
<circle cx="495.9" cy="579.2" r="1.15" fill="#a10a12"/>
<circle cx="494.5" cy="573.6" r="1.15" fill="#a10a12"/>
<circle cx="522.1" cy="568.7" r="1.15" fill="#a10a12"/>
<circle cx="515.8" cy="573.9" r="1.15" fill="#a10a12"/>
<circle cx="498.9" cy="573" r="1.15" fill="#a10a12"/>
<circle cx="506" cy="580.5" r="1.15" fill="#a10a12"/>
<circle cx="513.1" cy="565.9" r="1.15" fill="#a10a12"/>
<circle cx="508.4" cy="574.5" r="1.15" fill="#a10a12"/>
<circle cx="469.5" cy="571.3" r="1.15" fill="#a10a12"/>
<circle cx="482.7" cy="586.2" r="1.15" fill="#a10a12"/>
<circle cx="472.4" cy="573.3" r="1.15" fill="#a10a12"/>
<circle cx="492.9" cy="577.7" r="1.15" fill="#a10a12"/>
<circle cx="509.8" cy="577.9" r="1.15" fill="#a10a12"/>
<circle cx="497.7" cy="574.8" r="1.15" fill="#a10a12"/>
<circle cx="468.3" cy="566.6" r="1.15" fill="#a10a12"/>
<circle cx="513.1" cy="574.7" r="1.15" fill="#a10a12"/>
<circle cx="493.5" cy="577.8" r="1.15" fill="#a10a12"/>
<circle cx="478.6" cy="568.3" r="1.15" fill="#a10a12"/>
<circle cx="425" cy="547.7" r="1.15" fill="#e23c12"/>
<circle cx="434.5" cy="555" r="1.15" fill="#e23c12"/>
<circle cx="462.4" cy="548.7" r="1.15" fill="#e23c12"/>
<circle cx="476.6" cy="553.3" r="1.15" fill="#a10a12"/>
<circle cx="483.2" cy="556.8" r="1.15" fill="#a10a12"/>
<circle cx="356" cy="569.5" r="1.15" fill="#fbb400"/>
<circle cx="372" cy="573" r="1.15" fill="#f38a00"/>
<circle cx="441" cy="566" r="1.15" fill="#e23c12"/>
<circle cx="452" cy="567" r="1.15" fill="#e23c12"/>
<circle cx="445" cy="572" r="1.15" fill="#e23c12"/>
<rect x="541.9" y="420.6" width="18.4" height="17.6" fill="none" stroke="#222" stroke-width="1.1"/>
<text x="551.1" y="434.2" font-size="16" text-anchor="middle" fill="#111"  style="">f</text>
<line x1="592.6" y1="440.6" x2="592.6" y2="590" stroke="#111" stroke-width="1.3" />
<line x1="592" y1="589.4" x2="741.8" y2="589.4" stroke="#111" stroke-width="1.3" />
<line x1="589.1" y1="589.4" x2="592.6" y2="589.4" stroke="#111" stroke-width="1.1" />
<text x="586.6" y="593.4" font-size="11.5" text-anchor="end" fill="#111"  style="">0</text>
<line x1="589.1" y1="552.2" x2="592.6" y2="552.2" stroke="#111" stroke-width="1.1" />
<text x="586.6" y="556.2" font-size="11.5" text-anchor="end" fill="#111"  style="">50</text>
<line x1="589.1" y1="515" x2="592.6" y2="515" stroke="#111" stroke-width="1.1" />
<text x="586.6" y="519" font-size="11.5" text-anchor="end" fill="#111"  style="">100</text>
<line x1="589.1" y1="477.8" x2="592.6" y2="477.8" stroke="#111" stroke-width="1.1" />
<text x="586.6" y="481.8" font-size="11.5" text-anchor="end" fill="#111"  style="">150</text>
<line x1="589.1" y1="440.6" x2="592.6" y2="440.6" stroke="#111" stroke-width="1.1" />
<text x="586.6" y="444.6" font-size="11.5" text-anchor="end" fill="#111"  style="">200</text>
<line x1="630.5" y1="517.98" x2="630.5" y2="469.62" stroke="#111" stroke-width="1.1" />
<line x1="628" y1="469.62" x2="633" y2="469.62" stroke="#111" stroke-width="1.1" />
<rect x="615.8" y="517.98" width="29.4" height="71.42" fill="#fff" stroke="#111" stroke-width="1"/>
<line x1="630.5" y1="589.4" x2="630.5" y2="592.9" stroke="#111" stroke-width="1.1" />
<line x1="667.4" y1="528.39" x2="667.4" y2="485.98" stroke="#111" stroke-width="1.1" />
<line x1="664.9" y1="485.98" x2="669.9" y2="485.98" stroke="#111" stroke-width="1.1" />
<rect x="652.5" y="528.39" width="29.8" height="61.01" fill="#fff" stroke="#111" stroke-width="1"/>
<line x1="667.4" y1="589.4" x2="667.4" y2="592.9" stroke="#111" stroke-width="1.1" />
<line x1="704.5" y1="535.83" x2="704.5" y2="500.12" stroke="#111" stroke-width="1.1" />
<line x1="702" y1="500.12" x2="707" y2="500.12" stroke="#111" stroke-width="1.1" />
<rect x="689.6" y="535.83" width="29.8" height="53.57" fill="#fff" stroke="#111" stroke-width="1"/>
<line x1="704.5" y1="589.4" x2="704.5" y2="592.9" stroke="#111" stroke-width="1.1" />
<text x="0" y="0" font-size="11.4" text-anchor="end" fill="#111" transform="translate(637.8,604.2) rotate(-42)">Days 1–2</text>
<text x="0" y="0" font-size="11.4" text-anchor="end" fill="#111" transform="translate(674.7,604.2) rotate(-42)">Days 1–3</text>
<text x="0" y="0" font-size="11.4" text-anchor="end" fill="#111" transform="translate(711.8,604.2) rotate(-42)">Days 1–4</text>
<text x="0" y="0" font-size="13.4" text-anchor="middle" fill="#111" transform="translate(565,513) rotate(-90)">No. of&#160; Tracked Units</text>
<text x="712.6" y="444.6" font-size="11.5" text-anchor="middle" fill="#111"  style=""><tspan font-style="italic">n</tspan> = 6 (slices)</text>
</svg></body></html>
